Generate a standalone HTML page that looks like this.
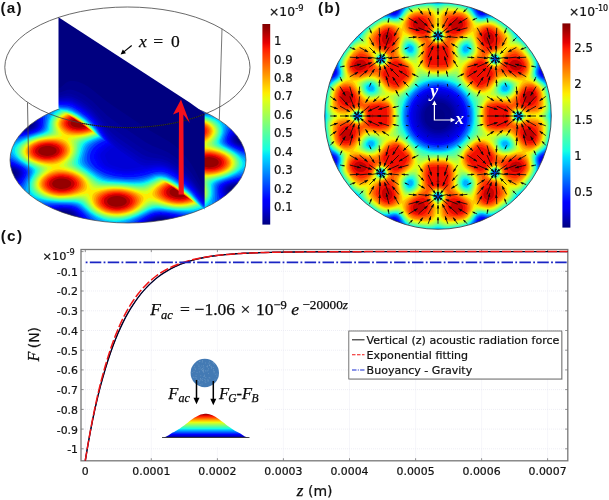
<!DOCTYPE html>
<html lang="en"><head><meta charset="utf-8"><title>Acoustic radiation force figure</title><style>html,body{margin:0;padding:0;background:#fff;overflow:hidden}
svg{display:block}
.tk{font-family:"DejaVu Sans","Liberation Sans",sans-serif;fill:#111;stroke:#111;stroke-width:0.22px}
.mi{font-family:"Liberation Serif","DejaVu Serif",serif;font-style:italic}
.mr{font-family:"Liberation Serif","DejaVu Serif",serif}
.bk{fill:#0a0a0a;stroke:#0a0a0a;stroke-width:0.25px}
.pl{font-family:"Liberation Sans","DejaVu Sans",sans-serif;font-weight:bold;font-size:15.3px;letter-spacing:1.3px;fill:#111}
</style></head><body>
<svg width="609" height="500" viewBox="0 0 609 500">
<defs><filter id="bl" x="-5%" y="-5%" width="110%" height="110%"><feGaussianBlur stdDeviation="0.7"/></filter><clipPath id="cb"><circle cx="438" cy="116" r="113.3"/></clipPath><clipPath id="ca"><ellipse cx="128" cy="160" rx="118" ry="63"/></clipPath><clipPath id="cp"><path d="M58.5 17.2L190 102.8L204.6 113.2L204.6 209.6L58.5 108.2z"/></clipPath><linearGradient id="ga" x1="0" y1="0" x2="0" y2="1"><stop offset="0.000" stop-color="#800000"/><stop offset="0.031" stop-color="#9f0000"/><stop offset="0.062" stop-color="#c40000"/><stop offset="0.094" stop-color="#e80000"/><stop offset="0.125" stop-color="#ff1e00"/><stop offset="0.156" stop-color="#ff3b00"/><stop offset="0.188" stop-color="#ff5900"/><stop offset="0.219" stop-color="#ff7700"/><stop offset="0.250" stop-color="#ff9400"/><stop offset="0.281" stop-color="#ffb200"/><stop offset="0.312" stop-color="#ffd000"/><stop offset="0.344" stop-color="#feed00"/><stop offset="0.375" stop-color="#e4ff13"/><stop offset="0.406" stop-color="#caff2c"/><stop offset="0.438" stop-color="#b1ff46"/><stop offset="0.469" stop-color="#97ff60"/><stop offset="0.500" stop-color="#7dff7a"/><stop offset="0.531" stop-color="#63ff94"/><stop offset="0.562" stop-color="#49ffad"/><stop offset="0.594" stop-color="#30ffc7"/><stop offset="0.625" stop-color="#16ffe1"/><stop offset="0.656" stop-color="#00e0fb"/><stop offset="0.688" stop-color="#00c0ff"/><stop offset="0.719" stop-color="#00a0ff"/><stop offset="0.750" stop-color="#0080ff"/><stop offset="0.781" stop-color="#0060ff"/><stop offset="0.812" stop-color="#0040ff"/><stop offset="0.844" stop-color="#0020ff"/><stop offset="0.875" stop-color="#0000ff"/><stop offset="0.906" stop-color="#0000ed"/><stop offset="0.938" stop-color="#0000c8"/><stop offset="0.969" stop-color="#0000a4"/><stop offset="1.000" stop-color="#000080"/></linearGradient><linearGradient id="gb" x1="0" y1="0" x2="0" y2="1"><stop offset="0.000" stop-color="#800000"/><stop offset="0.031" stop-color="#9f0000"/><stop offset="0.062" stop-color="#c40000"/><stop offset="0.094" stop-color="#e80000"/><stop offset="0.125" stop-color="#ff1e00"/><stop offset="0.156" stop-color="#ff3b00"/><stop offset="0.188" stop-color="#ff5900"/><stop offset="0.219" stop-color="#ff7700"/><stop offset="0.250" stop-color="#ff9400"/><stop offset="0.281" stop-color="#ffb200"/><stop offset="0.312" stop-color="#ffd000"/><stop offset="0.344" stop-color="#feed00"/><stop offset="0.375" stop-color="#e4ff13"/><stop offset="0.406" stop-color="#caff2c"/><stop offset="0.438" stop-color="#b1ff46"/><stop offset="0.469" stop-color="#97ff60"/><stop offset="0.500" stop-color="#7dff7a"/><stop offset="0.531" stop-color="#63ff94"/><stop offset="0.562" stop-color="#49ffad"/><stop offset="0.594" stop-color="#30ffc7"/><stop offset="0.625" stop-color="#16ffe1"/><stop offset="0.656" stop-color="#00e0fb"/><stop offset="0.688" stop-color="#00c0ff"/><stop offset="0.719" stop-color="#00a0ff"/><stop offset="0.750" stop-color="#0080ff"/><stop offset="0.781" stop-color="#0060ff"/><stop offset="0.812" stop-color="#0040ff"/><stop offset="0.844" stop-color="#0020ff"/><stop offset="0.875" stop-color="#0000ff"/><stop offset="0.906" stop-color="#0000ed"/><stop offset="0.938" stop-color="#0000c8"/><stop offset="0.969" stop-color="#0000a4"/><stop offset="1.000" stop-color="#000080"/></linearGradient><linearGradient id="gm" gradientUnits="userSpaceOnUse" x1="0" y1="413.5" x2="0" y2="437.5"><stop offset="0.000" stop-color="#800000"/><stop offset="0.062" stop-color="#c40000"/><stop offset="0.125" stop-color="#ff1e00"/><stop offset="0.188" stop-color="#ff5900"/><stop offset="0.250" stop-color="#ff9400"/><stop offset="0.312" stop-color="#ffd000"/><stop offset="0.375" stop-color="#e4ff13"/><stop offset="0.438" stop-color="#b1ff46"/><stop offset="0.500" stop-color="#7dff7a"/><stop offset="0.562" stop-color="#49ffad"/><stop offset="0.625" stop-color="#16ffe1"/><stop offset="0.688" stop-color="#00c0ff"/><stop offset="0.750" stop-color="#0080ff"/><stop offset="0.812" stop-color="#0040ff"/><stop offset="0.875" stop-color="#0000ff"/><stop offset="0.938" stop-color="#0000c8"/><stop offset="1.000" stop-color="#000080"/></linearGradient></defs>
<rect width="609" height="500" fill="#fff"/>
<g clip-path="url(#cb)"><g filter="url(#bl)"><rect x="322.7" y="0.7" width="230.6" height="230.6" fill="#000084"/>
<path fill="#00008d" d="M322.7 0.7l231 0 0 231-231 0zM435.7 109.4l-2.3 1.3-1.7 2.3-0.7 2.7 0.5 3 1.3 2 1.2 1 1.7 0.9 3 0.4 2-0.5 2-1.3 1.8-2.5 0.5-2-0.4-3-0.9-1.7-1-1.2-2-1.3-2-0.5z"/>
<path fill="#00009b" d="M322.7 0.7l231 0 0 231-231 0zM433.7 102.7l-3.9 2-1.1 1-1.9 2-1.1 1.9-0.3 1.1-0.7 1-0.3 4 0.3 4.3 1 2.7 2.5 3 2.4 2 1.9 1 3 1 5.2 0 1-0.5 2-0.5 1-0.7 1-0.3 4-4 0.3-1 0.7-1 0.5-2 0.5-1 0-5.2-1-3-1-1.9-2-2.4-3-2.5-2.7-1-2.3-0.3z"/>
<path fill="#0000a4" d="M322.7 0.7l231 0 0 231-231 0zM435.7 100.5l-3 0.8-2.9 1.4-2.6 2-1.8 2-1.7 3-1 3-0.3 3 0.2 3 0.9 3 1.2 2.5 1.9 2.5 2.3 2 2.8 1.6 3 1 3 0.3 3-0.2 3-0.9 3-1.5 2-1.6 2-2.3 1.4-2.4 1.1-3 0.4-3-0.1-3-0.8-3-1-2.2-2-2.8-2.1-2-2.9-1.8-3-1.1-3-0.4z"/>
<path fill="#0000b2" d="M322.7 0.7l231 0 0 231-231 0zM432.7 99.6l-3 1.3-3 2.1-2.5 2.7-1.8 3-1.1 3-0.5 3 0.2 4 0.7 3 1.4 3 2.2 3 2.4 2.1 3 1.8 3 1.1 3 0.5 4-0.2 3-0.7 3-1.4 3-2.2 2-2.2 1.7-2.8 1.2-3 0.6-3-0.1-4-0.7-3-1.3-3-2.1-3-2.3-2.2-3-1.9-3-1.2-3-0.6-4 0.1z"/>
<path fill="#0000bf" d="M322.7 0.7l231 0 0 231-231 0zM433.7 97.6l-4 1.4-3 1.9-3 2.8-2 2.8-1.5 3.2-0.9 4-0.1 4 0.5 3 1.6 4 1.9 3 2.5 2.6 3 2.1 3 1.4 4 0.9 4 0.1 3-0.5 4-1.5 3-2 2.3-2.1 2.2-3 1.4-3 1.1-4 0.1-4-0.4-3-1.4-4-1.9-3-2.4-2.7-3-2.2-3-1.4-4-1.1-4-0.1z"/>
<path fill="#0000c8" d="M322.7 0.7l231 0 0 231-231 0zM435.7 95.6l-4 0.9-4 1.8-3.3 2.4-2.7 2.9-2 3.1-1.5 4-0.7 4 0.2 4 0.9 4 1.9 4 2.3 3 2.9 2.7 3 1.9 4 1.5 4 0.7 4-0.2 4-0.9 3.6-1.7 3.4-2.5 2.4-2.5 2-3 1.6-4 0.7-4 0-4-0.9-4-1.8-4-2.1-3-2.9-2.8-3-2-4-1.6-4-0.7z"/>
<path fill="#0000d6" d="M322.7 0.7l231 0 0 231-231 0zM432.7 94.5l-4 1.4-4 2.4-3 2.7-2.7 3.7-1.9 4-1 4-0.2 5 0.7 4 1.5 4 2.5 4 2.9 3 3.2 2.3 4 1.9 4 1 5 0.2 4-0.7 4-1.5 3.6-2.2 3.2-3 2.3-3 1.9-4 1.1-4 0.3-5-0.6-4-1.4-4-2.4-4-2.7-3-3.3-2.5-4-1.9-4-1.1-5-0.3z"/>
<path fill="#0000df" d="M322.7 0.7l231 0 0 231-231 0zM332.7 71.3l-0.7 0.4-0.3 1 1 1 0.9-1 0.2-1zM394.7 9.7l-1 0.3-0.4 0.7 0.2 1 1.2-0.1 1-0.9zM433.7 92.6l-5 1.5-4 2.2-4 3.4-2.4 3-2.2 4-1.5 5-0.3 5 0.4 4 1.2 4 2 4 3.2 4 3.6 3 4 2.2 5 1.5 5 0.3 4-0.4 4-1.2 4.6-2.4 3.6-3 2.8-3.4 2.4-4.6 1.2-4 0.4-4-0.3-5-1.5-5-2.2-4-3-3.6-3-2.5-4-2.3-5-1.6-4-0.4zM481.7 9.7l-1 0.4-0.3 0.6 1.1 1 0.8 0 0.5-1zM542.7 71.3l-0.3 1.4 0.3 0.6 1 0.2 0.5-0.8-0.2-1zM332.7 158.4l-0.6 0.3-0.4 1 1 1.1 1-0.5 0.1-0.6zM393.7 220.4l-0.4 0.3 0.4 1.3 1 0.2 0.8-0.5-0.2-1-0.6-0.3zM480.7 220.7l-0.2 1 0.2 0.3 1 0.3 0.9-0.6 0.1-1-1-0.4zM542.7 158.7l-0.4 1 0.4 1 1-0.1 0.6-0.9-0.3-1-0.3-0.2z"/>
<path fill="#0000ed" d="M322.7 0.7l231 0 0 231-231 0zM331.7 70.4l-1 1-0.2 1.3 0.4 1 0.8 0.8 1 0.2 1.2-1 0.4-1 0.2-1-0.8-1.4-1-0.2zM393.7 8.6l-1.3 1.1-0.3 1 0.2 1 1.4 0.8 1-0.2 1-0.4 1-1.2-0.2-1-1.2-1zM436.7 90.7l-5 0.7-5 1.9-4 2.5-4 3.7-2.9 4.2-1.8 4-1.2 5-0.1 5 0.8 5 2 5 2.6 4 3.6 3.7 4 2.8 4 1.8 5 1.2 5 0.1 5-0.8 4.6-1.8 4.4-2.8 3.4-3.2 2.9-4 1.8-4 1.3-5 0.2-5-0.7-5-1.9-5-2.5-4-3.5-3.8-4-2.9-4-1.8-5-1.3zM480.7 8.6l-1.2 1.1-0.1 1 0.7 1 1.6 0.7 1 0 1-0.6 0.2-1.1-0.2-0.8-1-1.2-1-0.2zM541.7 70.7l-0.1 2 0.6 1 1.5 1.1 1-0.6 0.8-1.5-0.1-1-0.6-1-1.1-0.5-1 0zM331.7 157.5l-1.1 1.2-0.1 1 0.2 1 1.2 1 1.8 0.1 0.7-1.1 0-1-0.3-1-1.4-1.3zM392.7 219.7l-0.5 1 0 1 0.5 1.1 1 0.6 1 0.1 1.5-0.8 0.6-1-1.1-1.5-1-0.6zM481.7 219.6l-1 0.3-1 0.8-0.4 1 0.5 1 0.9 0.6 1 0.2 1-0.3 0.6-0.5 0.5-1 0.1-1-0.7-1zM543.7 157.3l-1 0.4-0.8 1-0.3 1 0.1 1.5 1 0.7 1-0.1 1-0.5 0.5-0.6 0.3-1-0.2-1-0.6-0.9z"/>
<path fill="#0000f6" d="M322.7 0.7l231 0 0 231-231 0zM331.7 69.5l-1.6 1.2-0.5 1 0 1 0.3 1 0.8 1 1 0.6 1-0.1 1-0.6 1-1.3 0.3-1.6-0.2-1-0.1-0.4-1-0.8zM393.7 7.6l-1 0.5-1 1.1-0.4 1.5 0.2 1 0.8 1 2.4 0.2 1-0.4 0.9-0.8 0.6-1 0.1-1-0.6-1-1-0.8zM432.7 89.6l-4 1.1-5.8 3-3.5 3-3.7 4.2-3 5.8-0.4 2-0.6 1.5-0.4 5.5 0.4 6 2 6 0.8 1 0.2 0.8 3 4.2 3 3 4.7 3 4.4 2 4.5 1 7.5 0 4.2-1 2.7-1 3.7-2 3.8-3 3.5-3.9 2-3 2-4.8 1-4.3 0-7.4-1-4.6-3-6.1-2-2.9-4.3-4-4.7-3-5.9-2-6.1-0.4zM481.7 7.6l-1 0.1-1.4 1-0.6 1 0 1 1 1.3 1 0.7 1 0.3 2.1-0.3 0.7-1 0-2-0.8-1.3-1-0.7zM541.7 69.7l-0.7 2 0.5 2 0.9 1 1.3 0.7 1-0.3 1-0.9 0.7-1.5-0.1-1-0.4-1-1.1-1-1.1-0.3zM331.7 156.7l-1.4 1-0.6 1 0 2 0.7 1 1.3 0.8 2 0 1-0.8 0.3-2-0.3-1-0.7-1-1.3-1zM391.7 219.7l-0.3 2 0.3 1.1 1 1.1 1 0.4 1 0.1 1.5-0.7 0.9-1 0.3-1-0.7-1.3-1-0.9-2-0.5zM480.7 219.3l-1.6 1.4-0.5 1 0.1 0.6 1 1.4 1 0.5 2 0 1-0.6 0.6-0.9 0.4-1-0.4-2-1.6-0.6zM543.7 156.6l-1.7 1.1-0.7 1-0.3 1 0.3 2 0.4 0.6 1 0.3 2-0.3 0.9-0.6 0.6-1 0.2-1-0.7-2-1-0.8z"/>
<path fill="#0000ff" d="M322.7 0.7l231 0 0 231-231 0zM332.7 68.7l-1 0.1-1.8 0.9-0.7 1-0.3 1 0 1 0.8 1.9 2 1.4 1-0.2 1.6-1.1 0.7-1 0.4-1-0.1-2-0.6-1.4zM392.7 7.2l-1 0.7-0.9 1.8 0 2 0.5 1 2.4 0.7 2-0.4 1-0.7 1.1-1.6 0.2-1-0.3-0.7-1-1.2-1-0.6-2-0.3zM435.7 88.7l-5 0.9-5.4 2.1-4.6 3-4 4-3 4.6-2 4.9-1 5.5 0 4.9 1 5.2 1 2.8 1.5 3.1 3.5 4.7 3.5 3.3 4.9 3 5.6 2 5 0.6 5-0.1 5-1.2 5-2.2 4.3-3.1 3.8-4 3-5 1.9-5.4 0.6-5.6-0.2-5-1.3-5-2.1-4.5-3-4.2-4-3.8-4-2.5-5-2-5.1-1zM479.7 7.5l-1 0.9-0.7 1.3 0.7 1.8 1 1.2 2 0.7 2-0.2 1.1-0.5 0.4-1 0-2-0.3-1-0.9-1-1.3-0.7-1-0.2zM543.7 68.7l-2 0.3-1 1.7-0.1 1 0.1 1.3 1 1.7 2 1.2 1-0.1 1.5-1.1 0.6-1 0.3-2-0.3-1-0.7-1-1.4-0.8zM330.7 156.5l-1.2 1.2-0.5 1 0 2 0.4 1 1 1 1.3 0.5 2 0 1-0.4 0.5-1.1 0.2-2-0.7-1.9-2-1.5-1-0.3zM392.7 218.7l-1.7 1-0.3 1 0.2 2 0.8 1.4 1 0.7 1 0.3 2-0.3 1-0.6 1-1.2 0.2-1.3-0.2-0.5-1-1.5-1-0.7-1-0.4zM481.7 218.6l-1 0.2-1 0.6-1 1.1-0.6 1.2 0.1 1 0.6 1 1.2 1 1.7 0.5 2-0.6 1-1 0.6-1.9 0-1-0.6-1.3-1-0.6zM542.7 156.6l-1.3 1.1-0.6 1-0.2 1 0.2 2 0.9 1.3 2 0.3 1-0.2 1-0.5 1-1.1 0.5-1.8-0.2-1-1.3-1.9-1-0.6-1-0.1z"/>
<path fill="#000cff" d="M322.7 0.7l231 0 0 231-231 0zM330.7 68.4l-1 0.6-1 1.1-0.5 1.6 0 1 0.5 1.5 1 1.3 2 1.1 1.9-0.9 1.2-1 1-2-0.1-2-1-2.1-2-0.5zM392.7 6.4l-1 0.6-1.3 1.7-0.3 2 0.5 2 2.1 1 2 0.1 1-0.3 1.1-0.8 0.9-1.1 0.9-1.9-0.4-1-0.7-1-1.8-1.2-2-0.3zM432.7 88.7l-5 1.4-5 2.6-4 3.2-4 4.8-2.6 5-1.4 5-0.6 5 0.6 5.8 1.6 5.2 2.7 5 3.3 4 4.4 3.6 5 2.6 5 1.4 6 0.5 5-0.5 5-1.6 5-2.7 4-3.3 3.3-4 2.7-5 1.6-5 0.5-5-0.5-6-1.4-5-2.6-5-3.6-4.4-4-3.3-5-2.7-5-1.6-5-0.5zM480.7 6.3l-2 1.2-1 1.5-0.2 0.7 0.9 2 0.8 1 1.5 0.9 2 0.2 2-0.6 0.7-0.5 0.5-2-0.2-1.6-0.7-1.4-1.3-1.1-1-0.4zM541.7 68.4l-1 1-0.4 1.3-0.1 2 0.3 1 0.7 1 1.2 1 1.3 0.7 1 0 1.3-0.7 1.5-2 0.3-2-0.2-1-0.6-1-1.3-1.1-2-0.5zM331.7 155.5l-2 1-1 1.2-0.4 1-0.1 2 0.4 1 0.8 1 1.3 0.9 1 0.3 2-0.1 1-0.4 0.9-1.7 0.2-2-0.2-1-1.4-2zM391.7 218.6l-1.3 1.1-0.3 2 0.5 2 0.8 1 1.3 0.9 1 0.2 2-0.3 1-0.5 1-1 0.7-1.3 0-1-1.2-2-1.2-1-1.3-0.5zM480.7 218.4l-2 1.4-1.1 1.9 0 1 1.1 1.8 1 0.7 1 0.5 2 0.1 2-1.1 0.7-1 0.5-2-0.2-1.6-1.1-1.4-1.9-0.5zM543.7 155.6l-1.9 1.1-0.9 1-0.7 2 0.6 3 0.9 0.9 1 0.3 2-0.1 1-0.4 1-0.7 1.1-2-0.1-2-1-1.7-1.7-1.3z"/>
<path fill="#0038ff" d="M322.7 0.7l231 0 0 231-231 0zM329.7 66.4l-2 1.1-1.1 1.2-0.8 2-0.1 2 0.7 2 1.6 2 2.7 1.5 1-0.1 3-1.7 1.6-1.7 0.7-2-0.1-2-0.9-3-0.3-0.6-0.7-0.4-2.3-0.7zM393.7 3.7l-2 0.4-2.2 1.6-1.1 2-0.4 3 0.5 2 0.6 1 2.6 1 3 0.3 2-0.7 1.7-1.6 1.3-2.2 0.5-1.8-1-2-1.5-1.6-2-1.2zM434.7 86.6l-6 1.3-5 2.2-5 3.5-3.9 4.1-3.2 5-2 5-1.1 6 0.2 6 1.4 6 2.2 5 3.4 4.7 4 3.8 5 3.2 5 2 6 1.1 6-0.2 6-1.4 4.9-2.2 4.3-3 4-4 3.3-5 2.1-5 1.1-6 0-6-1.3-6-2.2-5-3.2-4.6-4-4-5-3.3-5-2.1-6-1.1zM481.7 3.7l-2 0.5-2 1.4-1 1.2-0.9 1.9 0.1 1 0.8 1.6 1.8 2.4 2.2 1.2 2 0.1 2-0.4 2.3-0.9 0.8-2 0.2-2-0.8-3-1.5-1.8-2-1zM541.7 66.4l-1 0.4-1.1 1.9-0.7 3 0.3 2 1.3 2 1.2 1 3 1.5 1-0.1 2.3-1.4 1.6-2 0.7-2-0.4-3-1.3-2-1.9-1.2-3-0.5zM329.7 154.2l-2.1 1.5-1.4 2-0.5 2 0.2 2 0.3 1 1.5 1.8 2 1.1 3 0.4 2-0.5 1.2-0.8 1-3 0.1-2-0.5-2-1.6-2-1.6-1-1.6-0.8-1-0.1zM390.7 217.6l-1.9 1.1-0.7 2 0.1 3 0.8 2 1.7 1.7 2 0.8 3-0.2 2-1.1 1.9-2.2 0.6-2-1.5-3.1-1-1.1-2-1.3-2-0.3zM479.7 217.4l-2 1.7-1.5 2.6-0.4 1 0.6 2 1.3 1.7 2 1.4 1 0.4 2 0.1 2-0.5 2-1.7 1.1-2.4 0.1-3-0.7-2-1.5-1-2-0.6-2-0.1zM542.7 154.7l-2.6 2-1 2-0.1 2 0.7 2.9 1 1.6 1 0.4 2 0.4 3-0.5 1.4-0.8 1.7-2 0.5-2-0.1-2-0.4-1-1.4-2-2.7-1.8-1-0.1z"/>
<path fill="#0060ff" d="M322.7 0.7l231 0 0 231-231 0zM328.7 64.4l-2.5 1.3-2 2-0.8 2-0.1 2 0.7 3 1.1 2 2.6 2.1 3 1 4-2.2 2.2-1.9 1-2 0-3-1.2-4.4-1-1.2-2-0.8-2-0.3-2 0.1zM356.7 114.7l-0.7 1 0.2 1 0.5 0.5 1 0.3 1-0.6 0.3-1.2-0.3-0.6-1-0.6zM380.7 57.6l-1 0.9 0 1.2 1 0.8 1-0.1 0.7-0.7 0.1-1-0.8-1zM391.7 1.4l-2 0.8-1 0.9-1.9 2.6-0.9 3 0.4 3 0.8 2 1.2 1 4.4 1.2 3 0 2-1 1.9-2.2 2.2-4-0.2-1-1.5-3-2-2-3.4-1.3zM430.7 85.6l-6 2.1-5 2.9-4.6 4.1-3.8 5-2.8 6-1.5 6-0.2 6 0.9 6 2.2 6 3 5 3.8 4.2 5 3.8 6 2.8 6 1.5 6 0.2 6-0.9 6-2.2 5-3 4.7-4.4 3.3-4.4 2.7-5.6 1.5-6 0.4-6-0.9-6-2.1-6-2.9-5-3.7-4.2-5-4-6-2.9-6-1.5-6-0.4zM436.7 34.7l-0.2 1 0.6 1 0.6 0.3 1.2-0.3 0.6-1-0.3-1-0.5-0.5-1-0.2zM480.7 1.6l-3 1.2-1.8 1.9-1.2 2-0.5 2 1.6 3 1.9 2.6 2 1.4 3 0.3 5-1.3 1.2-1 1-3 0.1-3-0.8-2-1.5-2.2-2-1.6-2-0.6zM494.7 57.6l-1.2 1.1 0 1 1.2 0.9 1-0.3 0.6-0.6 0.1-1-0.7-1zM517.7 114.7l-0.7 1 0.2 1 0.5 0.5 1 0.3 1-0.6 0.3-1.2-0.3-0.5-1-0.7zM541.7 64.5l-2.1 1.2-1.5 5 0 3 1 2 2.3 2 3.3 1.8 1 0.3 1-0.3 3-1.7 1.8-2.1 0.8-2 0.4-2-0.4-3-1.6-2.2-3-2-3-0.5zM329.7 152.4l-2.8 1.3-2.1 2-1.2 3-0.3 3 0.6 2 0.6 1 2.2 1.9 3 1.4 3-0.1 3-1 1-1.2 1.2-4 0-3-0.7-2-2-2-4.5-2.5zM380.7 171.5l-1 0.9 0 1.3 1 0.7 1-0.1 0.6-0.6 0.3-1-0.9-1.2zM390.7 216.5l-3.2 1.2-1 2-0.5 2 0 2 1 3 1.7 2.2 1 0.8 2 0.9 3 0 3-1.1 2.1-1.8 1.7-3 0.3-1-1.3-3-1.8-2.6-2-1.6-3-0.5zM436.7 195.7l-0.2 1 0.7 1 0.5 0.3 1.2-0.3 0.6-1-0.3-1-0.5-0.5-1-0.2zM479.7 216.3l-2 1.4-2 2.7-1.5 3.3 0.5 1.6 2 3 2 1.4 2 0.7 2 0.3 3-0.6 1-0.6 1.6-1.8 1.5-3 0.2-3-0.9-3-0.6-1-3.8-1.3-3-0.4zM494.7 171.4l-1 0.7-0.3 0.6 0.2 1 1.1 0.7 1-0.2 0.5-0.5 0.2-1-0.7-1.1zM544.7 152.5l-3 1.6-2 1.6-1.4 2-0.3 3 0.6 3 1.1 2.8 3 1.3 3 0.2 3-1 2-1.5 1.4-1.8 0.6-3-0.5-3-1-2-0.9-1-3-2-1.6-0.5z"/>
<path fill="#0088ff" d="M322.7 0.7l63.9 0-1.6 3-1.4 4-0.1 2 1 3 1.2 2 1 0.6 6 1.5 2 0.1 2-0.4 2.5-1.8 1.5-2.1 2.7-4.9-0.7-2.7-1-2.1-0.9-1.2-1.4-1 77.2 0-1.4 1-0.8 1-1 2-0.8 3 2.2 4 2 3 1.9 1.5 1 0.4 2 0.3 3-0.4 5-1.4 0.6-0.4 1.2-2 1-3-0.1-2-1.4-4-1.6-3 64.3 0 0 64.2-3-1.7-4-1.5-2-0.2-3 0.8-2 1.1-1 1.1-1.3 5.2-0.3 3 0.4 2 1.3 2 2.6 2 4.3 2.6 2-0.2 3.4-1.4 1.3-1 1.3-2 0 78.6-1-1.6-2-1.6-3-1.2-2-0.2-4.9 3-2.1 1.7-1.3 2.3-0.3 2 0.2 2 1.4 6 1 0.9 2 1 3 0.9 2-0.2 4-1.5 3-1.7 0 64.6-64.6 0 1.7-3 1.5-4 0.2-2-0.9-3-1-2-0.9-1-6-1.4-2-0.2-2 0.3-2.3 1.3-1.7 2.1-3 4.9 0.2 2 1.2 3 1.6 2 1.6 1-78.6 0 2-1.3 1-1.3 1.4-3.4 0.2-2-2.6-4.3-2-2.6-2-1.3-2-0.4-3 0.3-5.2 1.3-1.1 1-1.1 2-0.8 3 0.2 2 1.5 4 1.7 3-64.2 0 0-64.3 3 1.6 4 1.4 2 0.1 3-1 2-1.2 0.4-0.6 1.4-5 0.4-3-0.3-2-0.4-1-1.5-1.9-3-2-4-2.2-3 0.8-2 1-1 0.8-1 1.4 0-77.2 1 1.4 1.2 0.9 2.1 1 2.7 0.7 4.9-2.7 2.1-1.5 1.8-2.5 0.4-2-0.1-2-1.5-6-0.6-1-2-1.2-3-1-2 0.1-4 1.4-3 1.6zM356.7 114.1l-1 0.8-0.3 0.8 0.1 1 1.2 1.2 1 0.2 1-0.3 0.8-1.1 0.1-1-0.4-1-1.5-0.8zM379.7 57.4l-0.7 1.3 0.1 1 0.6 1 1 0.5 1-0.1 0.8-0.4 0.6-1 0.1-1-0.5-1-1-0.6-1-0.1zM431.7 83.6l-4 1.1-2.7 1-5.3 2.9-5 4.1-4.1 5-2.9 5.3-2 6.3-0.6 6.4 0.6 7 2 6.3 3 5.5 3.5 4.2 4.5 4 5 3 5.2 2 5.8 1.1 4 0.1 4-0.3 4-0.8 3-1 4.5-2.1 4.5-3 5-5 2.1-3 1.7-3 2.2-5.6 1.1-5.4-0.1-8-1.1-5-1-3-1.9-4-2-3-2-2.5-2.5-2.5-3.5-2.9-5.7-3.1-6.3-2-6-0.6zM437.7 33.4l-1 0.4-0.6 0.9-0.2 1 0.8 1.5 1 0.4 1-0.1 1.1-0.8 0.3-1-0.2-1-0.8-1zM493.7 57.4l-0.9 1.3 0.1 1 0.6 1 1.2 0.5 1.5-0.5 0.7-1 0.1-1-0.4-1-0.9-0.6-1-0.1zM517.7 114.1l-1 0.8-0.3 0.8 0.1 1 1.2 1.3 1 0.1 1-0.3 0.8-1.1 0.1-1-0.5-1-1.4-0.8zM379.7 171.3l-0.7 1.4 0.1 1 0.6 0.9 1 0.4 1-0.1 1-0.7 0.5-1.5-0.5-1.2-1-0.6-1-0.1zM437.7 194.4l-1 0.4-0.6 0.9-0.2 1 0.8 1.4 1 0.5 1-0.1 1-0.7 0.4-1.1-0.4-1.4-1-0.8zM493.7 171.2l-0.9 1.5 0.2 1 0.7 1 1 0.3 1.4-0.3 0.8-1 0.1-1-0.3-1-1-0.7-1-0.2z"/>
<path fill="#00b0ff" d="M330.3 0.7l51.3 0-1.6 7-0.1 3 0.6 1 3.4 4 8.8 1.9 2 0.1 2-0.4 2.6-1.6 1.4-1.7 3-4.7 1.4-1.6 0.3-1-0.6-6 30.7 0 1.2 1.5 1 0.5 1-0.1 1.7-1.9 30.8 0-0.5 6 0.2 1 1.7 2 2.5 4 1.6 2 2 1.4 3 0.6 10-1.8 1.4-1.2 2.4-3 0.7-1 0-2-1.8-8 51.4 0-26.1 26.1-0.6 0.9-1.5 6 0 1 0.8 1 1.3 0.7 3-0.5 4.1-1.2 26.9-26.9 0 51.9-7-1.7-3-0.2-1 0.3-4 3.4-0.7 1.2-1.6 8-0.1 2 0.3 2 0.5 1 1.6 2 6 4 2 1.7 6-0.5 1-0.4 0 30.8-1.9 1.4-0.2 1 0.1 1.4 2 1.6 0 30.8-1-0.4-6-0.4-8.4 6-1.4 2-0.6 3 1.7 10 4.7 4.2 1 0.3 3-0.2 7-1.7 0 51.8-27-26.9-7-1.6-1 0.1-1 1-0.1 1 1.6 7 26.9 27-51.8 0 1.7-7 0.2-3-0.3-1-4.2-4.7-10-1.7-3 0.6-2 1.4-6 8.4 0.4 6 0.4 1-30.8 0-1.6-2-1.4-0.1-1 0.2-1.4 1.9-30.8 0 0.4-1 0.5-6-1.7-2-4-6-2-1.6-1-0.5-2-0.3-2 0.1-8 1.6-1.2 0.7-3.4 4-0.3 1 0.2 3 1.7 7-51.9 0 26.9-26.9 1.2-4.1 0.5-3-0.7-1.3-1-0.8-1 0-6 1.5-0.9 0.6-26.1 26.1 0-51.4 8 1.8 2 0 1-0.7 3-2.4 1.2-1.4 1.8-10-0.6-3-1.4-2-2-1.6-4-2.5-2-1.7-1-0.2-6 0.5 0-30.8 1.9-1.7 0.1-1-0.5-1-1.5-1.2 0-30.7 6 0.6 1-0.3 1.6-1.4 4.7-3 1.7-1.4 1.6-2.6 0.4-2-0.1-2-1.9-8.8-4-3.4-1-0.6-3 0.1-7 1.6 0-51.3 26.5 26.4 4.5 1.3 3 0.4 1-0.6 0.7-1.1-0.4-3-1.3-4.5zM380.7 56.5l-1 0.3-0.9 0.9-0.3 1 0 1 1.2 1.6 1 0.4 1 0 1.5-1 0.5-1 0-1-1-1.7-1-0.5zM430.7 82.5l-6 1.9-6 3.3-3 2.4-2.7 2.6-4 5-3 6-1.7 6-0.5 7 0.3 4 0.5 3 2 6 3.4 6 4.7 5.3 5 4 6 3 6 1.7 7 0.5 4-0.3 3-0.5 6-2 6-3.4 5-4.4 4-4.9 3.1-6 1.8-6 0.4-3 0.2-4-0.2-4-0.5-3-1.9-6-3.3-6-4.6-5.3-5-4.1-6-3.1-6-1.8-3-0.4-4-0.2-4 0.2zM436.7 33.2l-1.2 1.5-0.1 1 0.2 1 0.9 1 1.2 0.4 1.7-0.4 0.9-1 0.3-1-0.1-1-0.6-1-1.2-0.7-1-0.1zM494.7 56.5l-1 0.3-1 0.9-0.4 1 0.1 1 0.4 1 0.9 0.7 1 0.3 1-0.1 1-0.6 0.8-1.3 0-1-0.8-1.6-1-0.5zM517.7 113.5l-1.5 1.2-0.3 1 0.1 1 0.7 1.2 1 0.6 1 0.1 1-0.3 0.8-0.6 0.5-1 0.1-1-0.3-1-1-1-1.1-0.3zM356.7 113.5l-1.5 1.2-0.3 1 0.1 1 0.5 1 1.2 0.8 1 0.1 1-0.3 0.8-0.6 0.5-1 0.1-1-0.3-1-1.1-1.1-1-0.2zM379.7 170.7l-0.9 1-0.3 1 0.1 1 0.5 1 1.6 0.8 1 0 1-0.5 0.9-1.3 0.1-1-0.3-1-0.7-0.9-1-0.4-1-0.1zM436.7 194.2l-1.2 1.5-0.1 1 0.3 1 1 1.1 1 0.3 1.7-0.4 0.9-1 0.3-1-0.1-1-0.6-1-1.2-0.7-1-0.1zM493.7 170.6l-1.1 1.1-0.3 1 0.4 1.6 1 0.9 1 0.3 1-0.1 1-0.5 0.7-1.2 0.1-1-0.3-1-0.5-0.7-1-0.6-1-0.1z"/>
<path fill="#00dcfe" d="M412.2 1.7l3.2-1 14.7 0 2 2 5.6 1 2-0.1 4.2-0.9 2-2 14.7 0 3.1 1 2 1.2 1 1.2 1.3 2.6 0.7 0.3 2.9 2.7 4.1 6 1 1 2 1.2 2 0.5 2 0 6-1.2 2-0.2 4 0.3 2-0.7 2-0.1 2 0.5 3 1.6 5.4 4.1 3.6 3.5 1.2 2.5 0.1 3 3.5 5 4.2 3.1 4 0.4 2 1 3 3 4.3 5.5 1.8 3 0.7 3-0.2 2-0.7 2 0.3 5-1.3 7 0.1 2 0.6 2 1.4 2 1 1 5.9 4 3.1 3.5 3 1.8 1.8 2.7 0.9 3 0.3 1.8 0 11.9-0.8 1.3-1.2 1.1-1 3-0.4 2.9 0.4 3.5 1 3 2 2.4 0 11.8-0.4 2.3-1 3-1.2 2-1.2 1-2.2 1.1-3.6 3.9-5.4 3.7-1.4 1.3-1.2 2-0.5 2 0 2 1.3 7-0.3 4 0.8 3 0.1 2-0.5 2-1.6 3-4.6 6-3.1 3.1-2 1-3 0.2-1 0.4-3 1.9-1.6 1.4-2.7 4-0.4 1-0.2 3-1 2-3.1 3.1-6 4.6-3 1.6-2 0.5-2-0.1-3-0.8-4 0.3-7-1.3-2 0-2 0.5-2 1.2-1.3 1.4-3.7 5.4-3.9 3.6-1.1 2.2-1 1.2-2 1.2-3 1-2.3 0.4-11.8 0-2.4-2-3-1-3.5-0.4-2.9 0.4-3 1-1.1 1.2-1.3 0.8-11.9 0-1.8-0.3-3-0.9-2.7-1.8-1.8-3-3.5-3.1-4-5.9-1-1-2-1.4-2-0.6-2-0.1-7 1.3-5-0.3-2 0.7-2 0.2-3-0.7-3-1.8-5.5-4.3-3-3-1-2-0.4-4-3.1-4.2-5-3.5-3-0.1-2.5-1.2-3.5-3.6-4.1-5.4-1.6-3-0.5-2 0.1-2 0.7-2-0.3-4 0.2-2 1.2-6 0-2-0.5-2-1.2-2-1-1-6-4.1-2.7-2.9-0.3-0.7-2.6-1.3-1.2-1-1.2-2-1-3 0-14.8 2-2 0.9-4.2 0.1-2-1-5.6-2-2 0-14.7 0.8-2.7 1.2-2.1 1-1 3-1.6 0.8-1.3 2.2-2.3 6-4.1 2-2.6 0.6-2 0.1-2-1.3-7-0.1-2 0.4-3-0.7-2-0.2-2 0.7-3 1.5-2.6 5-6.4 3-2.8 2-0.8 3-0.2 2.2-1.2 2.8-2.2 2-2.6 1.2-2.2 0.2-3 0.8-2 2.8-3 6-4.7 3-1.8 3-0.7 2 0.2 2 0.7 3-0.4 2 0.1 7 1.3 2-0.1 2-0.6 1.6-1 1.4-1.5 4-5.8 2-1.9 1.3-0.8 1.7-3.1 1-1zM436.7 32.7l-1 0.8-0.6 1.2 0.1 2 0.6 1 0.9 0.6 1 0.3 1-0.1 1-0.4 1-1.1 0.4-1.3-0.1-1-0.5-1-1.3-1-1.5-0.3zM465.7 45.6l-1.8 1.1-0.8 2 0.1 1 0.5 1.2 1 0.8 1 0.1 1-0.3 1-0.7 1-2.1-0.1-1-0.9-1.6-1-0.5zM493.7 56.3l-1.5 1.4-0.3 2 0.4 1 1 1 1.4 0.5 1-0.1 1-0.5 1-1.3 0.3-1.6-0.3-1-0.8-1-1.2-0.6zM504.7 85.4l-1 0.5-0.9 0.8-0.5 1-0.1 1 0.3 1 1.2 1 2 0.2 2-1.2 0.8-2-0.3-1-1.1-1-1.4-0.4zM516.7 113.5l-1 1.2-0.3 1 0.1 1 0.4 1 0.8 0.8 1 0.5 1 0.1 1.2-0.4 1.2-1 0.4-1 0.1-1-0.3-1-0.6-0.8-1-0.7-2-0.2zM355.7 113.5l-1 1.2-0.3 1 0.1 1 0.4 1 0.8 0.8 1 0.5 1 0.1 1.3-0.4 1.1-1 0.4-1 0.1-1-0.3-1-0.6-0.9-1-0.6-2-0.1zM369.7 85.4l-1 0.4-1 0.9-0.2 1 0.2 1 0.6 1 1.4 1 2 0.1 1-0.4 0.8-0.7 0.3-1-0.1-1-0.5-1-1.5-1.1zM379.7 56.3l-1 0.8-0.7 1.6 0.5 2 1 1 1.2 0.4 2-0.4 1-1 0.4-1-0.3-2-0.8-1-1.3-0.6zM409.7 45.5l-1 0.2-0.9 1-0.5 2 0.4 1.3 1 1.2 1 0.5 1 0.1 1-0.3 0.7-0.8 0.5-2-0.2-1-1-1.4-1-0.6zM435.7 80.7l-4 0.4-3 0.6-4 1.4-3 1.3-3 1.8-3 2.3-5.2 5.2-3.8 5.5-2.7 6.5-1.2 6 0 8 0.5 4 0.8 3 1.6 4 1.5 3 3.6 5 5.9 5.7 3 2 3 1.7 6 2.2 6 1 7-0.1 3.8-0.5 3.2-0.8 4-1.6 3-1.5 5-3.6 5.3-5.5 3.7-5.7 2.5-6.3 1-6 0-8-0.5-3.2-1-3.7-2.7-6.1-3.5-5-5.8-5.7-5-3.4-6-2.5-6-1.3zM493.7 170.1l-1 0.6-0.6 1-0.2 2 0.5 1 1.3 1 1 0.3 1.5-0.3 1.3-1 0.4-1-0.2-2-1-1.3-1-0.5zM503.7 141.4l-1 0.7-0.5 1.6 0.3 1 0.7 1 1.5 0.9 1 0.1 2-0.8 0.7-1.2 0-1-0.7-1.3-1-0.9-1-0.3zM369.7 141.3l-1.7 1.4-0.4 1 0.1 1.4 1 1.1 1 0.4 2-0.2 1.1-0.7 0.7-1 0.3-1-0.1-1-0.8-1-1.2-0.5zM379.7 170.2l-1.4 1.5-0.2 2 0.4 1 1.2 1 1 0.3 2-0.5 0.9-0.8 0.5-1 0.1-1-0.5-1.4-1-1-1-0.4zM409.7 180.3l-1 0.5-0.8 0.9-0.6 2 0.2 1 0.6 1 0.6 0.5 1 0.3 2-0.8 1-1.5 0.2-1.5-0.2-1-1-1.2-1-0.3zM436.7 193.7l-1.2 1-0.5 1 0.2 2 0.7 1 0.8 0.6 1 0.3 1-0.1 1-0.4 1-1.2 0.4-1.2-0.1-1-0.5-1-1.2-1-1.6-0.3zM464.7 180.3l-1.3 1.4-0.2 2 0.3 1 0.9 1 1.3 0.7 1 0 1-0.5 0.8-1.2 0.1-2-0.5-1-1-1-1.4-0.5z"/>
<path fill="#19ffde" d="M425.5 3.7l2.2-0.3 3 0.1 7 1.2 7-1.1 3-0.2 8 0.7 6 1.1 4 1.3 3.7 2.2 2.3 2.4 2.3 3.6 1.7 2 3 2 2 0.4 2 0 7-1.3 4 0.5 3 1.1 2 1.1 7 4.8 6 5.3 5 6.7 5 3.5 3.1 2.9 4.2 5 4.2 6 2.3 5 0.6 3-0.1 3-1.1 6 0.1 2 0.5 2 2.2 3 5.7 4 2.7 3 2.2 5 1 4 0.9 6 0.3 8-1.2 7 1.1 7 0.1 3-0.4 6-0.8 6-1.1 4-1.2 3-1.3 2.2-2.8 2.8-5.2 3.6-1.2 1.4-1.2 2-0.4 2 0 2 1.2 6-0.2 4-1.8 5-3.9 6-3.1 4-3.7 4-6.7 5-3.5 5-1.8 2-3.7 3.4-7 5.2-5 2.7-4 1.1-3 0-6-1.2-2 0-2 0.4-3 2-5 6.8-3 2.4-4 1.7-4 1.1-6 0.8-8 0.4-8-1.2-6 1.1-3 0.1-6-0.3-7-1.1-4-1.1-3-1.3-2-1.3-2-2-4-5.7-3-2.2-2-0.5-2-0.1-6 1.1-4 0-2-0.5-3-1.2-5-3-4-3.1-5-4.4-1.9-2.1-3.5-5-5.6-4-2.1-2-4.3-5-4.2-6-1.7-3-1.1-3-0.4-2 0-3 1.2-6 0-2-0.4-2-2-3-2-1.7-4-2.6-2.6-2.7-1.6-3-1.3-4-1.1-6-0.7-9 1.3-9-1.1-6-0.2-4 0.8-8 0.9-5 1.2-4 2.3-4 2.1-2.1 5.6-3.9 2.2-3 0.5-2 0.1-2-1.2-7 0.3-4 2-5 4-6 4.1-5 2.4-2.5 7-5.3 3.6-5.2 3.4-3.4 5-4.1 6-4 4-1.7 3-0.6 3 0.1 6 1.1 2-0.1 2-0.5 3-2.2 5-6.8 3-2.2 2-1 4-1.2 5-0.9zM433.7 79.6l-4 0.6-3 0.8-3 1-4 2.1-3 2-3 2.6-3.9 4-2.4 3-1.9 3-1.5 3-1.8 6-0.7 6 0 5 0.4 4 0.6 3 1.3 4 1.4 3 1.8 3 4.1 5 3.6 3.5 3 2.4 3 1.9 3 1.5 6 1.8 6 0.7 5 0 4-0.4 4-0.9 3-1 6-3.2 3-2.2 4-3.9 4.3-5.2 3.2-6 1.7-6 0.6-6-0.3-8-0.9-4-0.9-3-3.1-6-4-5-3.6-3.6-3-2.4-3-2-3-1.5-5-1.7-6-0.9zM436.7 32.2l-1.7 1.5-0.4 1 0.1 2 1 1.4 1 0.7 2 0.2 1-0.4 1-0.9 0.6-1 0.1-2-0.4-1-0.9-1-1.4-0.7zM464.7 44.4l-1.7 1.3-0.7 1-0.6 1.9 0 1.1 0.7 2 0.8 1 1.5 0.7 1 0 2-0.7 1.1-1 1.1-2 0.1-2-0.7-2-1.6-1.5-1-0.2zM494.7 55.6l-1 0.2-1.3 0.9-0.7 1-0.3 1 0.3 1.7 0.9 1.3 1.1 0.7 1 0.2 1-0.1 1.5-0.8 0.8-1 0.4-2-0.9-2-1.7-1zM503.7 84.3l-1.9 1.4-0.7 1-0.4 1 0 2 0.5 1 1.5 1.2 2 0.4 2-0.3 1.9-1.3 0.8-1 0.4-1 0.1-2-0.4-1-1.8-1.3-2-0.4zM517.7 112.6l-1 0.4-1 0.9-0.7 1.8 0.1 1 0.6 1.4 1 0.9 1 0.4 2-0.1 1-0.6 0.9-1 0.4-1-0.2-2-0.7-1-1.4-1zM356.7 112.6l-1 0.4-1 0.9-0.7 1.8 0 1 0.7 1.4 1 0.9 1 0.4 2-0.1 1-0.6 0.9-1 0.4-1-0.2-2-0.7-1-1.4-1zM367.7 84.6l-1.2 1.1-0.4 1-0.1 1 0.6 2 1.1 1.3 2 1.1 2 0.2 1.9-0.6 1.2-1 0.5-1 0-2-0.6-1.3-1-1.2-1-0.7-2-0.5-2 0.2zM380.7 55.6l-1 0.3-1.2 0.8-0.6 1-0.3 2 1.2 2 0.9 0.6 2 0.2 1-0.3 1-0.8 0.8-1.7 0.1-1-1-2-0.9-0.7zM407.7 44.5l-1.1 1.2-0.6 2 0.1 2 0.6 1.3 1 1.2 2 1.1 2 0 1-0.5 1-1.2 0.6-1.9-0.2-2-0.4-1-1-1.3-2-1.2-2-0.1zM409.7 178.7l-1.9 1-0.9 1-0.6 1-0.3 2 0.4 2 0.5 1 1.2 1 1.6 0.3 1.3-0.3 1.7-1.1 1.3-1.9 0.3-2-0.4-2-1.2-1.5-1-0.5zM436.7 193.2l-1 0.7-0.7 0.8-0.4 1 0.1 2 0.6 1 1.3 1 1.1 0.3 1 0 1-0.4 1-0.9 0.6-1 0.1-2-0.7-1.4-1-0.9-1-0.3zM464.7 178.6l-1 0.4-1 0.8-0.5 0.9-0.5 2 0.3 2 1.4 2 1.3 0.9 2 0.4 1-0.2 1-0.7 1-1.5 0.3-1.9-0.3-1.9-1-1.6-1-0.9-1.5-0.6zM493.7 169.6l-1.5 1.1-0.6 1-0.1 2 0.4 1 0.8 0.9 1 0.6 2 0.1 1-0.3 1-0.9 0.6-1.4-0.1-2-0.6-1-0.9-0.8-1-0.4zM504.7 139.7l-2 0.5-0.9 0.5-0.8 1-0.4 1 0.2 2 1.4 2 1.5 1 2 0.3 2-0.3 1.4-1 0.7-1 0.2-1-0.4-2-0.9-1.3-1-0.9-2-0.8zM370.7 139.7l-2 0.6-1 0.7-1 1.2-0.6 1.5 0.1 2 0.5 0.8 1.7 1.2 1.3 0.3 2-0.1 2-1.1 1-1.1 0.7-2-0.4-2-0.8-1-1.5-0.8zM379.7 169.7l-1 0.7-0.9 1.3-0.1 2 0.4 1 0.6 0.8 1 0.6 2 0.2 1-0.3 1-0.8 0.8-1.5-0.1-2-0.7-1.1-1-0.8-1-0.3z"/>
<path fill="#39ffbe" d="M423.4 4.7l7.3-0.3 7 1.3 7-1.3 3-0.1 7 0.6 7 1.3 4 1.2 3 1.7 2.6 2.6 3.4 4.9 3 2.4 1 0.4 3 0.4 7-1.2 4 0.3 2 0.6 3 1.4 5.7 3.8 7.3 6.1 1.7 1.9 3.3 5 1.1 1 4.6 3 2.3 2.1 4.2 4.9 4.3 6 2.1 4 1.1 4-0.1 3-1 6 0 2 0.4 2 0.5 1 1.6 2 1.9 1.6 4 2.7 2.5 2.7 1.1 2 1.1 3 1.4 7 0.7 6 0.2 4-0.4 3-0.9 4-0.1 2 1.1 5 0.3 4-0.5 6-1.2 7-1.4 5-1.7 3-2.2 2.3-5.3 3.7-2.5 3-0.5 2-0.1 2 1 7-0.2 4-1.5 4-3.8 6-4.1 5.3-3 3.2-7 5.1-3 4.6-2.5 2.8-5.5 4.6-6 4.2-4 2-3 0.8-3 0-7-1-2 0.1-2 0.5-3 2.5-4 5.6-3 2.6-2 1-3 1-7 1.3-9 0.8-3-0.3-4-0.9-2-0.2-6 1.2-3 0.2-7-0.6-7-1.2-4.1-1.2-3.5-2-2.1-2-3.5-5-1.8-1.8-2-1.2-2-0.4-2 0-7 1.1-3-0.2-4-1.4-6-3.7-5.7-4.4-3.2-3-5.1-7-5-3.3-2-1.8-5-5.8-4-5.7-2.2-4.4-0.8-3-0.1-3 1.1-6-0.3-4-1-2-1.7-1.9-5.7-4.1-2.6-3-1-2-1-3-1.3-7-0.8-9 0.3-3 0.9-4 0.2-2-1.2-6-0.2-3 0.6-7 1.2-7 1.6-5 1.9-3 2.1-2 5-3.5 1.4-1.5 1.2-2 0.4-4-1-6 0.1-4 0.5-2 1.4-3 4-6.1 3.9-4.9 2.8-3 6.9-5 3.3-5 2.1-2.3 6-5 6-4.2 4-1.9 3-0.7 3 0.1 6 1 4-0.4 3-2.1 4.8-6.5 3.2-2.5 3-1.3 3-0.8zM431.7 78.6l-4 0.6-3 0.8-3 1.3-3 1.8-4 3.2-5.5 5.4-2.7 3-2.1 3-2.4 5-1.3 6.1-0.2 10.9 0.8 7 0.8 3 1.4 3 3.4 5 7.8 8 3 2.5 3 2 5 2.1 6 1.1 10 0.1 7-0.8 5-1.7 3-1.7 3-2.2 8.6-8.4 2.3-3 1.9-3 2-5 0.9-6 0.1-10-0.8-6.4-0.7-2.6-1.3-3-3.2-5-7.8-8.1-3-2.5-3-2.1-4-1.9-6-1.3-5-0.4zM437.7 31.6l-1 0.2-1.4 0.9-0.7 1-0.5 2 0.6 1.9 1 1.1 1 0.5 2 0.2 1.5-0.7 1-1 0.5-1 0.1-2-1.1-2-1-0.7zM463.7 43.7l-1.2 1-1.4 2-0.5 2 0.1 2 0.8 2 1.2 1.3 1 0.6 2 0.1 2.5-1 2-2 0.8-2-0.1-3-0.8-2-1.4-1.5-2-0.5zM493.7 55.4l-1 0.5-1 1-0.7 1.8 0.1 1 0.6 1.6 1 1 1 0.5 2 0.1 2-1.1 0.7-1.1 0.4-1-0.2-2-0.9-1.4-1-0.7-1-0.3zM502.7 83.6l-1.5 1.1-1.4 2-0.6 2 0.4 2 1.1 1.4 2 1 3 0.3 2-0.7 1.4-1 1.5-2 0.6-2-0.2-2-1.3-1.5-2-1-3-0.2zM516.7 112.5l-1 0.8-0.9 1.4-0.2 2 0.4 1 0.7 1 1 0.8 1 0.3 2-0.1 1.6-1 0.7-1 0.4-2-0.2-1-0.6-1-1.9-1.4-2-0.1zM355.7 112.6l-1.3 1.1-0.6 1-0.2 1 0.4 2 0.7 1 2 1.1 2-0.1 1-0.5 1-1 0.7-1.5-0.2-2-0.5-1-1-0.9-1-0.5-2-0.1zM367.7 83.4l-2 1.3-0.7 1-0.2 1 0 1 0.6 2 1.3 1.9 2 1.3 2 0.5 3-0.4 2-1.3 0.7-1 0.4-2-0.6-2-1.4-2-1.3-1-1.8-0.7-2-0.1zM379.7 55.4l-1 0.5-1.3 1.8-0.1 2 0.3 1 1.1 1.5 1 0.5 2 0.3 1-0.3 1.3-1 0.7-1 0.3-1-0.3-2-0.5-1-1.5-1.1-1-0.3zM406.7 43.7l-1.3 2-0.5 2 0.1 2 0.7 1.8 1 1.3 2 1.4 2 0.6 2-0.4 1.8-1.7 0.8-2 0.1-2-0.7-2.4-2-2.3-2-1-2-0.2-1 0.2zM409.7 177.4l-2 0.9-1 0.9-1.1 1.5-0.6 2-0.1 2 0.8 2.3 1.5 1.7 1.5 0.5 2-0.2 2.4-1.3 1.6-2 0.7-2-0.3-3-1.4-2.4-1-0.7-1-0.3zM437.7 192.6l-1 0.2-1.4 0.9-0.8 1-0.4 2 0.6 1.8 1 1.1 1 0.6 2 0.2 1.5-0.7 1-1 0.5-1 0.1-2-1.1-2-1-0.7zM463.7 177.4l-1.8 1.3-1 2-0.4 2 0.4 2 1 2 1.8 1.6 2 0.8 2 0.1 1-0.4 1-0.9 1-1.8 0.4-2.4-0.3-2-1.1-2.1-2-1.6-2-0.7zM492.7 169.7l-1 1-0.7 2 0.1 1 0.6 1.4 1 1 2 0.7 2-0.4 1-0.7 0.7-1 0.4-2-0.2-1-0.9-1.5-1-0.8-1-0.3-2 0.1zM503.7 138.6l-2.7 1.1-1.3 1.4-0.5 1.6 0.1 1 0.7 2 1.6 2 2.1 1.1 3 0.3 2-0.7 2-1.6 0.5-1.1-0.1-2-0.4-1.2-1.2-1.8-1.8-1.4-2-0.7zM370.7 138.6l-2 0.5-2 1.4-1.5 2.2-0.5 2 0.5 2 0.9 1 1.6 0.9 2 0.5 2.9-0.4 1.7-1 1.7-2 0.7-2-0.1-2-0.6-1-1-1-2.3-1zM379.7 169.3l-1 0.5-1.3 1.9-0.1 2 0.3 1 0.7 1 1.4 0.9 2 0.2 1-0.4 1.1-0.7 0.8-1 0.3-1-0.1-2-1.1-1.7-1-0.6-2-0.4z"/>
<path fill="#5aff9d" d="M421.5 5.7l8.2-0.6 3 0.4 5 1.3 2-0.3 5-1.2 3-0.2 7 0.6 7 1.2 4 1.4 3 1.7 1.7 1.7 4.3 5.8 3 2.5 3 0.4 3-0.2 6-0.9 2 0.1 2 0.5 3 1.3 5 3.2 5.6 4.3 3.2 3 1.6 2 3.1 5 5.5 3.5 2.8 2.5 4.2 5 3.6 5 2.2 4 1.1 4 0.1 2-1.1 7 0.2 4 0.4 1 1.7 2 2.8 2.4 4 2.8 1.6 1.8 2 4 1.6 7 0.8 6 0.2 5-0.4 3-1.3 5 0.3 2 1.1 4 0.3 4-0.6 7-1 6-1.6 5-1.7 3-1.3 1.4-6.2 4.6-2.5 3-0.4 2 0 2 1.1 7.8-0.1 2.2-1.3 4-3 5-3.7 5-3.9 4.4-2 1.7-4.8 2.9-1.1 1-3 5-2.1 2.4-5 4.3-5 3.6-4 2.3-4 1.3-2.2 0.1-7.8-1.1-2 0-2 0.4-3 2.5-4.6 6.2-2.4 2-4 1.8-6 1.3-6 0.8-5 0.3-3-0.3-4-1.1-2-0.3-6 1.5-3 0.2-6-0.5-7-1-5-1.5-3-1.6-1.8-1.6-4.2-5.7-3-2.8-1-0.4-2-0.2-4 0.2-5 0.9-3-0.2-4-1.5-5-3.1-5-3.8-3.8-3.4-1.7-2-3.5-5.5-5-3.1-3-2.6-4.1-4.8-3.9-5.4-2.4-4.6-0.9-3-0.1-2 0.9-6 0.2-3-0.4-3-2.5-3-5.8-4.3-2.4-2.7-1.8-4-1.3-6-0.8-6-0.3-5 0.3-3 1.1-4 0.3-2-1.5-6-0.2-3 0.5-6 1-7 1.5-5 1.6-3 2-2.1 5.4-3.9 2.7-3 0.5-2 0.1-2-1.1-8 0.2-3 1.5-4 3.1-5 3.8-5 3.8-4.2 2-1.6 5.1-3.2 3.1-5 2.6-3 6-5 5.2-3.6 4-2 3-0.7 2-0.1 8 1.1 3-0.2 1.1-0.5 1.9-1.6 2.1-2.4 2.9-4.1 3-2.5 2-1 3-1zM426.7 77.7l-4 0.7-2 1.1-2 1.6-12.9 12.6-3.6 4-1.3 2-1 3-0.4 7 0 15 0.7 6 1.6 3 5.3 6 10.6 10.3 3 2.5 2 1.1 4 0.7 8 0.3 12-0.1 4-0.3 2.3-0.5 2.7-1.5 6-5.4 10-10.1 2.5-3 1.2-2 0.9-4 0.3-8-0.2-13-0.3-4-0.5-2-1.8-3-4.6-5-10.5-10.4-3-2.5-2-1.2-3-0.8-6-0.3zM436.7 31.4l-1.9 1.3-0.7 1-0.3 1 0.1 2 0.8 1.6 1 0.9 2 0.6 2-0.3 1.2-0.8 1.2-2 0.1-2-0.3-1-1.2-1.5-1-0.7-2-0.4zM466.7 41.6l-2 0.5-2.6 1.6-1.6 2-0.8 2 0 3 0.5 2 1.5 2.2 1 0.7 1 0.3 2 0 3-1.3 2-1.9 1.2-3 0-3-1.2-3-2-1.9zM492.7 55.4l-1 0.9-0.9 1.4-0.2 1 0.3 2 0.8 1.3 2 1.2 2 0.1 1-0.3 1-0.7 1.2-1.6 0.3-2-0.6-2-0.9-1-2-0.8-2 0.1zM502.7 82.5l-2 1.3-1.6 1.9-1.1 3 0.2 2 1.4 2 2.1 1.2 3 0.5 3-0.6 2-1.3 1.5-1.8 1.1-3 0-2-0.5-1-0.9-1-2.2-1.2-3-0.6zM516.7 112.1l-1 0.6-1.3 2-0.2 1 0.3 2 1.2 1.6 1 0.6 2 0.4 2-0.6 1.1-1 1-2 0.1-1-0.8-2-0.9-1-1.5-0.8-2-0.1zM355.7 112.1l-1 0.7-1.3 1.9-0.3 1 0.4 2 1.2 1.5 2 1 2-0.1 1-0.4 1.2-1 0.9-2-0.1-1.6-0.5-1.4-0.9-1-1.6-0.8-2-0.1zM367.7 82.3l-2.6 1.4-0.9 1-0.5 1 0.2 3 1.6 3 2.2 1.8 3 0.9 3-0.3 2.7-1.4 1-1 0.6-2-0.6-3-1.2-2-1.5-1.4-2-1-2-0.4zM378.7 55.4l-1.3 1.3-0.6 2 0.3 2 0.6 1 1.1 1 1.9 0.7 2-0.3 1-0.6 1-1.1 0.7-1.7-0.2-2-0.5-1-1-1-2-0.8-2 0.1zM408.7 41.6l-2 0.6-1 0.9-1 1.6-0.8 3 0.4 3 1.4 2.5 2 1.7 3 1.1 2-0.1 1.8-1.2 1.3-2 0.6-3-0.2-2-0.7-2-1.8-2.2-2-1.2zM408.7 176.6l-2 1.2-1.6 1.9-0.9 2-0.3 2 0.6 3 1.1 2 1.1 1.1 2 0.6 3-0.7 2.8-2 1.3-2 0.6-3-0.2-2-0.5-1.5-1-1.6-1-1-2-0.6zM436.7 192.4l-2 1.3-0.6 1-0.3 1 0.1 2 0.8 1.5 1 0.9 2 0.8 1-0.1 2-1 1-1.1 0.4-1 0.1-2-0.9-2-1.3-1-1.3-0.5zM462.7 176.4l-1 0.7-1 1.3-0.9 2.3-0.2 3 0.6 2 1.3 2 2.2 1.7 3 1 2-0.2 1.7-1.5 1.3-2.5 0.4-2.5-0.6-3-1.8-2.5-2-1.4-3-0.8zM494.7 168.6l-2 0.6-1 0.8-0.9 1.7-0.1 2 1 2 1 0.9 1 0.4 2 0.1 1.3-0.4 1.3-1 0.6-1 0.3-2-0.5-1.7-1-1.3-1-0.7zM503.7 137.6l-3.3 1.1-1.3 1-0.7 1-0.4 2 0.8 3 1.9 2.5 1 0.7 2 0.9 3 0.2 3-0.9 1.8-1.4 0.7-1 0.2-2-1-3-1.5-2-1.3-1-1.9-0.9zM370.7 137.6l-2 0.5-2.6 1.6-1.5 2-1 3 0.2 2 0.9 1.2 2 1.4 3 0.8 3-0.4 2-1 1-0.9 1.5-2.1 0.8-3-0.4-2-1.9-1.9-2-0.9zM380.7 168.6l-2 0.7-1 1-0.7 1.4-0.1 2 0.8 2 1 0.9 1 0.4 2 0.1 1.3-0.4 1.3-1 0.7-1 0.4-2-0.6-2-0.8-1-1.3-0.8z"/>
<path fill="#7dff7a" d="M419.6 6.7l6.1-0.7 4-0.1 3 0.5 5 1.7 2-0.3 4-1.5 4-0.4 7 0.6 6 1 4.2 1.2 3.5 2 6.4 8 1.9 1.7 1 0.5 3 0.3 9-1.1 2 0.1 4 1.3 5 3.1 6 4.6 3.6 3.5 1.4 2 1.8 4 0.8 1 1.4 1 4 1.8 3 2.5 4 4.7 3.7 5 2.3 4 1.2 4 0 2-1.1 9 0.5 3 1.5 2 7.6 6 1.3 1.4 1.8 3.6 1.5 6 0.9 7 0.2 5-0.5 3-1.7 5 0.3 2 1.5 4 0.4 4-0.5 6-0.9 6-1.3 5-1.7 3.2-1.8 1.8-6.5 5-1.7 1.9-0.6 1.1-0.3 3 1 8 0 3-1.3 4-2.4 4-3.4 4.6-4 4.7-3 2.5-5 2.4-1 1.1-1.7 3.7-2.1 3-4.3 4-5.9 4.4-4 2.4-4 1.3-3 0-8-1-3 0.3-1.1 0.6-1.9 1.7-5 6.5-2 1.9-4 1.9-5 1.2-7 1-5 0.2-3-0.4-4-1.5-2-0.3-5.4 1.8-3.6 0.4-7-0.5-6-1-4-1.1-3.6-1.8-1.4-1.3-6-7.6-2-1.5-3-0.5-9 1.1-2 0-4-1.2-5-3-5.3-4-4.3-4-1.6-2-1.8-4-1-1.4-1-0.8-4-1.8-3-2.3-4-4.6-4-5.3-2.2-3.8-1.3-4-0.1-2 1.1-9-0.3-3-0.5-1-1.7-1.9-6.6-5.1-1.9-2-1.9-4-1.2-5-1-7-0.2-5 0.4-3 1.5-4 0.3-2-1.7-5-0.5-4 0.4-6 1.1-7 1.5-5 1.7-3 8.1-6.5 2.1-2.5 0.4-3-1.1-9 0-2 1.2-4 3-5 4.6-6 3.8-4 2-1.4 3.6-1.6 1.5-1 0.9-1.4 1.6-3.6 2.4-3.1 5-4.3 6-4.3 4-2.1 3-0.8 2 0 9 1.1 3-0.4 2-1.6 5.9-7.5 2.1-1.8 4-1.8zM421.7 76.3l-2.2 1.4-8.8 9.6-11.2 10.4-1.2 2-0.5 3 0.6 8 0 8-0.6 11 0.6 3 1.5 2 6.8 6 5 5 8 8.8 2 1.3 3 0.3 9-0.5 7 0 11 0.5 3-0.5 2-1.5 5.7-6.4 5.3-5.4 8.4-7.6 1.5-2 0.5-3-0.5-11 0-7 0.5-9-0.3-3-1.3-2-8.8-8-5-5-6-6.8-2-1.5-3-0.6-11 0.6-8 0-8-0.6zM437.7 30.7l-2 0.7-1 0.8-1 1.5-0.4 2 0.5 2 0.9 1.2 2 1.1 2 0.2 2-0.8 1-1 0.9-1.7 0-2-0.9-2-1-1-1-0.6zM466.7 40.6l-3 0.9-2 1.4-2 2.4-0.9 2.4-0.1 3 0.8 3 1.3 2 1.9 1.4 3 0 3-1.3 2.3-2.1 1.6-3 0.4-2-0.2-2-1.1-3.3-2-2.4-1-0.4zM493.7 54.6l-2 1.1-0.8 1-0.5 1-0.2 2 0.8 2 0.9 1 1.8 0.9 2 0.1 2-0.8 1.1-1.2 0.7-2-0.1-2-0.7-1.6-1-0.9-2-0.8zM502.7 81.6l-3 1.9-1.7 2.2-1.2 3 0 2 0.3 1 1.8 2 2.8 1.3 3 0.4 3-0.6 3-2 1.5-2.1 1.2-3 0.1-2-0.3-1-1.9-2-2.6-1.2-3-0.5zM516.7 111.6l-1.6 1.1-0.7 1-0.6 2 0.3 2 1.5 2 1.1 0.7 2 0.3 2-0.6 1-0.7 1.2-1.7 0.4-2-0.2-1-1.3-2-1.1-0.8-2-0.6zM356.7 111.4l-2 0.9-1.3 1.4-0.7 2 0 1 1 2 1 1 2 0.9 2 0 1.7-0.9 1-1 0.8-2-0.2-2-1.1-2-1.2-0.9-1-0.4zM366.7 81.7l-2 1-1.2 1-0.7 1-0.3 1 0.1 2 0.7 2 1.1 2 1.3 1.4 3 1.8 3 0.5 3.4-0.7 2-1 1.1-1 0.7-1 0.3-1 0-2-1.2-3-1.5-2-1.8-1.5-3-1.1-2 0zM379.7 54.6l-2 1-0.8 1.1-0.5 2 0.3 2 1 1.6 1 0.8 2 0.7 2-0.3 1.4-0.8 1.4-2 0.3-2-0.2-1-0.9-1.6-1-0.9-2-0.7zM407.7 40.5l-1 0.3-1 0.7-1 1.2-1 2-0.5 2-0.2 2 0.7 2.9 1.3 2.1 2.7 2.3 3 1.2 2 0 1-0.3 2-1.8 1.1-2.4 0.6-3-0.5-3-1.2-2.3-2-2-3-1.5zM408.7 175.5l-2.1 1.2-1.9 1.9-1.1 2.1-0.5 2 0.1 3 1.2 3 1.6 2 0.7 0.5 1 0.3 2-0.1 2-0.7 3-2 1-1.1 1.1-1.9 0.6-3-0.2-2-0.6-2-0.9-1.8-1-1.1-1-0.7-2-0.4zM435.7 192.4l-1 0.7-1.1 1.6-0.3 2 0.6 2 0.8 1.1 2 1.3 1 0.2 2-0.4 1.7-1.2 0.7-1 0.6-2-0.3-2-0.7-1.1-2-1.5-2-0.3zM461.7 175.4l-1.9 2.3-1 3-0.1 3 1 3 2 2.4 3 1.8 3 0.6 2-0.5 1.9-2.3 1.2-3 0.1-3-0.9-3-2.3-2.7-3-1.8-3-0.5zM493.7 168.4l-2 1.1-0.9 1.2-0.6 2 0.3 2 0.6 1 1.6 1.3 2 0.6 2-0.3 1.2-0.6 0.9-1 0.7-2-0.1-2-1.1-2-1.3-1-1.3-0.4zM503.7 136.7l-3.7 1-1.6 1-1 1-0.5 1-0.1 2 0.9 3 2.2 3 2.8 1.7 2 0.5 2 0 2-0.4 1.9-0.8 2.1-1.7 0.7-1.3 0-2-0.9-3-1.8-2.4-2-1.6-2-0.8zM370.7 136.7l-3 0.8-2 1.4-2.2 2.8-0.9 3 0 2 0.4 1 1 1 2.7 1.6 3 0.6 3-0.3 3-1.6 1.3-1.3 1.3-2 0.9-3-0.1-2-1.5-2-2.9-1.5-2-0.5zM379.7 168.4l-2 1.3-0.7 1-0.6 2 0.3 2 1 1.7 1 0.7 2 0.5 2-0.3 2-1.4 0.7-1.2 0.3-1-0.1-2-0.9-1.8-1-0.9-2-0.8z"/>
<path fill="#9dff5a" d="M427.9 6.7l3.8 0.4 4 1.8 2 0.6 2-0.4 5-2.1 2-0.3 8 0.5 7 1.2 3.7 1.3 2.3 1.5 2 2.1 5 6.4 2 1.7 1 0.4 2 0.2 8-1 4-0.1 2 0.5 2.8 1.3 5.9 4 4.8 4 2.8 3 1.1 2 1.5 4 0.8 1 1.3 0.9 5 2 2 1.6 5 5.6 4 5.7 2 4.2 0.4 2 0 3-1.1 8 0.3 3 1.4 2 7.5 6 2.5 2.8 1.7 4.2 1.3 7 0.5 6-0.1 4-2.6 7 0.4 2 1.8 4.1 0.5 2.9-0.2 6-1.2 8-1.1 3.7-1 2.1-0.9 1.2-2.1 2-6.4 5-1.7 2-0.4 1-0.2 2 1.1 9-0.1 3-1.3 4-3 4.8-4.9 6.2-3.1 3-2 1.2-5 2.1-1.3 1.7-2 5-1.5 2-5.7 5-5.5 3.9-4 2-3 0.5-11-1.1-2 0.2-1 0.4-2 1.7-6 7.6-2.2 1.8-4.8 1.9-7 1.2-5 0.4-4-0.1-2-0.4-4-1.8-2-0.4-6 2.4-3 0.4-7-0.5-6.9-1.1-3.2-1-2.1-1-1.3-1-2.5-2.7-4-5.3-2-1.9-1-0.5-3-0.3-8 1.1-4-0.2-4-1.5-5-3.3-5.5-4.4-2.9-3-1.2-2-1.5-4-0.9-1.3-1-0.8-5-2-2-1.4-5-5.5-4.3-6-1.7-3.3-0.8-2.7 0.1-4 0.9-7-0.2-3.3-0.3-0.7-1.7-2-6.4-5-2.6-2.6-1-1.7-1-2.7-1.5-8-0.5-6 0.1-3 0.5-2 1.8-4 0.4-2-0.6-2-1.8-4-0.4-2.9 0.5-7.1 1.1-7 1.4-4 1.1-2 3.2-3 5.7-4.4 2-2.6 0.3-3-1.1-8 0.2-4 0.6-2 1.5-3 4.2-6 4.3-5 2-1.7 2-1.1 3.4-1.2 1.6-1 1-1.6 1.7-4.4 1.4-2 5.9-5.3 6.8-4.7 2.2-1 3-0.8 3 0 8 1.1 3-0.3 1-0.5 2-1.9 6-7.6 2.9-2 3.1-1.1 4.2-0.9zM436.7 30.4l-2 1.2-0.9 1.1-0.8 2 0 2 1 2 1.7 1.4 2 0.5 2-0.3 2-1.2 0.9-1.4 0.5-2-0.4-2-1-1.7-2-1.4-2-0.5zM466.7 39.5l-3 1.1-3 2-1.7 2.1-1.1 3-0.1 3 1 4 1.9 2.9 1 0.7 1 0.3 3-0.4 2-0.8 2-1.2 2.5-2.5 1.3-3 0.3-2-0.3-3-0.6-2-1.1-2-2.1-2.1zM492.7 54.5l-1.6 1.2-0.7 1-0.6 2 0.2 2 1.3 2 1.4 1 2 0.5 2-0.3 1.8-1.2 1.2-2 0.3-2-0.4-2-0.9-1.4-2-1.1-2-0.2zM502.7 80.6l-3 1.7-2.2 2.4-1.1 2-0.7 2-0.2 3 0.4 1 1 1 1.5 1 2.3 1 4 0.6 3-0.6 3-1.8 2-2.3 1-1.9 0.7-2 0.1-3-0.5-1-1-1-3.3-1.8-4-0.7zM515.7 111.7l-1.1 1-1.1 2-0.1 2 0.7 2 1.6 1.6 2 0.8 2-0.2 2-1 1.2-1.2 0.9-2 0-1-0.7-2-1.4-1.6-2-1-2-0.2zM355.7 111.3l-2.1 1.4-1.2 2-0.3 1 0.5 2 1.4 2 1.7 1 2 0.4 2-0.5 1.4-0.9 1.2-2 0.3-2-0.5-2-1.4-1.7-1-0.6-2-0.5zM367.7 80.5l-2 0.6-2 1.1-1.7 1.5-0.5 1-0.1 2 0.5 2 0.9 2 1.3 2 2.6 2.3 2 0.8 2 0.4 2 0 2.5-0.5 2.4-1 1.5-1 1-1 0.4-1 0-2-0.9-3-1.9-3-2-1.9-2.2-1.1-2.8-0.5zM378.7 54.4l-1.7 1.3-0.9 2-0.1 2 0.7 2 1 1.2 2 1.1 2 0.2 2-0.7 1-0.8 1.3-2 0.2-2-0.6-2-0.9-1.2-2-1.2-2-0.3zM406.7 39.5l-1 0.5-1 1-1 1.5-0.9 2.2-0.6 4 0.6 3 1.8 3 2.4 2 3.7 1.6 3 0.2 1-0.4 1-1 1.8-3.4 0.8-4-0.6-3.4-1.4-2.6-2.6-2.3-2-1.1-2-0.7zM420.7 74.1l-1 0.7-1 1.2-5.9 7.7-4.8 5-4.3 3.8-5.7 4.2-1.2 1-0.7 1-0.1 2 1.2 8 0.3 5-0.2 8-1.4 10 0.4 2 0.9 1 6.5 4.8 3.7 3.2 5.8 6 6.1 8 1.4 1.2 2 0.1 8-1.2 5-0.3 8 0.2 10 1.4 2-0.4 1-0.9 4.5-6.1 3.5-4.1 6-5.8 8.1-6.1 0.9-1 0.4-2-1.4-10-0.2-8 0.3-5 1.2-8-0.1-2-1.2-1.4-8-6.1-6-5.8-3.2-3.7-4.8-6.5-1-0.9-2-0.4-10 1.4-8 0.2-5-0.3-8-1.2zM492.7 168.3l-1.8 1.4-1 2-0.1 2 0.8 2 1.1 1.1 2 1 2 0.2 2-0.6 1-0.7 1.1-2 0.2-2-0.5-2-0.8-1.2-2-1.4-2-0.3zM499.7 136.7l-2 1-1.3 1-0.7 1-0.3 2 0.4 2 0.8 2 1.2 2 1.9 2 3 1.7 2 0.4 2 0 4-1.1 3-2 0.7-1 0.2-1-0.4-3-1.3-3-2.2-2.6-2-1.4-3-0.9-3 0.1zM367.7 136.5l-3 2.1-2 2.9-1.2 3.2 0.1 3 2.1 2.1 2 1.1 2 0.6 2 0.3 2-0.1 3-0.9 2.7-2.1 2-3 1.1-3 0.1-2-0.3-1-2-2-3.6-1.5-4-0.4zM410.7 173.7l-3 1.2-2.5 1.8-1.6 2-1.2 3-0.2 3 0.7 3 1.8 3.3 1 1 1 0.5 3-0.1 2-0.7 2-1.1 2-1.7 1-1.2 1.3-3 0.3-2-0.4-3-0.6-2-1-2-1.6-1.8-1-0.4zM436.7 191.5l-2 1.1-1 1.1-0.8 2 0.2 2 1 2 1.6 1.4 2 0.7 1 0 2-0.9 1.2-1.2 1-2 0.2-2-0.8-2-1.6-1.6-2-0.7zM461.7 173.7l-2 2-1.4 3-0.6 4 0.6 3 1.8 3 2.6 2.2 2 1 2 0.6 3-0.1 2-1.9 1.7-3.8 0.4-2 0-2-0.8-3-2.2-3-3.1-2.1-3-1.1-2-0.1zM378.7 168.4l-1.5 1.3-1 2-0.2 2 0.7 2.2 1 1.1 2 0.9 2 0.1 2-0.7 1-0.8 1.2-1.8 0.3-2-0.5-2-1-1.4-2-1.3-2-0.2z"/>
<path fill="#beff39" d="M425.3 7.7l5.4 0.3 7 2.8 2-0.4 5-2.3 2-0.3 6 0 7 0.9 4 1.1 2 1 2 1.5 3 3.2 3.8 5.2 2.2 1.9 3 0.2 7-1 5 0 3.1 0.9 5 3 6.1 5 2.8 3 1.2 2 1.4 4 1.2 2 1.8 1 4.4 1.6 2 1.3 4 4.1 4 5 2.8 5 0.8 3-0.1 5-1 7 0.1 2 0.4 1 1.8 2 6.6 5 2.7 3 1.9 4 1 5 0.6 7-0.1 4-0.8 3-2.3 5 0.5 2 1.9 4 0.7 3 0 5-0.6 6-0.6 3-1.3 4.1-2 2.9-4 3.6-4 2.8-2.2 2.6-0.3 3 1 6 0.1 5-1 4-2.6 4.5-4 5.1-4 4.1-2 1.3-6 2.4-1 1.3-1.6 4.3-1.7 3-4.1 4-6.5 5-4.1 2-3 0.6-5-0.1-6-1-3 0.3-2 1.6-5 6.6-3 2.8-4 2-5 1.1-7 0.7-4-0.1-3-0.7-4-1.9-2-0.5-5 2.3-3 0.8-5 0.1-7-0.8-5-1.2-2-0.9-2-1.3-4-4.3-3-4.3-2-1.8-1-0.4-2-0.1-7 1-5 0.1-3-0.8-5-2.8-5-4-4.1-4-1.3-2-1.6-4.4-1-1.8-1.1-0.8-5.3-2-2.6-1.8-4-4.3-4-5.3-2-3.6-1-4 0.2-5 0.9-6-0.2-3-1.9-2.2-5.2-3.8-3.2-3-1.5-2-1-2-1.1-4-0.9-7 0-6 0.3-2 2.3-5 0.4-2-2.5-6-0.6-3 0.2-6 0.8-6.3 1.4-4.7 1.8-3 3.1-3 5.5-4 1.8-2 0.4-1 0.1-2-1.1-8 0.2-5 1-3 3.8-5.9 4-4.7 3-2.8 2-1.2 4-1.4 1.8-1 1.2-2 1.4-4 2-3 6.6-5.9 4.6-3.1 3.4-1.5 3-0.5 4 0.1 6 1 3-0.1 1-0.4 1-0.8 6-7.6 2-2 1.8-1.2 2.1-1 3.8-1zM437.7 29.5l-2 0.8-1.6 1.4-1.3 2-0.3 2 0.4 2 1.4 2 2.4 1.2 2 0.1 2-0.6 1.9-1.7 0.8-2 0-2-0.7-2-1-1.3-2-1.4zM466.7 38.5l-3 1.1-3.2 2.1-1.8 2-1.5 3-0.3 4 0.9 4 1.9 4 1 1 1 0.5 2-0.2 2-0.6 4-2.1 3-2.8 1.1-1.8 0.6-2 0.3-2-0.3-3-0.7-2.3-1.3-2.7-1.7-2.1-1-0.4zM494.7 53.6l-2 0.5-2.2 1.6-1 2-0.1 2 0.6 2 1.7 1.9 2 0.9 2 0.1 2-0.7 1-0.8 1-1.4 0.7-2-0.1-2-0.6-2-1-1.2-2-0.8zM503.7 79.5l-3.3 1.2-1.7 1.3-1.6 1.7-2.3 4-0.7 2-0.3 2 0.1 1 0.7 1 3.2 2 3.9 1.2 4 0.2 2-0.4 2-1 3-2.7 1.5-2.3 0.9-2 0.5-2 0.2-2-0.1-1-0.9-1-3.2-2-3.9-1.2zM517.7 110.5l-2 0.7-1.7 1.5-0.9 2-0.1 2 0.6 2 1.1 1.4 2 1.2 2 0.2 2-0.5 1.9-1.3 1.4-2 0.5-2-0.8-2-2-2.1-2-0.9zM356.7 110.6l-2 0.7-1.6 1.4-1.3 2-0.3 1 0.1 1 1 2 2.1 2 2 0.7 2 0 2-0.8 1.7-1.9 0.6-2-0.1-2-0.9-2-1.3-1.3-2-0.8zM367.7 79.6l-4 1.5-2.5 1.6-0.9 1-0.1 2 0.7 3 1.5 3 1.5 2 1.8 1.6 2 1.1 2 0.6 2 0.1 2-0.1 3-0.8 3-1.3 1.7-1.2 0.7-1 0.1-1-0.6-3-1.4-3-2.5-3.3-2-1.6-2-1-3-0.5zM379.7 53.7l-2 0.6-0.7 0.4-0.7 1-0.7 3 0.3 2 1 2 1.8 1.4 2 0.5 2-0.2 2-1.1 1.3-1.6 0.6-2-0.1-2-1-2-1.8-1.4-2-0.7zM405.7 38.3l-1 0.9-1.6 2.5-1.5 4-0.2 4 0.8 3 2.2 3 3.3 2.5 4 1.7 3 0.2 1-0.7 1-1.3 1.8-4.4 0.6-4-0.1-2-0.6-2-1.9-3-2.8-2.3-4-1.8-2-0.4zM419.7 71.3l-1.5 1.4-2.2 5-2.7 4-6.6 7-3 2.6-3 2.1-5.1 2.3-1.6 1-0.7 1 0.2 2 2.2 6.2 0.9 6.8-0.3 10-0.8 4-2.1 6 0 2 1.3 1.1 5 2.2 2 1.3 5 4 4.4 4.4 2.5 3 2 3 2.3 5 0.8 1.3 1 0.7 2-0.2 6-2.2 7-0.9 7 0.1 4 0.3 3.9 0.9 5.1 1.9 2 0 1-1.1 3.3-6.8 2.2-3 2.5-2.8 4.2-4.2 2.8-2.3 3-2.1 5.8-2.6 1.1-1 0-2-1.9-5.1-0.9-3.9-0.3-4-0.1-7 0.9-7 2.2-6 0.2-2-0.7-1-1.3-0.8-5-2.3-3-2-3-2.5-4.4-4.4-4-5-1.3-2-2.2-5-1.1-1.3-2 0-6 2.1-4 0.8-10 0.3-6.8-0.9-6.2-2.2zM493.7 167.5l-2.4 1.2-1.5 2-0.5 2 0.3 2 1.3 2 1.8 1.2 2 0.5 3-0.4 1-0.5 0.8-0.8 0.5-1 0.4-3-0.5-2-1.2-1.8-1-0.8-2-0.7zM499.7 135.6l-2.7 1.1-1.7 1-1 1-0.5 1 0 1 0.8 3 1.4 3 1.7 2.3 1.8 1.7 3.2 1.6 2 0.3 2 0 3-0.6 2-0.8 2.6-1.5 1.1-1 0.4-1 0-1-1-4-1.6-3-2.5-2.7-2-1.3-3-0.8-3 0.1zM367.7 135.6l-3 1.9-2.6 3.2-1.6 4-0.3 3 0.4 1 2.1 1.7 4 1.7 4 0.6 2-0.3 2-0.6 3-2.2 1.6-1.9 1.2-2 1.5-4 0.2-2-0.5-1-1-1-1.7-1-4.3-1.5-4-0.3zM410.7 172.4l-3 1.4-3 2.2-2 2.4-1 2.3-0.4 3 0.7 4 1.7 3.7 2 2.3 2 0.1 2-0.4 3-1.2 2-1.3 1.4-1.2 1.6-1.9 1.2-3.1 0.2-2-0.2-3-0.9-3-1.3-2.8-1-1.3-1-0.7-2 0zM435.7 191.4l-1.8 1.3-0.7 1-0.7 2 0.2 2 0.9 2 1.1 1.2 2 1.3 2 0.2 2-1 2-2.1 0.8-2.6-0.2-2-1.2-2-2.4-1.5-2-0.3zM460.7 172.3l-1 1-1 1.7-1.6 4.7-0.2 4 0.8 3 2 2.8 3 2.4 4 1.6 2 0.3 1.3-0.1 0.7-0.3 1.4-1.7 1.9-4 0.7-4-0.2-2-0.6-2-1.1-2-1.1-1.3-2-1.7-2-1.2-4-1.5-2-0.2zM379.7 167.5l-2 1-1.6 2.2-0.5 2 0.4 3 0.7 1.3 2 1.1 2 0.3 2-0.2 2-1.1 1.2-1.4 0.7-2-0.1-2-0.9-2-1.9-1.7-2-0.6z"/>
<path fill="#deff19" d="M425.7 8.7l3 0.1 3 0.6 2.8 1.3 2.2 2 1 0.6 1-0.2 2.8-2.4 1.2-0.6 2-0.9 2-0.4 7 0.1 7 1 4 1.4 3 2 2.3 2.4 4.2 6 1.5 1.5 1 0.4 4-0.1 6-1.1 4 0.1 4 1.2 4 2.3 5.7 4.7 3.7 4 1.1 2 0.7 2 0.2 3 0.6 1.7 1 0.4 4 0.4 2 0.8 2 1.2 4.6 4.5 4.4 5.7 2 3.8 0.9 3.5 0 4-1.3 7 0.1 3 1.8 2 5.5 3.8 3.3 3.2 1.4 2 0.9 2 1.3 5 0.7 7-0.2 5-0.5 2-0.9 2.1-3 3.9 0.2 1 1.8 2 1.2 2 0.9 2 0.4 2 0 6-0.9 7-1.1 4-1 2-1.5 2-3 2.8-4.8 3.2-2 2-0.6 1 0.2 4 1 5 0.1 4-0.8 4-2.2 4-4.7 6-4.2 4.1-2 1.2-2 0.8-1 0.2-3 0.2-1 0.4-0.5 1.1-0.2 3-0.2 1-0.8 2-1.2 2-4.1 4.2-6 4.7-4 2.2-4 0.8-4-0.1-5-1-4-0.2-2 1.5-2 2.5-2.2 3.4-3.8 3.8-4 2.1-5 1.1-7 0.6-5-0.3-3.5-1.3-1.5-1-2-1.8-1-0.2-3.9 3-2.1 0.9-2 0.5-6 0.1-8-1-4-1.3-3-1.9-3.2-3.3-3.8-5.5-2-1.8-3-0.1-7 1.3-4 0-4-1.1-4-2.3-5.6-4.5-3.9-4-1.2-2-0.8-2-0.4-4-0.4-1-1.7-0.6-3-0.2-2-0.7-2-1.1-4-3.7-5.3-6.7-2.2-4-0.8-4 0.1-4 1.2-6-0.1-3-0.4-1-1-1-2.5-2-4-2.7-3.2-3.3-2.1-4-1.1-5-0.6-7 0.3-5 1.1-3 0.6-1.2 2.4-2.8 0.2-1-3-4-0.9-2-0.5-2-0.1-6 1-8 1.3-4 1.9-3 2.7-2.7 6.1-4.3 1.8-2 0.1-3-1.3-7 0-4 1.1-4 3-5 5-6 3.2-2.8 2-1.1 2-0.7 4.1-0.4 0.9-1 0.2-3 0.9-3 1.9-3 5.2-5 5.4-4 3.4-1.6 4-0.7 3 0 7 1.3 3-0.1 2.9-2.9 4.1-5.8 2-1.9 2-1.4 3-1.3 3-0.7zM437.7 28.6l-2 1-2.2 2.1-1.1 2-0.4 2 0.4 2 1.3 2 2 1.3 3 0.5 2-0.6 1.6-1.2 1.3-2 0.4-2-0.4-2-1.1-2-2.8-2.5zM466.7 37.4l-4 1.8-3 2.1-2.1 2.4-1.3 3-0.3 3 0.3 3 0.7 3 2.7 8.1 8-4.2 3-1.9 3-3 1.4-3 0.4-3-0.3-3-0.8-3-1.7-3.6-2-2.3-2 0.1zM492.7 53.6l-2 1.3-1.3 1.8-0.5 2 0.2 2 1.1 2 1.5 1.4 3 1 2-0.2 2-1.2 1-1.1 0.9-1.9 0.2-3-0.6-3-1.2-1-2.3-0.5-2-0.1zM503.7 78.6l-2 0.5-2 1-3 2.7-2.6 3.9-3.6 7 0.5 1 9.7 2.9 5 0.4 2-0.4 2-0.8 2-1.5 1.5-1.6 2-3 1.2-3 0.8-3 0.1-1-0.5-1-3-2-3.1-1.3-4-0.9zM355.7 110.4l-2 1.1-1.3 1.2-1.4 2-0.4 1 0.1 1 1.2 2 2.8 2.5 3 0.8 2-0.4 2-1.3 1.2-1.6 0.6-2-0.5-3-1.3-2-2-1.3-2-0.4zM368.7 78.6l-3 0.7-3.5 1.4-3 2-0.5 1 0.5 3 1.2 3 1.6 3 1.7 2.1 2 1.6 2 1 2 0.5 2 0.1 5-0.7 8.3-2.6 0.5-1-4.2-8-3-4-2.6-2-2-0.8-2-0.4zM377.7 53.5l-1 0.3-0.9 0.9-0.3 1-0.4 3 0.7 3 1.9 2.3 2 1 2 0.1 2-0.6 2-1.6 1.2-2.2 0.2-2-0.5-2-1.5-2-2.4-1.3-2-0.3zM404.7 37.2l-2.2 3.5-1.7 5-0.3 4 0.7 3 2 3 2.5 2.3 3 1.9 7 3.6 1-0.5 2.8-9.3 0.5-4-0.1-2-0.5-2-1.7-3-2-1.9-2-1.4-3-1.5-3-0.9-2-0.3zM457.7 67.6l-9.9 5.1-3.1 0.7-3 0.3-8 0-4-0.6-3-1-8-4.2-1 0-0.4 1.8-3.1 9-1.2 2-2.3 2.8-6 5.9-3 2.2-3 1.4-8.8 2.7 0 1 4.2 8 1 3 0.6 4 0 8-0.3 3-0.7 3.1-5.1 9.9 1.1 0.6 8 2.7 3 1.3 3.1 2.4 5.9 5.8 2.6 3.2 1.1 2 3.1 9 0.2 1.4 1 0 8-4.2 3-1 4-0.6 8 0 3 0.3 3 0.7 9.1 4.4 0.9 0.7 0.6-0.7 2.9-9 0.9-2 2.6-3.5 5.4-5.5 2.6-2.2 3-1.9 10-3.3 0.7-0.6-0.7-0.9-4.4-9.1-0.7-3-0.3-3 0-8 0.6-4 1-3 4.2-8 0-1-1.4-0.2-9-3.1-2-1.1-3.2-2.6-5.8-5.9-2.4-3.1-1.3-3-2.7-8zM499.7 134.6l-9.4 3.1 4.6 9 1.8 2.5 2 2 2 1.3 2 0.7 4 0.3 5-1.3 3.2-1.5 1.8-1.4 0.5-0.6 0-1-1-4-2-4-2.5-3-2-1.5-3-1-3-0.2zM515.7 110.6l-1.4 1.1-1.3 2-0.5 2 0.6 3 1.6 2 2 1 2 0.3 3-1 2.4-2.3 1.3-2 0.1-1-0.4-1-2.4-2.9-2-1.3-3-0.4zM367.7 134.6l-3 1.7-2.9 3.4-2.4 5-0.5 2-0.1 2 2.3 2 2.6 1.3 3 1 4 0.5 2-0.1 2-0.6 3-2 2-2.1 1.9-3 4.2-8-8.1-2.7-3-0.7-4-0.3zM415.7 168.5l-7 3.6-3 1.9-2.9 2.7-1.7 3-0.5 2-0.1 2 0.6 4 1.1 3 1.5 2.8 1 1.3 1 0.5 4-0.9 4-1.8 3.6-2.9 2-3 0.5-2 0.2-2-0.4-4-2.9-9.7zM436.7 190.7l-2 0.8-1.4 1.2-1.1 2-0.2 2 0.5 2 1.2 1.9 2 1.8 2 1.1 1-0.1 2-1.3 2-2 1.1-2.4 0.1-2-0.5-2-1.8-2-1.9-0.9-2-0.3zM459.7 168.3l-2.5 7.4-1 4-0.2 4 0.7 3 2 3 3 2.5 5 2.4 2 0.5 2 0.1 1-0.9 1-1.4 2.2-5.2 0.6-4-0.1-2-0.5-2-1.7-3-2.5-2.4-3-1.9zM492.7 167.3l-2 1.4-1.4 2-0.4 3 0.7 2 1.8 2 2.3 1 3 0.1 3-0.8 0.7-1.3 0.5-3-0.2-2-0.8-2-1.2-1.4-2-1.2-2-0.2zM378.7 167.4l-2 1.5-1.4 2.8-0.1 3 0.5 2.3 1 1.2 2 0.5 3 0.1 2-0.6 2-1.5 1.2-2 0.2-2-0.5-2-1.3-2-1.6-1.2-1-0.4-2-0.2z"/>
<path fill="#feed00" d="M425.1 9.7l4.6 0.2 2.6 0.8 1.4 1 2 2.6 2 1.7 1-0.3 1-0.8 3-3.5 1-0.7 2-0.7 3-0.3 4 0.1 8 1 4 1.4 3.5 2.5 0.9 1 5.6 8.5 1 1.1 11-2.2 2 0 3 0.4 2 0.7 4.4 2.5 5.9 5 2 2 1.7 2.3 1 2.7-0.4 4 0.4 2.5 2 0.5 5-0.3 2 0.7 2 1.4 2.3 2.2 5.8 7 2.2 4 0.6 2 0.4 3-0.2 2-2 10 0.2 1 8.7 5.7 2.4 2.3 1.4 2 0.9 2 1.3 5 0.6 8-0.4 5-1.2 2.6-3 2.4-1.7 2 0.2 1 0.9 1 3.6 3 1.3 3 0.3 3 0 3-0.9 8-1.2 4-1 2-1.5 2-2 1.9-7.9 5.1-1.1 1 2.2 11 0 2-0.7 4-0.8 2-1.7 2.8-5.1 6.2-2.9 2.8-1.7 1.2-2.3 1-5-0.4-1.9 0.4-0.5 2 0.4 5-1 2.3-1.2 1.7-2.8 2.9-6.2 5.1-2.8 1.7-2 0.8-4 0.7-2 0-11-2.2-1 1.1-5.1 7.9-1.9 2-2 1.5-2 1-5 1.4-8 0.7-5-0.3-3-1.3-3-3.6-1-0.9-1-0.2-2 1.7-2.4 3-2.6 1.2-3 0.4-3 0-8-0.8-5-1.5-2-1.2-2-1.6-1.3-1.5-5.7-8.7-1-0.2-10 2-2 0.2-3-0.4-2-0.6-4-2.2-7-5.8-2.2-2.3-1.4-2-0.7-2 0.3-5-0.5-2-2.5-0.4-4 0.4-3-1.2-4-3.5-5.3-6.3-1.7-2.9-0.9-2.1-0.7-4 0-2 2.2-11-1.1-1-8.5-5.6-1.4-1.4-1.5-2-1-2-1.4-5-0.7-8 0.3-5 0.7-2 0.7-1 3.5-3 0.8-1 0.3-1-1.7-2-2.6-2-1-1.4-0.6-1.6-0.4-3 0-3 0.8-8 1.5-5 1.2-2 1.5-1.9 1-1 9.3-6.1 0.2-1-2-10-0.1-3 0.9-4 1-2 1.9-3 4.8-5.7 4-3.5 2-1 1-0.2 4 0.4 2-0.2 0.8-0.8 0.2-0.9-0.4-5.1 0.2-1 1-2 1.5-2 3-3 3.6-3 3.1-2.2 4-1.8 4-0.7 2 0.2 10 2 1-0.2 6.1-9.3 1.9-1.8 2-1.4 3-1.3 3-0.7zM437.7 25.6l-1.3 2.1-3.7 4.3-0.8 1.7-0.4 2 0.3 2 1.2 2 1.7 1.4 3 0.9 3-0.6 2-1.3 1.5-2.4 0.3-2-0.4-2-1-2-2.7-3-1.7-2.8zM494.7 52.7l-2 0.4-2.5 1.6-1.4 2-0.3 1-0.1 2 0.6 2 1.7 2.3 2 1.2 3 0.4 2-0.6 1-0.6 1-1 1-1.7 0.6-2 0.2-4 0.7-3-0.5-0.8-1 0-2 0.6zM356.7 109.6l-2 0.7-1 0.6-4 3.5-2.1 1.3 0.3 1 2.8 1.7 3 2.7 2 1 3 0.3 2-0.7 1-0.7 1.1-1.3 1.1-3-0.1-2-0.7-2-1.7-2-1.7-0.9zM374.7 51.8l-0.9 0.9 0.7 3 0.2 4 0.6 2 1.3 2 2.1 1.5 2 0.4 3-0.6 1.9-1.3 1.4-2 0.6-3-0.4-2-1.4-2-1.3-1-1.8-0.8-5-0.4zM404.7 34.8l-1 0.9-1 1.9-2 5.1-1 4 0 4 0.9 3 1.3 2 2.8 2.6 6.5 4.4 1.1 1 1.5 2 0.9 2 0.5 3-1 5-1.6 4-2.3 3-6.1 6-2.5 1.9-4 1.6-5 1-3-0.5-3-1.5-2-2-2.9-4.5-2.3-3-2.8-2.5-2-1-4-0.6-4 0.5-7.1 2.6-1.9 1-0.9 1 1.7 5 2.5 5 2.7 3.3 3 2.1 3 0.8 3 0 8-1.6 3-0.1 3 0.8 3 1.8 3.2 4.9 1.6 4 0.3 3 0 8-0.4 4-1.2 3-3.5 5.5-2 1.4-2 0.8-3 0.4-2-0.2-7-1.4-4-0.1-3 0.8-2 1.2-2.6 2.6-1.9 3-2.7 6-0.6 3 3.6 2 5.2 1.9 4 0.8 3-0.1 3-0.9 2-1.3 3.1-3.4 3.9-5.9 2-2 3-1.6 3-0.4 5 1 4 1.6 3 2.3 5.9 6 1.6 2 1.8 4 1.3 6-0.7 3-1.8 3-2.1 2-4 2.5-3.2 2.5-1.9 2-1.6 3-0.4 4 0.6 4 2.5 6.7 1 1.9 1 0.9 5-1.7 5-2.5 2.9-2.3 2.3-3 0.9-3 0.1-3-0.4-3-1.2-6-0.1-2 0.6-3 1.7-3 3.2-2.4 4-2.1 3-0.9 3-0.1 8 0 3 0.4 4.6 2.1 4.2 3 1.7 3 0.6 3-0.1 2-1.2 6-0.4 3 0.1 3 0.9 3 2.3 3 3.3 2.6 6 2.8 3 1 1 0 2-3.6 1.8-4.8 0.8-4 0.1-3-0.8-3-1.9-2.8-3-2.7-6.6-4.5-1.7-2-1-2-0.7-3 1-5 1.5-4 2.5-3.4 5.6-5.6 2.4-2 4-1.7 6-1.3 3 0.7 3 1.8 2 2.1 2.8 4.4 2.4 3 2.2 2 2.6 1.3 4 0.4 4-0.6 5.8-2.1 3.6-2 0-1-1-3-2.8-6-2.6-3.3-3-2.3-3-0.9-3-0.1-3 0.4-6 1.2-2 0.1-3-0.6-3-1.7-3-4.2-2.1-4.6-0.4-3 0-8 0.1-3 0.9-3 2.1-4 2.4-3.2 3-1.7 3-0.6 2 0.1 6 1.2 3 0.4 3-0.1 3-0.9 3-2.3 2.3-2.9 2.5-5 1.7-5-0.9-1-1.9-1-6.7-2.5-4-0.6-4 0.4-3 1.6-2 1.9-2.5 3.2-2.5 4-2 2.1-3 1.8-3 0.7-6-1.3-4-1.8-2-1.6-6-5.9-2.3-3-1.6-4-1-5 0.4-3 1.6-3 2-2 5.9-3.9 3.4-3.1 1.3-2 0.9-3 0.1-3-0.8-4-1.9-5.2-2-3.6-3 0.6-6 2.7-3 1.9-2.6 2.6-1.2 2-0.8 3 0.1 4 1.4 7 0.2 2-0.4 3-0.8 2-1.4 2-5.5 3.5-3 1.2-4 0.4-8 0-3-0.3-4-1.6-4.9-3.2-1.8-3-0.8-3 0.1-3 1.6-8 0-3-0.8-3-2.1-3-3.3-2.7-5-2.5zM379.7 166.5l-2 0.8-1 0.9-1.6 2.5-0.4 2-0.2 4-0.6 2 0 1 0.8 0.5 3-0.7 4-0.2 2-0.6 1.7-1 1-1 1-2 0.1-3-0.8-2-1-1.3-1-0.8-2-1zM435.7 190.4l-2 1.2-1.1 1.1-0.9 2-0.1 2 0.9 3 3.5 4 1.7 2.7 1-0.4 1.3-2.3 3.5-4 0.8-2 0.1-2-0.5-2-0.5-1-1.7-1.6-3-1zM493.7 166.5l-2.6 1.2-1.8 2-0.9 3 0 1 0.6 2 1.6 2 2.1 1.2 2 0.4 4 0.2 3 0.6 0.4-0.4 0-1-0.6-2-0.3-5-0.8-2-1.6-2-1.1-0.7-2-0.6zM517.7 109.6l-2 0.5-2.1 1.6-1.2 2-0.3 3 1 3 1.6 1.7 2 0.9 2 0.1 2-0.4 2-1.2 3-2.8 2.3-1.3 0.4-1-2.7-1.7-4-3.5-2-0.8z"/>
<path fill="#ffc400" d="M423.3 10.7l5.4 0.1 2.9 0.9 2.1 2.3 1.7 2.7 0.9 4-0.1 3-1.2 4-2.7 4-1 2-0.3 3 0.6 2 1.1 1.6 2 1.4 2 0.7 3-0.1 2-0.8 2.1-1.8 1-2 0.2-2-0.4-2-0.9-2-2.7-4-1.2-4-0.1-2 0.4-3 0.9-3 3.5-4 2.2-0.8 5-0.2 6 0.4 5 1.2 3 1.4 2.4 2 3.9 6 1.2 3 0.7 3 0.8 0.9 2.7-1.9 2-1 8.3-1.9 2 0.1 3 0.8 2.2 1 2.8 1.8 5 4.2 3.7 4 0.8 2-0.4 5-0.3 1-1.9 3-1.6 2-1.3 0.9-4 2-4 0.7-2 0.7-2.3 1.7-1.2 2-0.4 2 0.3 2 0.9 2 1.7 1.9 2 1.1 3 0.5 2-0.6 2-1.4 1.1-1.5 0.8-2 1-5 2.1-3.9 1-1.1 2-1.6 3-1.8 5-0.5 2 0.5 4 3.4 4.3 5 2.6 4 1.4 4 0.2 3-1.6 7-1.9 3.9-1.7 2.1 6.7 2 7 4.5 1.8 2.5 1 2 1.3 5 0.6 8-0.2 3-0.4 2-1.6 2-3.5 2.6-4 0.9-3 0.1-5-1.6-5-3.2-3-0.5-2 0.4-2 1.3-1.4 2-0.6 2-0.1 2 0.9 3 1.2 1.6 1 0.8 2 0.8 2 0.1 2-0.5 1.6-0.8 3.4-2.4 4-1.4 2-0.2 3 0.3 3 0.7 3.9 3 1.1 1.2 0.3 0.8 0.4 5-0.5 7-0.8 4-1.8 4-1.6 2.1-6 4-3 1.3-4 1.1-0.3 0.5 1.3 1.6 2 4.2 1.5 7.2-0.1 2-0.4 2-1 2.4-1.5 2.6-5.5 6.6-4 3.4-2 0.5-5-0.5-4-2.5-2-1.9-2.3-4.6-0.7-4-0.7-2-1.3-1.9-1-0.9-2-0.9-2-0.2-2 0.5-2 1.1-2 2.3-0.7 2-0.2 2 0.5 2 1.5 2 1.9 1.3 2 0.7 4 0.7 4 2 1.7 1.3 3.3 5 0.5 5-0.5 2-3 3.6-5 4.4-4 2.7-4 1.5-3 0.3-7.2-1.5-4.2-2-1.6-1.3-0.5 0.3-0.4 1-1.5 5-4.5 7-2.1 1.6-2 1-5 1.4-8 0.7-5-0.4-0.8-0.3-1.2-1.1-2.4-2.9-0.6-1-0.7-3-0.3-4 1.6-5 2.4-3.4 0.8-1.6 0.5-3-0.4-2-1.3-2-1.6-1.2-2-0.8-2-0.2-3 0.8-2 1.4-0.8 1-0.8 2-0.1 2 0.5 2 3.2 5 1.4 4 0.3 2-0.2 2-0.9 4-2.6 3.5-2 1.6-4 0.6-7-0.4-5-0.8-4-1.7-2.5-1.8-4-6-1.3-3-0.8-4-0.4-0.7-2.1 1.7-3.9 1.9-7 1.6-2 0-2.3-0.5-2.5-1-2.2-1.3-5.9-4.7-4.1-4.3-0.9-1.7 0.3-5 0.6-1.7 1.4-2.3 2.7-3 3.9-2.1 6-1.3 2-1.2 1.4-1.4 0.9-2 0.2-2-0.5-2-1-1.9-2-1.8-2-0.9-3-0.2-2 0.8-1.3 1-1.4 2-0.7 2-0.7 4-2 4-1.7 2-3.2 2.2-2 0.9-5 0.4-2-0.8-4-3.7-4-4.8-2.6-4.2-1-3-0.3-3 1.5-7 1.4-3.3 1.9-2.7-0.9-0.8-3-0.7-3-1.2-6-3.9-1.3-1.4-1.3-2-1.2-3-0.6-3-0.6-7 0.2-5 0.8-2.2 4-3.5 4-1.1 4-0.1 5 1.7 4 2.8 2 0.6 2 0.1 2-0.6 1.1-0.7 1.7-2 0.8-2 0.1-3-0.7-2-1-1.5-1-1-2-1-2-0.2-2 0.3-2 1-4 2.7-4 1.2-2 0.2-3-0.5-3-0.9-3.9-3.3-0.8-2-0.4-5 0.6-7 0.9-4 2-4 1.6-1.8 6-3.9 3-1.2 4.3-1.1-1.3-1.4-2-3.7-2-8.9 1-4.4 2.5-4.6 4.5-5.4 4-3.7 2-0.8 5 0.4 1 0.3 3 1.9 2.6 2.3 2.4 4.8 1 5.2 1 1.8 1 1.1 2 1.2 2 0.4 2-0.3 2-0.9 2-1.8 1.2-2.5 0.2-3-0.8-2-0.7-1-1.9-1.5-2-0.8-5-1-4-2.1-1.6-1.6-2.4-3.7-0.5-1.3-0.4-5 0.8-2 3.7-4 4.8-4 3.6-2.3 4-1.4 3-0.2 7 1.6 4.6 2.3 1.4 1.3 1.1-4.3 1.2-3 3.7-5.7 1.2-1.3 2.8-1.8 3-1.1 4-0.7zM402.7 30.4l-0.5 4.3-3.2 11-0.3 5 0.7 3 1.2 2 3.1 3 6.6 5 1.6 2 1.5 3 0.5 3-1 5-1.4 3-2.5 3-5.3 5.3-2.3 1.7-3.7 1.5-5 0.7-3-0.9-3-1.8-2-2-3.2-4.5-2.8-3.2-2-1.6-2-0.9-3-0.4-3 0.2-3 0.6-9 2.8-4.3 0.5 2.3 2.4 6 10.8 2 2.5 2 1.8 2 1.1 3 0.5 4-0.1 7-1.1 3 0.2 3 0.9 2 1.2 0.9 0.8 2.1 2.9 1.8 4.1 0.4 3 0 9-0.2 2-1.6 4-2.9 4-2.5 1.6-4 1-2 0.1-6-1-4-0.3-3 0.3-2 0.8-2.1 1.5-2.6 3-5.3 9.6-2.5 3.4 0.5 0.6 4 0.8 10 2.9 4 0.4 3-0.4 2-0.9 2-1.6 2.5-2.8 3.5-4.9 2-2 3-1.8 3-0.9 2 0.1 3 0.6 4 1.7 2 1.5 6 6 2 2.7 1.6 4 0.6 4-0.6 3-1.7 3-1.7 2-5.4 4-3.4 3-1.4 2-1 3-0.1 3 0.4 3 3 10 0.7 4.7 0.4-0.7 3-2 9.6-5.3 2.3-1.7 1.9-2 1.2-2 0.7-3-0.1-4-1.1-8 0.3-3 1.1-3 1.3-2 3.4-2.5 4-1.7 3-0.5 9 0.1 2 0.2 4 1.6 4 2.8 1.7 3 0.8 3 0.2 3-1 6-0.3 4 0.4 3 0.9 2 1.6 2 2.7 2.3 10.2 5.7 2.8 2.1 0.7-1.1 0.9-4 2.6-9 0.5-4-0.3-3-1.4-3-1.8-2-7.2-5.5-1.6-1.5-1.9-3-0.8-2-0.3-2 0.6-4 1.6-4 1.4-2.1 5-5 3-2.7 3-1.6 4-1 3-0.1 3 1 3 1.9 1.5 1.6 5.5 7.2 2 1.8 3 1.4 3 0.3 4-0.5 9-2.6 4-0.9 1.1-0.7-2.1-2.8-5.7-10.2-2.3-2.7-2-1.6-2-0.9-3-0.4-4 0.3-6 1-3-0.2-3-0.8-3-1.7-3-4.4-1.1-2.6-0.4-2-0.1-11 1.1-4 1.5-2.8 2-2.6 2-1.3 2-0.8 3-0.6 2 0 6 1 4 0.3 3-0.4 2-0.9 2-1.6 2-2.3 1.9-3 4.1-7.6 2-3 0.7-0.4-4.7-0.7-10-3-3-0.4-3 0.1-3 1-2 1.4-3 3.4-4 5.4-2 1.7-3 1.7-3 0.6-4-0.6-4-1.6-2.7-2-6-6-1.5-2-1.7-4-0.6-3-0.1-2 0.9-3 1.8-3 2-2 4.9-3.5 2.8-2.5 1.6-2 0.9-2 0.4-3-0.4-4-2.9-10-0.8-4-0.6-0.5-3.4 2.5-9.6 5.3-3 2.6-1.5 2.1-0.8 2-0.3 3 0.3 4 1 6-0.1 2-1 4-1.2 2-0.9 1-4.5 2.9-4 1.2-11 0.1-4-1.1-2.1-1.1-2.8-2-1.6-2-0.9-2-0.5-2-0.2-3 1.1-7 0.1-4-0.5-3-1.1-2-1.8-2-2.5-2-10.8-6z"/>
<path fill="#ff9f00" d="M421.2 11.7l4.5-0.2 3 0.5 2 1.1 2.6 2.6 1.1 4 0.2 4-1.2 5-1.8 3-0.9 2-0.3 3 0.4 2 1.4 2 2.5 1.7 2 0.5 2 0.1 3-0.8 2.1-1.5 1.4-2 0.4-2-0.3-3-3.1-6-0.9-5 0.9-6 1.5-2.2 2-1.7 2.8-1.1 3.2-0.1 6 0.4 5 1.1 3 1.5 1.1 1.1 4.1 6 0.8 3 0 2-0.4 2-1.1 2-3.5 3-9 5.5-2.6 2.5-1.3 2-0.7 3 0.2 4 0.9 8-0.6 4-0.8 2-1.1 2-2.4 2-2.6 1.4-2 0.6-2 0.2-11-0.1-4-1.5-3-2.2-1.5-2.4-1-3-0.3-2-0.1-2 1.1-10-0.1-2-0.6-2-1.3-2-3.2-2.9-9.8-6.1-2.1-2-1.1-2-0.5-3 0.9-4 4.1-6 1.5-1.3 3-1.4 3-0.8zM386.2 24.7l3.5 0.3 5 1.1 2.6 1.6 2 2 0.9 2 0.3 3-0.4 3-2.4 10-0.2 3 0.5 3 2 3 9.5 8 2.5 4 0.8 3-0.3 3-0.6 2-0.9 2-1.3 1.8-8 7.9-3 1.5-3 0.8-2 0.1-2-0.4-4-2.1-2-1.7-7-8.6-3-2-3-0.5-3 0.2-10 2.4-3 0.4-2-0.1-2-0.6-2-1.4-2.1-2.7-0.9-2.3-0.9-4.7-0.1-2.5 0.7-2.5 1.3-2.6 1.6-2.4 3.4-4.1 3-2.9 2-1 2-0.4 3 0.1 1 0.3 3 2 2 1.7 3 4.3 1.4 5 0.6 1.3 1.2 1.7 1.8 1.5 2 0.6 3-0.2 2-0.9 2-1.6 1.5-2.4 0.6-2 0-2-0.6-2-1.5-1.8-1.7-1.2-1.3-0.6-5-1.4-4-2.7-2-2.3-2-3-0.4-3 0.2-2 0.7-2 1.4-2 2-2 6.1-4.8 3-1.5zM488.3 24.7l1.6 0 3.8 1.3 3 1.8 3 2.4 3.6 3.5 1.5 2 0.7 2 0.2 2-0.4 3-2 3-1.7 2-4.3 3-4.6 1.3-2 0.9-2 1.6-0.8 1.2-0.7 2 0 2 1.1 3 1.4 1.8 2 1.4 3 0.9 2-0.1 2-0.8 1.4-1.2 1.4-2 1.8-6 2.7-4 2.3-2 3.1-2 1.3-0.4 2 0 2 0.3 2 0.8 3 2.6 3.2 3.7 2.2 3 1.6 3.2 0.6 2.8-0.1 2-0.7 4-0.8 2.4-2 2.9-2 1.6-2 0.7-3 0.2-12-2.8-3-0.2-3 0.4-2 1-2 1.8-6 7.4-2 1.9-4 2.2-2 0.6-2-0.1-3-0.6-3-1.4-8.2-8-1.5-2-0.9-2-0.6-2-0.3-3 0.8-3 2.5-4 9.5-8 2-3 0.5-3-0.1-3-2.5-10-0.4-3 0.1-2 0.6-2 1.4-2 3.1-2.3 3-1zM345 82.7l2.7-0.5 2 0.2 2 0.8 1 0.6 3 3.5 3.7 6.4 2.1 3 2.2 2.2 2 1.3 2 0.6 2 0.1 10-1.1 2 0.1 3 0.5 3 1.3 2 1.7 1.6 2.3 1.2 3 0.4 2 0 10-0.2 2-1.6 4-2.4 3-3 1.5-4 0.9-2 0.1-10-1.1-2 0.1-2 0.6-2 1.3-2.5 2.6-5.5 9-2 2.6-2 1.5-3 0.9-2 0-3-0.8-4.9-3.2-2.2-2-1.5-3-1.1-5-0.5-7 0.2-2.2 0.6-1.8 1.2-2 2.2-2 2-0.7 4-0.7 2 0 4 0.9 5 2.7 2 0.6 2 0.1 2-0.4 2-1.4 1-1.3 0.9-1.8 0.4-3-0.6-3-1.2-2-1.5-1.4-2-0.8-2-0.1-2 0.3-6 3.1-5 0.9-3-0.3-3-0.6-1.8-1.1-1.8-2-1.4-3-0.1-3 0.5-7 1.3-5 1.3-2.5 1.5-1.5 4.5-3.1zM525.3 82.7l2.4-0.5 4 0.7 3.3 1.8 3.7 2.8 1.5 2.2 1.1 3 1 7 0.1 4-0.5 3-1.8 3-2.4 2-5 0.9-3 0-4-1-5-2.7-3-0.6-2 0.4-2 1.1-1.5 1.9-0.9 2-0.3 3 0.8 3 1.9 2.5 2 1.1 2 0.3 2-0.2 2-0.7 4-2.3 4-1 2-0.1 6 1 2.8 2.4 1.2 2 0.6 3-0.1 6-0.7 5-1.5 4-1.5 2-4.8 3.4-2 1-3 0.6-3-0.3-2-0.9-1-0.8-2-2.4-6-9.7-2-2.2-2-1.4-2-0.7-2-0.2-12 1.1-4-0.8-3-1.4-2-2.2-1.3-2.1-1.1-3-0.2-2 0.1-11 1.5-4 2.2-3 2.8-1.7 4-1.1 2-0.1 11 1.1 2-0.2 2-0.7 2-1.4 2.5-2.9 4.5-7.5 2-2.8 2-1.9zM391.5 141.7l2.2-0.5 3 0.3 3.5 1.2 2.5 1.8 7 7 1 1.3 1.7 3.9 0.4 4-1 3-2.1 3.4-1.6 1.6-7.4 6-1.8 2-1 2-0.4 3 0.2 3 2.8 12-0.2 3-0.7 2-1.6 2-2.9 2-3.5 1-4.9 0.6-2-0.3-3-1.3-3-2-3-2.4-2.7-2.6-1.6-2-0.8-2-0.3-2 0-2 0.4-1.3 2-3.1 2-2.3 4-2.7 6-1.8 2-1.4 1.2-1.4 0.8-2 0.1-2-0.9-3-1.4-2-1.8-1.4-3-1.1-2 0-2 0.7-1.2 0.8-1.6 2-0.9 2-1.3 4.6-3 4.3-2 1.7-3 2-3 0.4-2-0.2-2-0.7-2-1.5-3-3-2.9-3.6-1.8-3-1.1-3-0.2-2 0.7-5 1-3 2.3-3.1 2-1.4 2-0.6 2-0.1 3 0.4 10 2.5 3 0.1 3-0.5 3-2 7.7-9.3 2.3-1.7zM478.5 141.7l4.2-0.5 2 0.6 3 1.5 2.9 2.4 3.8 5 3.3 3.6 1 0.8 2 1 2 0.4 3-0.1 3-0.5 9-2.2 3-0.2 2 0.4 2 1.1 2 2.2 1.3 2.5 0.8 3 0.5 4-0.2 2-0.6 2-1.7 3-2.2 3-3.9 4.3-2 1.6-3 1.1-4-0.2-3-1.9-2.3-1.9-0.9-1-2.5-4-1-4-0.9-2-2.4-2.6-2-0.9-2-0.1-3 1-2.2 1.6-1.4 2-1 3 0.1 2 0.9 2 2.6 2.4 2 0.9 4 1 4.3 2.7 1.9 2 2 3 0.6 1 0.2 2 0 2-0.6 2-2.1 3-3.3 3.1-3.8 2.9-2.2 1.3-3 1.1-3 0.1-6-1.2-2.5-1.3-1.2-1-1.6-2-0.7-2-0.2-3 2.8-12 0.2-3-0.4-3-1-2-1.8-2-8.6-7.1-2.5-3.9-1-3 0.1-2 0.6-3 1.8-3.5 8.5-8.5 1.6-1zM429.9 161.7l3.8-0.6 9 0 2 0.2 4 1.6 2.4 1.8 0.9 1 1.4 3 0.8 4-1.1 12 0.2 2 0.7 2 1.4 2 2.3 2.1 10.9 6.9 1.9 2 0.9 2 0.3 3-1 4-3 4.6-1.2 1.4-1.3 1-2.5 1.2-3 0.8-4 0.5-4 0.2-3-0.2-2-0.5-3-2.2-1.4-1.8-0.8-4-0.2-3 1.1-5 2.8-5 0.4-2 0-2-0.7-2-1.8-2-2.4-1.3-2-0.4-3 0.3-2 0.9-1.9 1.5-1.1 2-0.4 2 0.3 2 0.7 2 2.3 4 1 4 0.1 2-1 6-1 1.4-2 1.8-2 1-3 0.5-6-0.2-5-0.9-3-1.1-2.2-1.5-3.6-5-1-2-0.6-3 0-2 0.6-2 1.4-2 2.4-2 9.7-6 2.2-2 1.4-2 0.7-2 0.2-2-1.1-11 0.5-4 1.1-3 1.5-2 2.8-2z"/>
<path fill="#ff7a00" d="M414.2 13.7l5.5-1 5 0.3 4 0.9 2 1.1 1 1 0.5 0.7 0.8 3 0.3 4-0.9 5-2.4 5-0.4 2 0 2 0.6 2 1.5 1.7 3 1.7 2 0.5 3-0.1 3-1 2.4-1.8 1.1-2 0.3-2-0.2-2-0.7-2-2-4-0.9-5 0.2-3 0.9-4 0.7-1 1.2-1 3-1.3 5-0.6 3-0.1 5 0.9 2.2 1.1 1.8 1.4 2 2.2 1.6 2.4 0.7 2 0.2 3-0.7 3-1.3 2-3.5 2.9-8.3 5.1-2.3 2-1.6 2-0.4 1-0.3 2 1.2 12-0.2 3-0.9 3-0.9 2-1.3 1.5-2 1.4-2 0.9-2 0.3-12 0-2-0.6-2-1-2-1.5-0.7-1-1.3-3-0.7-4 1.2-13-0.3-2-0.4-1-1.6-2-2.3-2-8.2-5-2.6-2-1.7-2-1.2-3-0.1-3 0.9-3 2-2.9 2-2.1 1.4-1zM382.7 26.7l2-0.7 2-0.2 3 0.1 3 0.6 3 1.7 2.2 2.5 1 3 0.1 3-2.7 12-0.2 3 0.3 2 0.9 2 0.9 1 9.7 8 2.2 3 1.6 4 0 2-0.4 2-1.6 3.3-8.7 8.7-2.3 1.3-2 0.6-2 0.2-2-0.3-3-1.4-2-1.3-2-1.9-7-8.7-2-1.5-2-0.5-3 0-4 0.7-8 2-4 0-2-0.5-2-1.2-2-2.1-1.2-2.4-0.6-3-0.1-3 0.2-2 0.7-2 2-3.2 3-3.2 4-3.1 3-1.3 2-0.2 1 0.2 3 1.8 2.4 2 3 4 2.2 6 1.4 1.9 2 1.6 2 0.6 3-0.5 3-1.5 2.1-2.1 1.2-2 0.7-3-0.1-2-1-2-2.9-2.4-6-2.2-3.4-2.4-2.6-3-1.8-3-0.2-1 0.5-3 1-2 1.4-2 3.8-4zM482.5 26.7l4.2-0.8 3-0.1 2 0.4 3 1.3 3 2.2 3.7 4 2 3 0.9 3 0 1-0.8 2-1.9 3-1.9 2-4 2.6-4 1.3-2 1.1-1.3 1-1.6 2-0.6 2 0.2 2 0.6 2 1.7 2.7 2 1.7 3 1.4 3 0.2 2-0.7 2-1.8 1-1.5 2-5.5 3-4.3 3-2.5 3-1.7 3 0.3 3 1.4 4 3.3 2 2 2 2.9 1 2.1 0.5 4-0.5 4.3-1 2.5-2 2.4-3 1.7-3 0.4-3-0.2-11-2.6-3-0.1-2 0.5-1 0.5-2 1.8-6 7.5-2 2.1-3.5 2.2-3.5 1.1-4-0.7-2.7-1.4-8.3-8.3-1.7-2.7-0.7-3 0-2 1.1-3 2.7-4 9.6-8 1.6-2 0.3-1 0.3-2-0.2-3-2.6-11 0-4 0.5-2 1.2-2 1.9-1.8zM342.7 84.7l2-0.7 3-0.2 3 0.7 1.8 1.2 2.7 3 5.5 8.9 2 2.3 2 1.6 1 0.4 2 0.3 12-1.2 2 0.1 3 0.6 2 0.8 2 1.2 2.1 3 1 3-0.1 13-1.1 3-1.9 2.6-3 1.6-5 1.1-13-1.2-2 0.3-1 0.4-2 1.6-2 2.3-5 8.2-2 2.6-3 2.3-3 0.7-3-0.2-2-0.7-3.6-2.6-2.4-2.8-1.1-2.2-0.9-5 0.4-6 1-4 1.4-2 1.2-0.9 3-0.8 3-0.3 2 0.1 4 0.8 4 2 2 0.7 2 0.2 2-0.3 2-1.1 1.8-2.4 0.8-2 0.4-3-0.6-3-1-2-1.4-1.8-2-1.1-2-0.2-3 0.4-5 2.4-5 0.9-3-0.2-3-0.6-1.7-0.8-1-1-1.4-3-0.7-4-0.2-4 0.9-5 1.1-2.6 1-1.4 2.1-2zM525 84.7l1.7-0.7 2-0.3 4 0.7 3.5 2.3 2.8 3 0.7 1 1 3 0.5 5-0.2 4-0.9 4-1.1 2-1.3 1.3-3 0.9-3 0.4-2 0-4-0.7-4-2.1-2-0.7-3-0.2-2 0.4-2 1.5-1.4 2.2-0.9 3-0.1 2 0.8 3 1 2 1.6 1.7 2 0.9 2 0.1 2-0.2 2-0.7 4-2.1 5-0.7 3 0.2 4 1.1 1.6 1.7 1.3 3 0.7 6-0.5 5-1.1 3.5-1.8 2.5-3.2 2.7-2 1.2-3 0.6-2 0-2-0.6-3-2-2-2.4-5.2-8.5-1.8-2.2-2-1.7-1-0.6-2-0.4-13 1.2-5-0.9-2-0.9-2-1.6-1.8-2.9-0.7-3 0-12 1-3 1.3-2 1.2-1.3 3-1.5 4-0.9 2 0 11 1.2 2-0.1 2-0.8 2-1.8 2-2.5 6-9.5 2-2zM392.2 142.7l2.5-0.5 2 0.2 3 1.1 1.7 1.2 8.3 8.3 1.4 2.7 0.7 4-1.1 3.5-2.2 3.5-2.1 2-7.5 6-1.8 2-0.5 1-0.5 2 0.3 4 2.1 9 0.5 3-0.1 3-1.2 2.9-1.8 2.1-3.2 1.8-4 0.7-3-0.1-2-0.4-2-1-3-2-2-2-3.9-5-0.8-2-0.3-2 0-1 1.1-2 3.1-4 4.3-3 5.5-2 1.5-1 1.8-2 0.7-2 0-2-0.6-2-1.7-3-2.7-2.2-3-1.1-2-0.2-2 0.6-2 1.6-1 1.3-1.1 2-1.3 4-2.6 4-2 1.9-3 1.9-2 0.8-1 0-2-0.5-2.2-1.1-2.8-2.1-3-2.9-2.2-3-1.3-3-0.4-2 0.1-3 0.7-4 1.1-1.8 2-2.1 3-1.5 2-0.3 3 0.1 8 2 4 0.7 3 0 2-0.5 2-1.6 8-9.6 3-2.2zM478.3 142.7l2.4-0.5 2 0.2 2 0.7 3 1.7 2.2 1.9 7.8 9.5 2 1.2 2 0.5 3-0.2 3-0.4 8-2 3-0.3 2 0.1 3 1.2 1.6 1.4 1.5 2 1 3 0.4 3-0.1 3-0.6 2-1.7 3-2.1 2.7-4 3.5-3 1.8-2 0.5-2 0-1-0.4-3-1.9-2-1.8-3-4.2-1.3-4.2-1.1-2-2.6-2.7-2-0.8-3 0.4-3 1.3-2 1.8-1.4 2-1 3-0.1 2 0.8 2 2.7 2.6 2 1.1 4.2 1.3 4.2 3 3.1 4 1 2 0.1 1-0.3 2-0.8 2-3.9 5-3.6 3.1-3 1.7-2 0.6-4 0-4-0.8-2.6-1.6-1.8-2-1.2-3-0.1-3 0.5-3 2.1-9 0.3-3-0.5-3-1.2-2-1.1-1-7.5-6-1.9-1.8-2.1-3.2-1.2-3-0.2-2 0.4-2 0.7-2 1.3-2 8-8 1.3-1zM429.9 162.7l2.8-0.5 12 0.1 2 0.6 2 1.1 1.9 1.7 0.6 1 1.2 3 0.6 4-1.2 12 0.4 3 1.3 2 2.2 2 11 7.2 2 2.1 1.3 2.7 0.2 3-0.6 3-2.9 4.2-3 2.6-4 1.3-5 0.5-2-0.1-5-0.9-2-1-1.7-1.6-1.1-4-0.2-4 0.7-4 2.1-4 0.7-2 0.2-2-0.1-2-0.9-2-1.7-1.6-2-1-3-0.8-2 0.1-3 0.9-2.2 1.4-1.5 2-0.4 2 0.2 3 0.7 2 2.1 4 0.7 5-0.2 3-0.8 3-0.3 1-1.3 1.3-2 1.1-4 0.9-3 0.3-6-0.6-3-1-2-1.4-2-2.1-1.8-2.5-0.8-2-0.4-3 0.7-3 1.1-2 3.3-3 9.5-6 2.2-2 1.3-2 0.4-3-1.2-11 0.4-4 0.9-3 1.1-2 2.3-1.9z"/>
<path fill="#ff5500" d="M415.7 14.7l4-0.5 5 0.4 4 1.1 1.4 1 1.5 4 0.3 4-0.6 4-2.5 6-0.6 3 0 2 0.4 1 2.1 1.6 3 1.3 3 0.8 3-0.1 2-0.5 4.7-2.1 1-1 0.4-2-0.3-3-1-3-1.8-4-0.7-5 0.7-4.3 1.1-2.7 0.9-0.7 2-0.8 4-0.8 4-0.2 3 0.4 3 0.9 2 1.3 2 1.9 1.4 2 0.7 3 0 2-1.1 3-1.4 2-3.6 2.8-10.5 6.2-2.2 2-0.2 2 1.2 6 0.7 6 0.1 3-0.6 3-1 3-1.5 2-1 0.8-2 0.9-1.7 0.3-12.3 0-3-1-2.3-2-1.6-4-0.6-4 0.8-8 1.2-6-0.2-2-0.8-1-2.9-2-8.7-5-2.8-2-2.1-2.3-1.3-2.7-0.2-3 0.6-3 1.9-2.4 2-1.8 2-1.1zM383.9 27.7l3.8-0.8 4 0.4 2.5 1.4 1.9 2 1.3 3 0.2 4-3.2 13-0.5 4 0.4 1 1.1 1 4.7 3 6.6 5.5 2.5 3.5 1.5 3.8 0 1.2-0.4 2-1.6 2.7-8.3 8.3-1.7 1.2-2 0.7-2 0.1-2-0.5-2.9-1.5-2.1-1.5-5.5-6.5-3.5-5.3-1-1.1-1-0.4-4 0.5-12 3-4 0.2-3-0.9-2-1.4-2-2.6-0.6-2-0.2-3 0.3-2 1.1-3 1.3-2 2.1-2.3 3-2.5 3-1.9 2-0.7 2 0.5 2 1.1 3 2.3 2.6 3.5 2 5 1.4 2.4 2 2.5 1 0.7 2 0.1 4-1.5 2-1.1 2.3-2.1 1.4-2 1.7-4 0.4-2-0.2-1-0.7-1-2.5-2-2.4-1.4-5-2-3.5-2.6-2.3-3-1.1-2-0.5-2 1.2-3 3-4 3.2-3.1zM483.3 27.7l2.4-0.7 3-0.1 3 0.7 2 0.9 2.9 2.2 2.8 3 2.1 3 1.3 3-0.7 2-1 2-2.4 3.1-4 2.9-4 1.4-2 1.1-3.3 2.5-0.7 1-0.2 1 0.8 3 1.3 3 1.4 2 1.7 1.7 3 1.7 4 1.3 1 0.1 1-0.4 1-0.9 2-2.7 1.4-2.8 1.5-4 2.3-3 1.8-1.7 2-1.4 3-1.3 1 0 3 1.5 4 3 2.7 2.9 1.8 3 0.7 2 0.2 2-0.3 4-1.1 2-1.9 2-3.1 1.6-2 0.4-2-0.1-3-0.5-11-2.9-3-0.4-1 0.2-1 0.9-3.9 5.8-5 6-3.1 2.3-4 1.7-2-0.1-3-1-9.1-8.9-1.5-2-0.8-3 0.4-2.7 1.7-3.3 2.3-3 6-4.8 4.9-3.2 1.1-1 0.5-1-0.8-5-2.7-10-0.4-4 0.4-2.4 1-2.3 1-1.3zM343.1 85.7l2.6-0.5 3 0.2 2 0.9 2 1.4 3 3.9 6 10.2 1 1.4 1 0.8 2 0.2 6-1.2 8-0.8 5 0.9 2 0.7 1.4 0.9 0.9 1 1.2 2 0.5 3-0.1 12-0.6 2-1.3 2-1.1 1-2.2 1-2.7 0.8-3 0.3-8-0.8-6-1.2-2 0.2-2 2.2-7 11.7-3 3.2-3 1.5-3 0.2-3-0.7-2-1.4-1.9-2-1.3-2-0.7-2-0.5-3 0-4 0.6-4 0.8-2.5 1-1.4 4-1.4 4-0.3 4 0.6 6 2.5 3 0.5 2 0 1-0.3 1.4-1.7 1.7-4 0.6-3-0.2-3-1.5-4.1-1-1.9-1-1.1-1-0.4-2 0-3 0.6-6 2.5-4 0.6-2 0-3-0.5-2-0.7-1.4-1-1-2-0.8-4-0.3-4 0.5-4 1.2-3 1.4-2 2.2-2zM526.5 85.7l3.2-0.5 3 0.4 1 0.5 2 1.6 2.4 3 0.9 2 0.5 2 0.2 4-0.5 5-0.5 2-0.9 2-1.6 1-2.5 0.8-4 0.5-4-0.6-5-2.2-3-0.8-2-0.2-2 0.2-1.4 1.3-1.9 4-0.6 2-0.2 3 0.6 3 1.5 3.6 1 1.6 1 0.7 2 0.2 3-0.4 3-1 4-1.8 4-0.6 4 0.5 4 1.6 1.1 2.6 0.9 5 0 4-0.8 4-1.7 3-2.5 2.5-2 1.1-3 0.5-2-0.2-2-0.7-3-2.2-2-2.7-6-10.2-2-2.6-1-0.4-1-0.1-6 1.3-8 0.8-4-0.5-3-0.9-2-1.2-1.7-2.5-0.7-3 0-12 0.5-2 1.9-2.9 1.9-1.1 2.1-0.8 5-0.7 7 0.7 6 1.2 2 0.1 1-0.5 2-2.5 7-11.7 2-2.1zM393 143.7l1.7-0.4 2 0.1 2 0.7 2 1.5 8.9 9.1 1 3 0.1 2-1.7 4-2.3 3.1-6 5-5.8 3.9-0.9 1-0.2 1 0.4 3 3.3 13 0.2 3-0.4 2-1.5 3-1.1 1.2-2 1.4-2 0.6-4 0.1-2-0.4-2-0.9-3.9-3-4.1-5.1-1-1.9-0.4-2 1.9-4 2.7-3 2.8-2.1 4-1.5 2.8-1.4 2.7-2 0.9-1 0.4-1-0.3-2-1.6-4-1.9-2.8-2-1.7-2-1.1-4-1.4-1-0.2-1 0.2-1 0.7-2.5 3.3-1.1 2-1.4 4-2.9 4-3.1 2.4-2 1-2 0.7-2-0.8-3-1.9-3-2.5-2.5-2.9-1.2-2-0.8-2-0.3-2 0.1-3 0.7-2.4 2-2.6 2-1.4 3-0.9 4 0.2 11 2.8 5 0.8 1-0.5 1-1.1 3.2-4.9 4.8-6 3-2.3zM478.3 143.7l2.4-0.4 2 0.3 3 1.4 2.4 1.7 1.6 1.5 4 4.9 4 6 1 0.9 1 0.2 2-0.2 13-3.3 4-0.3 3 0.6 2 1.2 2 2.1 1.2 2.4 0.2 3-0.1 2-1 3-1.1 2-2.2 2.5-3 2.6-3 2-2 0.9-1 0-3-1.3-3.5-2.7-2.5-3.3-1.8-4.7-1.2-2.2-1-1.5-2-2.1-1-0.4-1 0.1-2 0.5-4 1.8-2.2 1.8-2.1 3-1.3 3-0.5 2-0.1 1 0.4 1 2.1 2 1.5 1 2.2 1.2 4.7 1.8 2.7 2 2.7 3 1.9 4-0.4 2-1 2-4.1 5-3.5 2.8-2 0.9-2 0.6-3 0.1-3-0.6-2.6-1.8-1.6-2-1-3-0.1-3 0.5-3 3.1-12 0.2-2-0.2-1-0.9-1-5.4-3.6-6.5-5.4-2.5-3.6-1.4-3.4 0.3-3 1.1-2.4 9-9.1zM430 163.7l2.7-0.4 12 0.1 3 1.1 1.5 1.2 0.7 1 1.4 4 0.5 4-0.8 8-1.3 6 0.1 1 0.4 1 4.2 3 10.3 6.2 2.7 2.8 1.2 3 0.2 3-0.9 3-2.2 2.6-2 1.6-2 1-2 0.5-4 0.4-6-0.7-2-0.6-1.6-0.8-1.6-4-0.5-4 0.6-4 1.8-4 1-3 0.4-3-0.2-2-0.7-1-1.6-1-3.6-1.5-3-0.6-3 0.2-2 0.6-4 1.9-1.3 1.4-0.2 2 0.2 2 0.8 3 2.2 5 0.6 4-0.5 4-0.8 2.5-0.8 1.5-2.2 1-3 0.7-4 0.3-4-0.2-3-0.9-2-1.1-2-1.8-1.6-2-0.7-2-0.2-3 0.9-3 1.3-2 3.6-3 11.6-7 1.1-1 0.5-1-0.1-2-1.2-6-0.7-7 0.1-2 0.6-3 1.2-3 1.6-1.7z"/>
<path fill="#ff2d00" d="M414.1 16.7l2.6-0.7 2-0.3 5 0.3 3.1 0.7 1.9 2 1 2 0.5 2 0.2 2-0.3 3-0.5 2-1.9 4.1-1 1.8-1 1-1 0.2-2-0.3-6.4-2.8-4.5-3-2.1-2.6-0.6-1.4-0.4-2 0.1-2 0.5-2 1.6-2zM449.2 16.7l4.5-0.9 5 0.1 3 0.7 3 1.8 1.4 1.3 0.6 1 0.6 3-0.4 3-1.7 3-1.5 1.5-2.2 1.5-6.8 3.3-3 0.8-1-0.1-1-0.6-1-1.5-2.3-4.9-0.5-2-0.3-3 0.2-2 0.9-2.9 1-1.6zM385.1 28.7l3.6-0.7 2 0.3 0.9 0.4 2.6 2 1.6 3 0.4 2 0 2-0.8 4-2.7 7.1-1 1.6-1 0.7-1 0.1-2-0.4-5-1.9-2-1.2-3.1-3-1.1-2-0.7-2 0-3 2-3 3.8-4zM484.4 28.7l2.3-0.7 2 0.1 2 0.5 2.2 1.1 2.6 2 1.9 2 2.2 3 0.8 2-0.2 2-0.7 2-1.1 2-1.7 1.8-3 2.2-7 2.5-1 0-1-0.5-1.4-2-2.6-6.7-0.9-4.3 0.1-3 0.8-2.3 1.1-1.7zM429 44.7l1.7-0.5 5 1 3 0.2 7-1.2 1 0.3 1 0.7 1 1.5 1 2.7 0.8 7.3-0.1 2-0.7 3.2-1 2.8-1 1.3-1 0.7-2 0.6-11 0.1-3-0.2-1.4-0.5-1.3-1-0.7-1-1-3-0.6-2.5-0.2-2.5 1-8 1.2-2.7zM360.3 53.7l2.4 0.1 2 0.7 2 1.1 2 1.9 1.7 2.2 0.9 2 1.8 5 0 2-0.7 1-1.6 1-5 2-5.1 1.4-4 0-3-1.2-2.3-2.2-1.1-2-0.2-1 0.2-3 1-3 2.2-3 4.2-3.7 2-1.2zM514.1 53.7l1.6 0 1 0.3 4 2.9 3 3.3 1.8 3.5 0.5 3-0.3 2.1-2 3-1.1 0.9-1.9 1-2 0.5-2 0-4-0.7-7.5-2.8-1.6-1-0.7-1-0.1-1 0.5-2 1.4-4.1 1.6-2.9 1.8-2 1.6-1.3 2-1.1zM392.8 59.7l0.9-0.5 1-0.1 3 0.7 2 1.2 3.4 2.7 2.2 2 2.3 3 1.5 3 0.4 2-0.8 2.6-5 5.3-5.4 5.1-2.6 0.8-2-0.4-2-1-4-2.8-5-6-1.2-2.6-0.4-2 0.1-1 0.6-1 5.9-4.3 1.6-1.7 2.4-3.8zM478.7 59.7l3-0.6 1 0.3 1 0.7 2.3 3.6 1.7 2.1 2 1.8 3.4 2.1 1.1 1 0.6 1 0.1 1-0.4 2-0.8 2-5 6.2-3.6 2.8-2.4 1.2-2 0.6-1-0.1-2-0.7-2.3-2-7.7-7.8-1-1.9-0.2-1.3 0.2-1.4 1-2.3 2.9-4.3 6.1-5zM345.4 86.7l2.3 0.1 2 0.7 3 2.3 1.5 1.9 1.7 3 1.9 4 1 3-0.2 2-1 1-6.9 3.2-4 0.5-4-0.7-2-1-1.2-1-0.8-0.9-0.3-1.1-0.6-4-0.1-3 0.5-3 0.7-2 1.1-2 1.7-1.8 1-0.6zM529.2 86.7l2.5 0.2 2 0.6 2 1.9 1.8 3.3 0.5 2 0.3 3-0.6 5.6-1 2.2-1.4 1.2-1.6 0.8-2 0.6-2 0.3-4-0.4-2-0.7-5.3-2.6-1-1-0.2-1 0.3-2 1.2-3 2-4.2 1.8-2.8 1.2-1.3 2-1.6 2-0.8zM376.4 103.7l4.3-0.1 4 0.9 3 1.5 1.2 1.7 0.5 3-0.1 12-0.6 2-1 1.3-1 0.7-3 1.1-3 0.6-5-0.2-4-0.4-2-0.6-2.5-1.5-0.7-1-0.3-2 1-4 0.2-3-0.3-3-0.8-3 0-2 0.6-1 0.8-0.8 2.3-1.2 1.7-0.4zM494.7 103.7l3-0.1 7 0.7 3 1.2 1.4 1.2 0.6 1 0.1 1-1 5-0.2 3 1.2 7-0.3 1-0.7 1-1.5 1-3.6 1.2-8 0.5-3-0.5-3-1.1-1.7-1.1-0.7-1-0.4-1-0.3-2 0.2-13 0.8-2 1.1-1 2.1-1zM345.1 123.7l4.6 0.2 2.7 0.8 4.2 2 1.5 1 0.6 1 0.1 1-0.4 2-1.3 3-3.4 6.3-1.5 1.7-1.5 1.3-2 0.9-2 0.4-2-0.1-2-0.5-2-1.6-1.1-1.4-1-2-0.8-4 0-4 0.9-4.5 1.5-1.5 1.5-1zM527.7 123.7l3.2 0 3.3 1 2.5 1.8 1 2.2 0.6 6-0.3 3-0.6 2-1 2-1.7 2-1 0.8-2 0.6-2 0.2-2-0.3-2-0.8-2-1.5-3-4.3-2.3-4.7-1.1-3 0-2 0.6-1 1.5-1 4.3-2 2-0.7zM394.3 144.7l2.4-0.1 2.2 1.1 9.8 9.9 0.7 2.1 0.1 1-0.6 2-1.2 2.4-2.8 3.6-6.2 5-2 0.8-2 0.4-1-0.1-1-0.6-4-5.6-3-2.6-3.6-2.3-0.7-1-0.3-1 0.2-2 0.8-2 4.6-6 1-1.1 2.5-1.9zM479 144.7l1.7-0.2 1.1 0.2 3.9 2 2 1.4 5.6 6.6 1 2 0.6 2-0.3 2-0.7 1-5.7 4-1.8 2-2.7 4.2-1 0.7-1 0.3-2-0.2-2.3-1-6.3-5-3-4-1.4-2.9-0.2-1.1 0.3-2 0.9-1.6 9-9zM354.4 158.7l3.3-0.9 4 0.3 7.8 2.6 2 1 1.2 1 0.5 1 0 1-2.5 7-2 2.8-2 1.9-2 1.1-2 0.7-2 0.2-1-0.3-4-2.7-3.5-3.7-1.2-2-0.7-2-0.3-2 0.2-2 0.5-1.3 1.2-1.7zM512 158.7l4.7-0.9 2 0 2 0.5 2 1.1 1 0.8 1.2 1.5 1 2 0.1 2-0.3 2-0.7 2-1.2 2-1.7 2-2.4 2.2-3 2.1-1 0.3-2 0-2-0.6-2-1-2-1.8-2.4-3.2-2.5-7 0-1 0.5-1 1.2-1 2-1zM431.1 164.7l13.6 0 2 0.6 1.6 1.4 1.3 3 0.5 2 0.4 3-0.1 2-0.5 5-0.5 2-0.9 2-0.8 1.1-1 0.7-2 0.3-4-1-3-0.2-7 1.2-1-0.1-1-0.6-1-1.1-1-2-0.5-2.3-0.6-6 0.1-3 1-3.9 1-2.1 1-1.1zM386.4 181.7l3.3-0.9 1 0.1 1 0.7 2 3.8 1.8 5.3 0.6 3-0.1 4-1.3 2.9-2.1 2.1-1.8 1-1.1 0.3-4-0.5-3.5-1.8-2.3-2-1.8-2-1.5-2-0.9-2 0-2 0.6-2 1.8-3 3.6-3.1zM484.3 181.7l1.4-0.9 1 0 5.7 1.9 2.1 1 3.4 3 1.3 2 0.8 2 0.3 3-0.3 1-2.1 3-2.2 2.4-1.9 1.6-2.1 1.3-2 0.7-2 0.3-2-0.1-2-1-2.3-2.2-1.4-3-0.2-3 0.7-4 2.2-6.2zM422.1 195.7l1.6-0.5 2 0.2 1 1 2 4 1.3 3.3 0.4 3-0.1 2-0.8 3-0.8 1.6-1.2 1.4-2.2 1-3.6 0.5-3 0.1-3-0.5-2-0.7-2-1.1-2.2-2.3-0.6-2-0.2-2 0.6-3 1.4-2.3 3-2.6 4-2.2zM450 195.7l0.7-0.4 2 0 4 1.5 5.4 2.9 1.6 1.1 1.8 1.9 1.5 3 0.3 3-0.8 3-1.8 1.9-2 1.3-2 0.8-4 0.6-6-0.6-2-0.9-1-1-1-1.6-0.9-2.5-0.2-2 0.2-3 0.9-3.1 2-4.2z"/>
<path fill="#f10800" d="M415.5 17.7l4.2-0.5 3.1 0.5 2.9 1.9 1.6 2.1 1 3-0.4 4-1.2 2.7-1 1.2-1 0.7-1 0.4-2 0-4-1.2-4-2.3-2.2-2.5-1-3 0.3-3 1-2 1.9-1.3zM453.2 17.7l2.5-0.5 2 0 2.8 0.5 2.2 0.9 1.5 1.1 0.5 0.8 0.9 3.2-0.6 3-1.2 2-1.1 1.2-4 2.4-3 1.1-2 0.4-2-0.3-1-0.5-1-1.1-1.3-2.2-0.7-3.3 0.2-2.7 0.8-2.1 2-2.3zM386.4 29.7l2.3-0.2 1 0.2 2 1.1 1 0.9 1 1.5 0.6 1.5 0.3 2-0.2 2-0.7 2.9-2 4.1-2 2.1-2 0.5-3.2-0.6-1.8-1-1.3-1-1-1-1.2-2-0.7-3 0.4-3 0.8-2 3-3 2-1.3zM486.4 29.7l2.3-0.2 2 0.6 2 1.2 1.8 1.4 1.7 2 1.1 3 0.2 2-0.3 2-1.5 2.8-3 2.6-3 1.1-2 0.1-1-0.3-2-1.7-2-3.6-1.1-4-0.1-3 1.1-3 1.9-2zM430.1 46.7l1.6-0.4 6 0.5 7-0.5 1 0.3 1.4 1.1 1 2 0.6 7-1 4.6-1 2.1-1 1.3-4 0.5-8-0.1-3-0.3-1-0.8-1-1.7-0.9-2.6-0.5-3 0.6-7 0.8-1.7zM359.7 56.7l2-0.2 2 0.3 2 0.9 1.3 1 1.7 1.9 1 1.9 0.5 2.2 0 2-1.2 2-3 2-4.3 1.5-2 0.4-2-0.1-2-0.5-2-1.3-1-1.2-1-1.8-0.3-2 1-3 2.2-3 2.1-2zM512.8 56.7l2.9-0.1 3 0.8 2.7 2.3 2.2 3 1 3-0.3 2-1.6 2.6-2 1.5-3 0.8-4-0.5-3-1.1-2.4-1.3-2.1-2-0.4-1-0.1-2 1-3.1 1.4-1.9 1.6-1.6zM393.9 61.7l1.8-0.4 2 0.4 5.1 4 1.8 2 1.2 2 0.9 2 0.4 2-0.2 1-0.6 1-4.6 4.9-4 3.7-1 0.6-1 0.2-2-0.4-2-0.9-3-2-4.4-5.1-0.6-1-0.4-2 0.5-2 4.9-4.3 4-4.7zM478.3 61.7l2.4-0.4 1 0.2 1 0.6 4 4.7 5 4.3 0.5 0.6 0.5 1.5-0.1 1.5-0.9 2-4 4.7-3.2 2.3-2.3 1-1.5 0.3-2-0.4-2-1.6-7.1-7.3-0.7-2 0.8-3 2-3.4 3.8-3.6zM344.1 88.7l1.6-0.3 2 0.2 2.4 1.1 2.6 2.7 1.8 3.3 1.2 4 0 2-1.1 2-2.9 1.9-2 0.6-2 0.1-3-0.5-2-1.1-1-0.9-2-3-0.5-4.1 0.7-4 1.8-2.9zM528.1 88.7l1.6-0.3 2 0.2 2 0.8 1 0.8 1.4 2.5 0.7 4-0.1 3.1-0.9 1.9-1.1 1.6-1.4 1.4-1.6 0.9-3 0.7-3-0.3-3.1-1.3-1.9-2-0.5-2 0.9-4 2-4 2.6-2.8zM372.9 105.7l5.8-0.4 2.6 0.4 3 1 1.7 1 0.7 0.8 0.5 4.2-0.1 9-0.4 2-1.3 1-3.7 1.5-2 0.4-2 0.1-6-0.6-2-1-1-1.2-0.4-1.2 0.5-7-0.5-6 0.1-1 0.6-1 1-1 1.7-0.8zM494.6 105.7l3.1-0.3 6 0.4 2 0.7 1.3 1.2 0.7 2-0.5 6 0.5 7-1 2-1.4 1-1.6 0.5-7 0.5-4-1-2.1-1-1.2-1-0.7-3.3 0-8.7 0.3-2 0.9-2 1.8-1zM347.1 125.7l3.6 0.4 3.2 1.6 1.1 1 0.5 1 0.3 2-0.4 2-1.1 3-2.4 4-1.2 1.1-2 1.2-3 0.6-3.2-0.9-0.8-0.5-1-1.3-1.2-3.2-0.3-4 0.5-2.5 2-3 2-1.6 2-0.7zM527.6 125.7l3.1 0.3 2 0.9 2 1.8 1.4 2 0.6 1.5 0 4.4-0.8 3.1-1.2 2.1-1.2 0.9-1.8 0.6-3 0.1-2-0.6-1.6-1.1-2.4-3-2.1-5-0.3-3 0.8-2 2.6-2 2-0.7zM392.7 147.7l3-0.8 2 0.7 7.3 7.1 1.6 2 0.4 1 0 1-0.5 2-2.2 4-5.5 5-2.1 0.9-2 0-1.6-0.9-4.3-5-4.7-4-0.6-1-0.2-1 0.4-2.4 2-2.8 3-3.3zM478.3 147.7l1.4-0.8 1 0 2.5 0.8 3.5 2 5 5.6 1 2.4-0.2 2-0.6 1-4.7 4-4.5 5.2-2 0.8-1 0-2-0.7-5.1-4.3-2.2-3-0.9-2-0.6-2 0-1 1.3-2zM356.7 159.7l3-0.3 4 1 4 1.9 2 1.9 0.6 1.5 0 1-0.7 3-1.9 2.9-2 1.7-2 0.9-2 0.3-2-0.2-2-0.5-2.8-2.1-2.2-2.9-1.2-3.1 0.2-2.3 0.8-1.7 1.2-1.4 1-0.7zM514.5 159.7l2.2-0.3 2 0.2 2.8 1.1 2 2 1.2 3-0.4 2-0.9 2-2.7 3.4-2 1.5-4 0.9-3-0.5-2-1.1-1-0.9-2-2.7-1-3.6 0.3-2 1.7-2 3.7-2zM433.6 166.7l10.1 0.1 2 0.6 1 1.2 1.3 3.1 0.7 4-0.5 6-0.5 1.6-1 1.4-2 1-7-0.5-6 0.5-2-0.7-1-1-0.7-1.3-0.3-2-0.3-5 0.3-3.1 1-2.9 1-1.8 1-0.6zM387.2 183.7l1.5 0.1 1 0.4 2 2.1 2 4.1 0.9 4.3-0.4 3-1 2-2.3 2-2.2 0.9-1 0-2-0.6-2-1-1.7-1.3-2.6-3-0.8-3 0-2 0.4-2 1.7-2.7 2.9-2.3zM487.9 183.7l1.8 0.1 2 0.6 3 2 2 2.7 0.6 1.6 0.2 2-0.9 4-1.5 2-3.4 2.7-2 0.9-2 0.4-3-1.2-1.9-1.8-1-2-0.4-3 0.5-3 1.8-4.4 2-2.7 1-0.6zM420 198.7l1.7-0.4 2 0 1 0.4 1.3 1 1.3 2 0.7 2 0.3 3-0.3 2-1.6 3-1.7 1.5-2 1.2-1 0.3-2 0.1-4-0.4-3-1.4-1.3-1.3-0.9-3 0.2-2.6 1.2-2.4 1.8-1.9 3-1.9zM451.3 198.7l2.4-0.4 3 0.6 4 1.8 2.6 2 1.5 2 0.8 3-0.6 3-1.2 2-2.1 1.2-2 0.6-5 0.3-2.6-1.1-2.4-1.9-1-1.4-0.7-1.7-0.3-2 0.1-2 0.9-3 1-1.6z"/>
<path fill="#c40000" d="M416.5 19.7l2.2-0.1 2 0.6 2 1.3 1.1 1.2 1 2 0.1 2-0.7 2-1 1-2.5 0.8-2-0.2-3-1.4-2-2-0.8-2.2 0.2-2 1.4-2zM456.8 19.7l2.9 0 1.8 1 1.4 2 0.2 2-0.7 2-1.7 2-3 1.4-3 0.3-1.9-0.7-1-1-0.7-2 0.1-2 0.5-1.2 1.3-1.8 1.7-1.2zM385.1 32.7l1.6-0.6 1-0.1 2 0.5 1.5 1.2 1 2 0.1 2-0.7 3-1.9 2.7-2 1.1-2-0.1-1.5-0.7-1-1-1-2-0.2-2 0.6-3 1.1-1.8zM485.9 32.7l1.8-0.7 2 0.2 2 1.1 1.7 2.4 0.6 3-0.2 2-1.1 2.1-2 1.5-2 0.3-2-0.9-1-1-1.3-2-0.7-2.6 0.1-2.4 0.9-1.9zM435.7 50.7l2-0.3 2.6 0.3-2.6 0.6zM357.5 60.7l2.2-0.7 2 0 2 0.6 1 0.6 1.3 1.5 0.6 2-0.5 2-0.7 1-2.7 1.9-2 0.6-3 0-2-1-1-1.1-0.6-1.4 0-2 0.9-2 0.9-1zM512.1 60.7l1.6-0.6 2-0.1 2 0.4 2.4 1.3 0.9 1 0.9 2 0 2-1.1 2-2.1 1.4-3 0.2-2.1-0.6-1.8-1-1.1-0.9-1.2-2.1 0.1-2 1.1-2zM392.4 68.7l0.3-0.3 0.5 0.3-0.4 1-1 1-1.1 0.5-0.3-0.5zM482.7 68.7l0-0.3 1 0.2 2.1 2.1-0.1 0.5-1.5-0.5zM343.6 91.7l2.1-0.8 2 0.2 2 1.2 1.2 1.4 1.1 2 0.5 3-0.5 2-1.3 1.5-2 0.7-2-0.1-2-1-2-2.1-1-2.5-0.1-2.5 0.9-2zM527.1 91.7l2.6-0.8 2 0.4 1.8 1.4 0.9 2 0 2-1.1 3-1.8 2-1.8 1-1 0.2-2-0.1-1-0.4-1-0.7-1.1-2 0.1-2.9 0.8-2.1 1.2-1.8zM372.7 113.7l0.6 2-0.6 2.6-0.3-2.6zM503.5 113.7l0.2-0.2 0.1 1.2-0.1 3.8-1-1.7-0.1-1.1zM345.5 129.7l2.2-0.6 2 0.2 1 0.5 1 0.9 0.7 2-0.3 3-1.4 3-2 1.7-2 0.7-2-0.2-1.8-1.2-0.8-1-0.5-2 0.1-2 0.8-2 1.2-1.7zM525.5 129.7l2.2-0.7 2 0.3 2 1.2 1.8 2.2 0.9 3-0.1 2-1.2 2-1.3 1-2.1 0.4-2-0.4-1.4-1-1.6-2-1-2.6-0.1-2.4 0.8-2zM390.4 160.7l1.9 1 0.7 1 0.2 1-0.5 0.1-2.1-2.1zM358.4 161.7l2.3 0.1 2 0.6 2 1.3 1 1 0.6 1 0.3 2-0.8 2-1.1 1.1-2 1-3 0.2-3-1.1-2-2-0.7-2.2 0-1 0.7-1.8 1.1-1.2zM483.7 161.7l1-0.7 0.6 0.7-1.6 1.6-0.7-0.6zM515.8 161.7l2.9 0.2 2 1.3 1 1.5 0.3 2-0.2 1-1.1 2-2 1.5-2 0.7-3 0-2-0.8-1.4-1.4-0.6-1-0.3-2 0.9-2 1-1 1.4-1zM437.3 180.7l1.5 0 1.7 1-5 0zM385.3 187.7l2.4-0.2 2 1.1 1.5 2.1 0.9 2 0.2 3-0.6 1.9-1 1.2-2 1.1-2 0-2-0.9-1.3-1.3-1-2-0.4-3 0.4-2 1.3-2zM487.7 187.7l2-0.3 2 0.9 1 0.9 0.9 1.5 0.4 2-0.3 2.7-1.1 2.3-1.9 1.7-2 0.6-2-0.3-1.5-1-0.8-1-0.7-2 0-2 1-3 1-1.4zM418.8 201.7l2.9-0.1 2 1.1 1.1 2 0.1 2-0.2 1-1 1.8-2 1.8-3 1.1-2 0-1.7-0.7-1.3-1.3-0.7-1.7 0-2 0.7-1.6 1.2-1.4 1.8-1.2zM454.1 201.7l2.6-0.1 2 0.6 2 1.1 1.3 1.4 1 2 0 2-0.9 2-1.1 1-2.3 0.7-3-0.4-2.2-1.3-1.7-2-0.7-2 0.1-2 1.1-2z"/>
</g></g>
<circle cx="438" cy="116" r="113.3" fill="none" stroke="#333" stroke-width="0.8"/>
<path d="M330.2 86.6L333.8 90.5M330.2 96.4L336.3 100.8M330.2 106.2L337.6 108.8M330.2 116L336.7 116M330.2 125.8L337.6 123.2M330.2 135.6L336.3 131.2M330.2 145.4L333.8 141.5M340 67L344.6 66.1M340 76.8L342 81.3M340 86.6L345.3 95.4M340 96.4L348.1 105.5M340 106.2L349.9 111.7M340 116L348.8 116M340 125.8L349.9 120.3M340 135.6L348.1 126.5M340 145.4L345.3 136.6M340 155.2L342 150.7M340 165L344.6 165.9M349.8 47.4L355.2 49.4M349.8 57.2L359.4 57.8M349.8 67L360.7 64.2M349.8 76.8L358 72.1M349.8 86.6L352.6 97.3M349.8 96.4L354.5 108.2M349.8 106.2L356.9 115.2M349.8 116L356.5 116M349.8 125.8L356.9 116.8M349.8 135.6L354.5 123.8M349.8 145.4L352.6 134.7M349.8 155.2L358 159.9M349.8 165L360.7 167.8M349.8 174.8L359.4 174.2M349.8 184.6L355.2 182.6M359.6 37.6L363.2 41.2M359.6 47.4L367.8 51.9M359.6 57.2L371.5 58.2M359.6 67L371.6 62.6M359.6 76.8L367.5 70.3M359.6 86.6L359 94.5M359.6 96.4L358.5 106.7M359.6 106.2L357.7 115M359.6 116L358.5 116M359.6 125.8L357.7 117M359.6 135.6L358.5 125.3M359.6 145.4L359 137.5M359.6 155.2L367.5 161.7M359.6 165L371.6 169.4M359.6 174.8L371.5 173.8M359.6 184.6L367.8 180.1M359.6 194.4L363.2 190.8M369.4 27.8L371.4 33.2M369.4 37.6L373.9 45.8M369.4 47.4L375.6 53.6M369.4 57.2L380.1 58.9M369.4 67L379.3 60.3M369.4 76.8L374.4 69.2M369.4 86.6L371 82.9M369.4 96.4L365.6 102.6M369.4 106.2L360.4 113.6M369.4 116L358.5 116M369.4 125.8L360.4 118.4M369.4 135.6L365.6 129.4M369.4 145.4L371 149.1M369.4 155.2L374.4 162.8M369.4 165L379.3 171.7M369.4 174.8L380.1 173.1M369.4 184.6L375.6 178.4M369.4 194.4L373.9 186.2M369.4 204.2L371.4 198.8M379.2 27.8L379.8 37.4M379.2 37.6L380.2 49.5M379.2 47.4L380.9 58.1M379.2 57.2L380.4 58.4M379.2 67L380.8 60.1M379.2 76.8L380.3 66.6M379.2 86.6L379.7 79.8M379.2 96.4L373.2 101.8M379.2 106.2L368.2 111.2M379.2 116L366.9 116M379.2 125.8L368.2 120.8M379.2 135.6L373.2 130.2M379.2 145.4L379.7 152.2M379.2 155.2L380.3 165.4M379.2 165L380.8 171.9M379.2 174.8L380.4 173.6M379.2 184.6L380.9 173.9M379.2 194.4L380.2 182.5M379.2 204.2L379.8 194.6M389 18L388.1 22.6M389 27.8L386.2 38.7M389 37.6L384.6 49.6M389 47.4L382.3 57.3M389 57.2L382.1 58.8M389 67L381.8 59.8M389 76.8L384 65.6M389 86.6L386.1 76.4M389 96.4L382.1 100.7M389 106.2L378.5 109.5M389 116L377.5 116M389 125.8L378.5 122.5M389 135.6L382.1 131.3M389 145.4L386.1 155.6M389 155.2L384 166.4M389 165L381.8 172.2M389 174.8L382.1 173.2M389 184.6L382.3 174.7M389 194.4L384.6 182.4M389 204.2L386.2 193.3M389 214L388.1 209.4M398.8 18L403.3 20M398.8 27.8L394.1 36M398.8 37.6L392.3 45.5M398.8 47.4L391.2 52.4M398.8 57.2L388.6 58.3M398.8 67L387.6 62M398.8 76.8L390.2 68.2M398.8 86.6L392.7 77.1M398.8 96.4L395.8 90.1M398.8 106.2L392.8 107.6M398.8 116L392.5 116M398.8 125.8L392.8 124.4M398.8 135.6L395.8 141.9M398.8 145.4L392.7 154.9M398.8 155.2L390.2 163.8M398.8 165L387.6 170M398.8 174.8L388.6 173.7M398.8 184.6L391.2 179.6M398.8 194.4L392.3 186.5M398.8 204.2L394.1 196M398.8 214L403.3 212M408.6 8.2L412.5 11.8M408.6 18L417.4 23.3M408.6 27.8L419.3 30.6M408.6 37.6L416.5 37M408.6 47.4L404.9 49M408.6 57.2L401.8 57.7M408.6 67L398.4 64.1M408.6 76.8L399.1 70.7M408.6 86.6L403.2 81.2M408.6 96.4L406.1 93M408.6 106.2L406 106.7M408.6 116L406.5 116M408.6 125.8L406 125.3M408.6 135.6L406.1 139M408.6 145.4L403.2 150.8M408.6 155.2L399.1 161.3M408.6 165L398.4 167.9M408.6 174.8L401.8 174.3M408.6 184.6L404.9 183M408.6 194.4L416.5 195M408.6 204.2L419.3 201.4M408.6 214L417.4 208.7M408.6 223.8L412.5 220.2M418.4 8.2L422.8 14.3M418.4 18L427.5 26.1M418.4 27.8L430.2 32.5M418.4 37.6L428.7 36.5M418.4 47.4L424.6 43.6M418.4 57.2L423.8 51.2M418.4 67L422.7 60.1M418.4 76.8L412.1 73.8M418.4 86.6L415 84.1M418.4 96.4L417.3 95.3M418.4 106.2L417.8 105.5M418.4 125.8L417.8 126.5M418.4 135.6L417.3 136.7M418.4 145.4L415 147.9M418.4 155.2L412.1 158.2M418.4 165L422.7 171.9M418.4 174.8L423.8 180.8M418.4 184.6L424.6 188.4M418.4 194.4L428.7 195.5M418.4 204.2L430.2 199.5M418.4 214L427.5 205.9M418.4 223.8L422.8 217.7M428.2 8.2L430.8 15.6M428.2 18L433.7 27.9M428.2 27.8L437.2 34.9M428.2 37.6L437 35.7M428.2 47.4L435.6 38.4M428.2 57.2L433.2 46.2M428.2 67L431.5 56.5M428.2 76.8L429.6 70.8M428.2 86.6L428.7 84M428.2 96.4L427.5 95.8M428.2 135.6L427.5 136.2M428.2 145.4L428.7 148M428.2 155.2L429.6 161.2M428.2 165L431.5 175.5M428.2 174.8L433.2 185.8M428.2 184.6L435.6 193.6M428.2 194.4L437 196.3M428.2 204.2L437.2 197.1M428.2 214L433.7 204.1M428.2 223.8L430.8 216.4M438 8.2L438 14.7M438 18L438 26.8M438 27.8L438 34.5M438 37.6L438 36.5M438 47.4L438 36.5M438 57.2L438 44.9M438 67L438 55.5M438 76.8L438 70.5M438 86.6L438 84.5M438 145.4L438 147.5M438 155.2L438 161.5M438 165L438 176.5M438 174.8L438 187.1M438 184.6L438 195.5M438 194.4L438 195.5M438 204.2L438 197.5M438 214L438 205.2M438 223.8L438 217.3M447.8 8.2L445.2 15.6M447.8 18L442.3 27.9M447.8 27.8L438.8 34.9M447.8 37.6L439 35.7M447.8 47.4L440.4 38.4M447.8 57.2L442.8 46.2M447.8 67L444.5 56.5M447.8 76.8L446.4 70.8M447.8 86.6L447.3 84M447.8 96.4L448.5 95.8M447.8 135.6L448.5 136.2M447.8 145.4L447.3 148M447.8 155.2L446.4 161.2M447.8 165L444.5 175.5M447.8 174.8L442.8 185.8M447.8 184.6L440.4 193.6M447.8 194.4L439 196.3M447.8 204.2L438.8 197.1M447.8 214L442.3 204.1M447.8 223.8L445.2 216.4M457.6 8.2L453.2 14.3M457.6 18L448.5 26.1M457.6 27.8L445.8 32.5M457.6 37.6L447.3 36.5M457.6 47.4L451.4 43.6M457.6 57.2L452.2 51.2M457.6 67L453.3 60.1M457.6 76.8L463.9 73.8M457.6 86.6L461 84.1M457.6 96.4L458.7 95.3M457.6 106.2L458.2 105.5M457.6 125.8L458.2 126.5M457.6 135.6L458.7 136.7M457.6 145.4L461 147.9M457.6 155.2L463.9 158.2M457.6 165L453.3 171.9M457.6 174.8L452.2 180.8M457.6 184.6L451.4 188.4M457.6 194.4L447.3 195.5M457.6 204.2L445.8 199.5M457.6 214L448.5 205.9M457.6 223.8L453.2 217.7M467.4 8.2L463.5 11.8M467.4 18L458.6 23.3M467.4 27.8L456.7 30.6M467.4 37.6L459.5 37M467.4 47.4L471.1 49M467.4 57.2L474.2 57.7M467.4 67L477.6 64.1M467.4 76.8L476.9 70.7M467.4 86.6L472.8 81.2M467.4 96.4L469.9 93M467.4 106.2L470 106.7M467.4 116L469.5 116M467.4 125.8L470 125.3M467.4 135.6L469.9 139M467.4 145.4L472.8 150.8M467.4 155.2L476.9 161.3M467.4 165L477.6 167.9M467.4 174.8L474.2 174.3M467.4 184.6L471.1 183M467.4 194.4L459.5 195M467.4 204.2L456.7 201.4M467.4 214L458.6 208.7M467.4 223.8L463.5 220.2M477.2 18L472.7 20M477.2 27.8L481.9 36M477.2 37.6L483.7 45.5M477.2 47.4L484.8 52.4M477.2 57.2L487.4 58.3M477.2 67L488.4 62M477.2 76.8L485.8 68.2M477.2 86.6L483.3 77.1M477.2 96.4L480.2 90.1M477.2 106.2L483.2 107.6M477.2 116L483.5 116M477.2 125.8L483.2 124.4M477.2 135.6L480.2 141.9M477.2 145.4L483.3 154.9M477.2 155.2L485.8 163.8M477.2 165L488.4 170M477.2 174.8L487.4 173.7M477.2 184.6L484.8 179.6M477.2 194.4L483.7 186.5M477.2 204.2L481.9 196M477.2 214L472.7 212M487 18L487.9 22.6M487 27.8L489.8 38.7M487 37.6L491.4 49.6M487 47.4L493.7 57.3M487 57.2L493.9 58.8M487 67L494.2 59.8M487 76.8L492 65.6M487 86.6L489.9 76.4M487 96.4L493.9 100.7M487 106.2L497.5 109.5M487 116L498.5 116M487 125.8L497.5 122.5M487 135.6L493.9 131.3M487 145.4L489.9 155.6M487 155.2L492 166.4M487 165L494.2 172.2M487 174.8L493.9 173.2M487 184.6L493.7 174.7M487 194.4L491.4 182.4M487 204.2L489.8 193.3M487 214L487.9 209.4M496.8 27.8L496.2 37.4M496.8 37.6L495.8 49.5M496.8 47.4L495.1 58.1M496.8 57.2L495.6 58.4M496.8 67L495.2 60.1M496.8 76.8L495.7 66.6M496.8 86.6L496.3 79.8M496.8 96.4L502.8 101.8M496.8 106.2L507.8 111.2M496.8 116L509.1 116M496.8 125.8L507.8 120.8M496.8 135.6L502.8 130.2M496.8 145.4L496.3 152.2M496.8 155.2L495.7 165.4M496.8 165L495.2 171.9M496.8 174.8L495.6 173.6M496.8 184.6L495.1 173.9M496.8 194.4L495.8 182.5M496.8 204.2L496.2 194.6M506.6 27.8L504.6 33.2M506.6 37.6L502.1 45.8M506.6 47.4L500.4 53.6M506.6 57.2L495.9 58.9M506.6 67L496.7 60.3M506.6 76.8L501.6 69.2M506.6 86.6L505 82.9M506.6 96.4L510.4 102.6M506.6 106.2L515.6 113.6M506.6 116L517.5 116M506.6 125.8L515.6 118.4M506.6 135.6L510.4 129.4M506.6 145.4L505 149.1M506.6 155.2L501.6 162.8M506.6 165L496.7 171.7M506.6 174.8L495.9 173.1M506.6 184.6L500.4 178.4M506.6 194.4L502.1 186.2M506.6 204.2L504.6 198.8M516.4 37.6L512.8 41.2M516.4 47.4L508.2 51.9M516.4 57.2L504.5 58.2M516.4 67L504.4 62.6M516.4 76.8L508.5 70.3M516.4 86.6L517 94.5M516.4 96.4L517.5 106.7M516.4 106.2L518.3 115M516.4 116L517.5 116M516.4 125.8L518.3 117M516.4 135.6L517.5 125.3M516.4 145.4L517 137.5M516.4 155.2L508.5 161.7M516.4 165L504.4 169.4M516.4 174.8L504.5 173.8M516.4 184.6L508.2 180.1M516.4 194.4L512.8 190.8M526.2 47.4L520.8 49.4M526.2 57.2L516.6 57.8M526.2 67L515.3 64.2M526.2 76.8L518 72.1M526.2 86.6L523.4 97.3M526.2 96.4L521.5 108.2M526.2 106.2L519.1 115.2M526.2 116L519.5 116M526.2 125.8L519.1 116.8M526.2 135.6L521.5 123.8M526.2 145.4L523.4 134.7M526.2 155.2L518 159.9M526.2 165L515.3 167.8M526.2 174.8L516.6 174.2M526.2 184.6L520.8 182.6M536 67L531.4 66.1M536 76.8L534 81.3M536 86.6L530.7 95.4M536 96.4L527.9 105.5M536 106.2L526.1 111.7M536 116L527.2 116M536 125.8L526.1 120.3M536 135.6L527.9 126.5M536 145.4L530.7 136.6M536 155.2L534 150.7M536 165L531.4 165.9M545.8 86.6L542.2 90.5M545.8 96.4L539.7 100.8M545.8 106.2L538.4 108.8M545.8 116L539.3 116M545.8 125.8L538.4 123.2M545.8 135.6L539.7 131.2M545.8 145.4L542.2 141.5" stroke="#0a0a0a" stroke-width="0.85" fill="none"/><path d="M334.2 90.9L331.5 89.4L332.9 88.1zM336.7 101L332.8 99.8L334.3 97.8zM338 109L333.9 108.9L334.8 106.5zM337.2 116L333.8 117.1L333.8 114.9zM338 123L334.8 125.5L333.9 123.1zM336.7 131L334.3 134.2L332.8 132.2zM334.2 141.1L332.9 143.9L331.5 142.6zM345.1 66L342.7 67.3L342.4 65.7zM342.2 81.8L340.3 79.6L341.9 78.9zM345.5 95.9L342.4 93.2L344.6 91.8zM348.4 105.8L344.9 103.8L346.8 102.1zM350.3 112L346.3 111.2L347.6 108.9zM349.3 116L345.4 117.3L345.4 114.7zM350.3 120L347.6 123.1L346.3 120.8zM348.4 126.2L346.8 129.9L344.9 128.2zM345.5 136.1L344.6 140.2L342.4 138.8zM342.2 150.2L341.9 153.1L340.3 152.4zM345.1 166L342.4 166.3L342.7 164.7zM355.7 49.6L352.4 49.4L353.1 47.6zM359.9 57.8L356 58.9L356.1 56.3zM361.2 64.1L357.7 66.3L357.1 63.8zM358.4 71.9L355.7 74.9L354.4 72.7zM352.7 97.8L350.5 94.3L353 93.7zM354.6 108.7L352 105.6L354.4 104.6zM357.2 115.6L353.8 113.3L355.8 111.7zM357 116L353.5 117.1L353.5 114.9zM357.2 116.4L355.8 120.3L353.8 118.7zM354.6 123.3L354.4 127.4L352 126.4zM352.7 134.2L353 138.3L350.5 137.7zM358.4 160.1L354.4 159.3L355.7 157.1zM361.2 167.9L357.1 168.2L357.7 165.7zM359.9 174.2L356.1 175.7L356 173.1zM355.7 182.4L353.1 184.4L352.4 182.6zM363.5 41.5L361 40.2L362.2 39zM368.3 52.1L364.2 51.4L365.5 49.1zM372 58.3L368 59.2L368.2 56.7zM372.1 62.4L368.9 65L368 62.5zM367.9 69.9L365.7 73.4L364.1 71.4zM359 95L358 91L360.6 91.2zM358.4 107.2L357.6 103.2L360.1 103.5zM357.6 115.5L357.2 111.4L359.7 112zM357.6 116.5L359.7 120L357.2 120.6zM358.4 124.8L360.1 128.5L357.6 128.8zM359 137L360.6 140.8L358 141zM367.9 162.1L364.1 160.6L365.7 158.6zM372.1 169.6L368 169.5L368.9 167zM372 173.7L368.2 175.3L368 172.8zM368.3 179.9L365.5 182.9L364.2 180.6zM363.5 190.5L362.2 193L361 191.8zM371.6 33.7L369.6 31.1L371.4 30.4zM374.1 46.3L371.1 43.5L373.4 42.2zM376 54L372.3 52.2L374.2 50.3zM380.6 59L376.5 59.7L376.9 57.1zM379.7 60L377.2 63.2L375.8 61.1zM374.7 68.8L373.6 72.7L371.5 71.3zM371.2 82.4L370.9 84.8L369.6 84.3zM365.4 103L366.3 99.2L368.4 100.4zM360 113.9L362.2 110.5L363.8 112.5zM358 116L361.9 114.7L361.9 117.3zM360 118.1L363.8 119.5L362.2 121.5zM365.4 129L368.4 131.6L366.3 132.8zM371.2 149.6L369.6 147.7L370.9 147.2zM374.7 163.2L371.5 160.7L373.6 159.3zM379.7 172L375.8 170.9L377.2 168.8zM380.6 173L376.9 174.9L376.5 172.3zM376 178L374.2 181.7L372.3 179.8zM374.1 185.7L373.4 189.8L371.1 188.5zM371.6 198.3L371.4 201.6L369.6 200.9zM379.8 37.9L378.3 34.1L380.9 34zM380.3 50L378.7 46.2L381.2 46zM381 58.6L379.1 54.9L381.7 54.5zM381 59.6L381.3 63.5L378.9 62.9zM380.3 66.1L381.2 70.1L378.6 69.8zM379.7 79.3L380.6 82.9L378.3 82.8zM372.9 102.1L374.9 98.6L376.6 100.5zM367.8 111.4L370.8 108.6L371.9 110.9zM366.4 116L370.3 114.7L370.3 117.3zM367.8 120.6L371.9 121.1L370.8 123.4zM372.9 129.9L376.6 131.5L374.9 133.4zM379.7 152.7L378.3 149.2L380.6 149.1zM380.3 165.9L378.6 162.2L381.2 161.9zM381 172.4L378.9 169.1L381.3 168.5zM381 173.4L381.7 177.5L379.1 177.1zM380.3 182L381.2 186L378.7 185.8zM379.8 194.1L380.9 198L378.3 197.9zM388 23.1L387.7 20.4L389.3 20.7zM386.1 39.2L385.8 35.1L388.3 35.7zM384.4 50.1L384.5 46L387 46.9zM382 57.7L383.1 53.8L385.2 55.2zM381.6 59L384.9 56.9L385.5 59.3zM381.4 59.4L385.1 61.3L383.3 63.1zM383.8 65.1L386.6 68.2L384.2 69.2zM385.9 75.9L388.2 79.3L385.8 80zM381.7 101L384.3 97.8L385.6 100zM378 109.6L381.4 107.2L382.2 109.7zM377 116L380.9 114.7L380.9 117.3zM378 122.4L382.2 122.3L381.4 124.8zM381.7 131L385.6 132L384.3 134.2zM385.9 156.1L385.8 152L388.2 152.7zM383.8 166.9L384.2 162.8L386.6 163.8zM381.4 172.6L383.3 168.9L385.1 170.7zM381.6 173L385.5 172.7L384.9 175.1zM382 174.3L385.2 176.8L383.1 178.2zM384.4 181.9L387 185.1L384.5 186zM386.1 192.8L388.3 196.3L385.8 196.9zM388 208.9L389.3 211.3L387.7 211.6zM403.8 20.2L400.9 19.9L401.6 18.3zM393.9 36.4L394.7 32.4L396.9 33.7zM391.9 45.9L393.4 42.1L395.4 43.7zM390.8 52.7L393.3 49.5L394.7 51.6zM388.1 58.3L391.8 56.6L392.1 59.2zM387.1 61.8L391.2 62.2L390.2 64.6zM389.9 67.9L393.5 69.7L391.7 71.5zM392.4 76.7L395.6 79.3L393.4 80.7zM395.6 89.7L398.2 92.4L396.1 93.5zM392.3 107.7L395.2 106L395.7 108zM392 116L395.3 114.9L395.3 117.1zM392.3 124.3L395.7 124L395.2 126zM395.6 142.3L396.1 138.5L398.2 139.6zM392.4 155.3L393.4 151.3L395.6 152.7zM389.9 164.1L391.7 160.5L393.5 162.3zM387.1 170.2L390.2 167.4L391.2 169.8zM388.1 173.7L392.1 172.8L391.8 175.4zM390.8 179.3L394.7 180.4L393.3 182.5zM391.9 186.1L395.4 188.3L393.4 189.9zM393.9 195.6L396.9 198.3L394.7 199.6zM403.8 211.8L401.6 213.7L400.9 212.1zM412.9 12.2L410.1 10.9L411.4 9.5zM417.9 23.5L413.8 22.6L415.2 20.4zM419.8 30.7L415.7 31L416.3 28.5zM417 37L413.2 38.6L413 36zM404.4 49.2L406.3 47.6L406.8 48.9zM401.3 57.7L404.8 56.3L404.9 58.6zM397.9 63.9L402 63.8L401.3 66.2zM398.7 70.4L402.7 71.4L401.3 73.6zM402.9 80.9L406.5 82.7L404.7 84.5zM405.8 92.6L407.8 94.1L406.6 95zM405.5 106.8L407.1 106L407.3 106.9zM405.5 125.2L407.3 125.1L407.1 126zM405.8 139.4L406.6 137L407.8 137.9zM402.9 151.1L404.7 147.5L406.5 149.3zM398.7 161.6L401.3 158.4L402.7 160.6zM397.9 168.1L401.3 165.8L402 168.2zM401.3 174.3L404.9 173.4L404.8 175.7zM404.4 182.8L406.8 183.1L406.3 184.4zM417 195L413 196L413.2 193.4zM419.8 201.3L416.3 203.5L415.7 201zM417.9 208.5L415.2 211.6L413.8 209.4zM412.9 219.8L411.4 222.5L410.1 221.1zM423 14.7L419.8 12.3L421.8 10.8zM427.8 26.4L424.1 24.8L425.8 22.9zM430.7 32.6L426.6 32.4L427.6 30zM429.2 36.4L425.5 38.1L425.2 35.6zM425 43.4L422.4 46.4L421.2 44.3zM424.1 50.9L422.5 54.6L420.6 52.9zM423 59.7L422 63.6L419.8 62.3zM411.7 73.6L415.5 74.1L414.4 76.2zM414.6 83.8L417 84.6L416.1 85.8zM414.6 148.2L416.1 146.2L417 147.4zM411.7 158.4L414.4 155.8L415.5 157.9zM423 172.3L419.8 169.7L422 168.4zM424.1 181.1L420.6 179.1L422.5 177.4zM425 188.6L421.2 187.7L422.4 185.6zM429.2 195.6L425.2 196.4L425.5 193.9zM430.7 199.4L427.6 202L426.6 199.6zM427.8 205.6L425.8 209.1L424.1 207.2zM423 217.3L421.8 221.2L419.8 219.7zM431 16L428.5 12.8L430.9 11.9zM434 28.3L430.9 25.6L433.2 24.3zM437.6 35.2L433.7 33.8L435.3 31.8zM437.5 35.6L434 37.7L433.4 35.2zM435.9 38L434.5 41.8L432.5 40.2zM433.4 45.8L432.9 49.9L430.6 48.8zM431.6 56L431.7 60.2L429.2 59.4zM429.7 70.3L430 73.7L428 73.2zM428.8 83.5L428.9 85.3L428 85.1zM428.8 148.5L428 146.9L428.9 146.7zM429.7 161.7L428 158.8L430 158.3zM431.6 176L429.2 172.6L431.7 171.8zM433.4 186.2L430.6 183.2L432.9 182.1zM435.9 194L432.5 191.8L434.5 190.2zM437.5 196.4L433.4 196.8L434 194.3zM437.6 196.8L435.3 200.2L433.7 198.2zM434 203.7L433.2 207.7L430.9 206.4zM431 216L430.9 220.1L428.5 219.2zM438 15.2L436.9 11.8L439.1 11.8zM438 27.3L436.7 23.4L439.3 23.4zM438 35L436.9 31.5L439.1 31.5zM438 36L439.3 39.9L436.7 39.9zM438 44.4L439.3 48.3L436.7 48.3zM438 55L439.3 58.9L436.7 58.9zM438 70L439.1 73.3L436.9 73.3zM438 162L436.9 158.7L439.1 158.7zM438 177L436.7 173.1L439.3 173.1zM438 187.6L436.7 183.7L439.3 183.7zM438 196L436.7 192.1L439.3 192.1zM438 197L439.1 200.5L436.9 200.5zM438 204.7L439.3 208.6L436.7 208.6zM438 216.8L439.1 220.2L436.9 220.2zM445 16L445.1 11.9L447.5 12.8zM442 28.3L442.8 24.3L445.1 25.6zM438.4 35.2L440.7 31.8L442.3 33.8zM438.5 35.6L442.6 35.2L442 37.7zM440.1 38L443.5 40.2L441.5 41.8zM442.6 45.8L445.4 48.8L443.1 49.9zM444.4 56L446.8 59.4L444.3 60.2zM446.3 70.3L448 73.2L446 73.7zM447.2 83.5L448 85.1L447.1 85.3zM447.2 148.5L447.1 146.7L448 146.9zM446.3 161.7L446 158.3L448 158.8zM444.4 176L444.3 171.8L446.8 172.6zM442.6 186.2L443.1 182.1L445.4 183.2zM440.1 194L441.5 190.2L443.5 191.8zM438.5 196.4L442 194.3L442.6 196.8zM438.4 196.8L442.3 198.2L440.7 200.2zM442 203.7L445.1 206.4L442.8 207.7zM445 216L447.5 219.2L445.1 220.1zM453 14.7L454.2 10.8L456.2 12.3zM448.2 26.4L450.2 22.9L451.9 24.8zM445.3 32.6L448.4 30L449.4 32.4zM446.8 36.4L450.8 35.6L450.5 38.1zM451 43.4L454.8 44.3L453.6 46.4zM451.9 50.9L455.4 52.9L453.5 54.6zM453 59.7L456.2 62.3L454 63.6zM464.3 73.6L461.6 76.2L460.5 74.1zM461.4 83.8L459.9 85.8L459 84.6zM461.4 148.2L459 147.4L459.9 146.2zM464.3 158.4L460.5 157.9L461.6 155.8zM453 172.3L454 168.4L456.2 169.7zM451.9 181.1L453.5 177.4L455.4 179.1zM451 188.6L453.6 185.6L454.8 187.7zM446.8 195.6L450.5 193.9L450.8 196.4zM445.3 199.4L449.4 199.6L448.4 202zM448.2 205.6L451.9 207.2L450.2 209.1zM453 217.3L456.2 219.7L454.2 221.2zM463.1 12.2L464.6 9.5L465.9 10.9zM458.1 23.5L460.8 20.4L462.2 22.6zM456.2 30.7L459.7 28.5L460.3 31zM459 37L463 36L462.8 38.6zM471.6 49.2L469.2 48.9L469.7 47.6zM474.7 57.7L471.1 58.6L471.2 56.3zM478.1 63.9L474.7 66.2L474 63.8zM477.3 70.4L474.7 73.6L473.3 71.4zM473.1 80.9L471.3 84.5L469.5 82.7zM470.2 92.6L469.4 95L468.2 94.1zM470.5 106.8L468.7 106.9L468.9 106zM470.5 125.2L468.9 126L468.7 125.1zM470.2 139.4L468.2 137.9L469.4 137zM473.1 151.1L469.5 149.3L471.3 147.5zM477.3 161.6L473.3 160.6L474.7 158.4zM478.1 168.1L474 168.2L474.7 165.8zM474.7 174.3L471.2 175.7L471.1 173.4zM471.6 182.8L469.7 184.4L469.2 183.1zM459 195L462.8 193.4L463 196zM456.2 201.3L460.3 201L459.7 203.5zM458.1 208.5L462.2 209.4L460.8 211.6zM463.1 219.8L465.9 221.1L464.6 222.5zM472.2 20.2L474.4 18.3L475.1 19.9zM482.1 36.4L479.1 33.7L481.3 32.4zM484.1 45.9L480.6 43.7L482.6 42.1zM485.2 52.7L481.3 51.6L482.7 49.5zM487.9 58.3L483.9 59.2L484.2 56.6zM488.9 61.8L485.8 64.6L484.8 62.2zM486.1 67.9L484.3 71.5L482.5 69.7zM483.6 76.7L482.6 80.7L480.4 79.3zM480.4 89.7L479.9 93.5L477.8 92.4zM483.7 107.7L480.3 108L480.8 106zM484 116L480.7 117.1L480.7 114.9zM483.7 124.3L480.8 126L480.3 124zM480.4 142.3L477.8 139.6L479.9 138.5zM483.6 155.3L480.4 152.7L482.6 151.3zM486.1 164.1L482.5 162.3L484.3 160.5zM488.9 170.2L484.8 169.8L485.8 167.4zM487.9 173.7L484.2 175.4L483.9 172.8zM485.2 179.3L482.7 182.5L481.3 180.4zM484.1 186.1L482.6 189.9L480.6 188.3zM482.1 195.6L481.3 199.6L479.1 198.3zM472.2 211.8L475.1 212.1L474.4 213.7zM488 23.1L486.7 20.7L488.3 20.4zM489.9 39.2L487.7 35.7L490.2 35.1zM491.6 50.1L489 46.9L491.5 46zM494 57.7L490.8 55.2L492.9 53.8zM494.4 59L490.5 59.3L491.1 56.9zM494.6 59.4L492.7 63.1L490.9 61.3zM492.2 65.1L491.8 69.2L489.4 68.2zM490.1 75.9L490.2 80L487.8 79.3zM494.3 101L490.4 100L491.7 97.8zM498 109.6L493.8 109.7L494.6 107.2zM499 116L495.1 117.3L495.1 114.7zM498 122.4L494.6 124.8L493.8 122.3zM494.3 131L491.7 134.2L490.4 132zM490.1 156.1L487.8 152.7L490.2 152zM492.2 166.9L489.4 163.8L491.8 162.8zM494.6 172.6L490.9 170.7L492.7 168.9zM494.4 173L491.1 175.1L490.5 172.7zM494 174.3L492.9 178.2L490.8 176.8zM491.6 181.9L491.5 186L489 185.1zM489.9 192.8L490.2 196.9L487.7 196.3zM488 208.9L488.3 211.6L486.7 211.3zM496.2 37.9L495.1 34L497.7 34.1zM495.7 50L494.8 46L497.3 46.2zM495 58.6L494.3 54.5L496.9 54.9zM495 59.6L497.1 62.9L494.7 63.5zM495.7 66.1L497.4 69.8L494.8 70.1zM496.3 79.3L497.7 82.8L495.4 82.9zM503.1 102.1L499.4 100.5L501.1 98.6zM508.2 111.4L504.1 110.9L505.2 108.6zM509.6 116L505.7 117.3L505.7 114.7zM508.2 120.6L505.2 123.4L504.1 121.1zM503.1 129.9L501.1 133.4L499.4 131.5zM496.3 152.7L495.4 149.1L497.7 149.2zM495.7 165.9L494.8 161.9L497.4 162.2zM495 172.4L494.7 168.5L497.1 169.1zM495 173.4L496.9 177.1L494.3 177.5zM495.7 182L497.3 185.8L494.8 186zM496.2 194.1L497.7 197.9L495.1 198zM504.4 33.7L504.6 30.4L506.4 31.1zM501.9 46.3L502.6 42.2L504.9 43.5zM500 54L501.8 50.3L503.7 52.2zM495.4 59L499.1 57.1L499.5 59.7zM496.3 60L500.2 61.1L498.8 63.2zM501.3 68.8L504.5 71.3L502.4 72.7zM504.8 82.4L506.4 84.3L505.1 84.8zM510.6 103L507.6 100.4L509.7 99.2zM516 113.9L512.2 112.5L513.8 110.5zM518 116L514.1 117.3L514.1 114.7zM516 118.1L513.8 121.5L512.2 119.5zM510.6 129L509.7 132.8L507.6 131.6zM504.8 149.6L505.1 147.2L506.4 147.7zM501.3 163.2L502.4 159.3L504.5 160.7zM496.3 172L498.8 168.8L500.2 170.9zM495.4 173L499.5 172.3L499.1 174.9zM500 178L503.7 179.8L501.8 181.7zM501.9 185.7L504.9 188.5L502.6 189.8zM504.4 198.3L506.4 200.9L504.6 201.6zM512.5 41.5L513.8 39L515 40.2zM507.7 52.1L510.5 49.1L511.8 51.4zM504 58.3L507.8 56.7L508 59.2zM503.9 62.4L508 62.5L507.1 65zM508.1 69.9L511.9 71.4L510.3 73.4zM517 95L515.4 91.2L518 91zM517.6 107.2L515.9 103.5L518.4 103.2zM518.4 115.5L516.3 112L518.8 111.4zM518.4 116.5L518.8 120.6L516.3 120zM517.6 124.8L518.4 128.8L515.9 128.5zM517 137L518 141L515.4 140.8zM508.1 162.1L510.3 158.6L511.9 160.6zM503.9 169.6L507.1 167L508 169.5zM504 173.7L508 172.8L507.8 175.3zM507.7 179.9L511.8 180.6L510.5 182.9zM512.5 190.5L515 191.8L513.8 193zM520.3 49.6L522.9 47.6L523.6 49.4zM516.1 57.8L519.9 56.3L520 58.9zM514.8 64.1L518.9 63.8L518.3 66.3zM517.6 71.9L521.6 72.7L520.3 74.9zM523.3 97.8L523 93.7L525.5 94.3zM521.4 108.7L521.6 104.6L524 105.6zM518.8 115.6L520.2 111.7L522.2 113.3zM519 116L522.5 114.9L522.5 117.1zM518.8 116.4L522.2 118.7L520.2 120.3zM521.4 123.3L524 126.4L521.6 127.4zM523.3 134.2L525.5 137.7L523 138.3zM517.6 160.1L520.3 157.1L521.6 159.3zM514.8 167.9L518.3 165.7L518.9 168.2zM516.1 174.2L520 173.1L519.9 175.7zM520.3 182.4L523.6 182.6L522.9 184.4zM530.9 66L533.6 65.7L533.3 67.3zM533.8 81.8L534.1 78.9L535.7 79.6zM530.5 95.9L531.4 91.8L533.6 93.2zM527.6 105.8L529.2 102.1L531.1 103.8zM525.7 112L528.4 108.9L529.7 111.2zM526.7 116L530.6 114.7L530.6 117.3zM525.7 120L529.7 120.8L528.4 123.1zM527.6 126.2L531.1 128.2L529.2 129.9zM530.5 136.1L533.6 138.8L531.4 140.2zM533.8 150.2L535.7 152.4L534.1 153.1zM530.9 166L533.3 164.7L533.6 166.3zM541.8 90.9L543.1 88.1L544.5 89.4zM539.3 101L541.7 97.8L543.2 99.8zM538 109L541.2 106.5L542.1 108.9zM538.8 116L542.2 114.9L542.2 117.1zM538 123L542.1 123.1L541.2 125.5zM539.3 131L543.2 132.2L541.7 134.2zM541.8 141.1L544.5 142.6L543.1 143.9z" fill="#0a0a0a"/>
<g stroke="#fff" stroke-width="1.2" fill="#fff"><path d="M434.4 103.5V120H452" fill="none"/><path d="M434.4 100.5l-2.3 4.6h4.6z" stroke="none"/><path d="M455.2 120l-4.6-2.3v4.6z" stroke="none"/></g>
<text x="430.3" y="97.3" class="mi" font-size="18" font-weight="bold" fill="#fff">y</text>
<text x="455.3" y="123.6" class="mi" font-size="17.5" font-weight="bold" fill="#fff">x</text>
<g clip-path="url(#ca)"><g filter="url(#bl)"><rect x="8" y="94" width="242" height="134" fill="#000084"/>
<path fill="#00008d" d="M8 94l241 0 0 132-241 0 0-52.6 0.2 0.6 1.1 1 1.7 0.6 2 0.2 1-0.3 0.6-0.5 0.5-1 0.1-1-1.2-1.6-2-1-1 0-1.6 0.6-1.1 1-0.3 0.7zM27 123.8l-2.2 1.2-0.7 1 0.2 1 0.7 0.7 1 0.5 2-0.3 2.2-0.9 1.1-1 0.5-1-0.2-1-0.6-0.3-2-0.2zM63 211.9l-1 0.1-1 0.9 0 1.1 0.8 1 1.9 1 2.3 0.4 2-0.1 1.3-0.3 1.4-1-0.7-1.2-2-1.2-2-0.6zM97 97l-2.2 1-0.6 1 1.8 1 4.2 0 2.8-1 0.6-1-2.6-1.1-2-0.1zM157 219.9l-1.8 1.1 0.2 1 1.6 0.9 2 0.4 2 0 2-0.4 1.7-0.9 0.8-1 0-1-2.5-0.8-3-0.1zM181 102.8l-0.6 0.2-0.2 1 1.2 1 2.6 0.9 4 0.1 1-1-0.4-1-0.6-0.5-2-0.8-3-0.3zM233 186.8l-2 1-1 1.2-0.2 1 0.4 1 1.8 0.6 2-0.1 1.8-0.5 1.4-1 0.5-1-0.1-1-0.8-1-1.8-0.6zM239 137.9l-1 0.7-0.5 1.4 0.4 1 1.1 1 2 0.9 1 0.2 2.2-1.1 0.5-1-0.2-1-0.9-1-2.5-1z"/>
<path fill="#00009b" d="M8 94l241 0 0 132-241 0 0-50 3 0.9 3 0 1.5-0.9 0.8-1 0.4-1 0.1-1-0.4-1-0.9-1-2.5-1.4-2-0.4-3 0.9zM26 122.9l-2.4 1.1-1.1 1-0.4 1 0.1 1 0.5 1 1.6 1 2.7 0 3.4-1 1.7-1 0.9-1 0.3-1 0-1-0.3-0.7-1-0.7-3-0.2zM62 211l-2 0.4-0.9 0.6-0.4 1 0.1 1 0.5 1 1 1 1.7 0.9 3 0.7 3-0.1 2.6-0.5 1.9-1 0.2-1-0.5-1-1-1-1.7-1-3.5-1zM97 95.9l-3 1-1.4 1.1-0.5 1 0.4 1 1.5 0.5 4 0.5 3-0.4 3-1 1-0.6 0.8-1-1-1-2.7-1-3.1-0.3zM157 218.8l-2.7 1.2-1.2 1-0.2 1 1.1 1.1 3 1.1 4 0.4 3-0.6 2.1-1 1.1-1 0.6-1 0.1-1-0.9-0.8-2-0.7-4-0.4zM180 101.8l-2 1.2 0.5 1 1 1 1.9 1 2.6 0.7 3 0.2 2-0.2 1.8-0.7 0.3-1-0.4-1-0.9-1-1.8-1-4-0.6zM232 186l-2 1-1.1 1-0.6 1-0.1 1 0.2 1 0.6 1.1 1 0.5 2 0.3 3-0.3 3-1.1 1.6-1.5 0.3-1-0.2-1-0.5-1-1.2-1.1-2-0.6zM238 136.9l-1.5 1.1-0.5 1 0 1 1 1.8 1.6 1.2 2.4 0.9 2 0.2 2-0.7 1.5-1.4 0.3-1-0.1-1-0.7-1-1.4-1-3.6-1.1z"/>
<path fill="#0000a4" d="M8 94l241 0 0 132-241 0 0-48.9 4 0.9 3-0.4 2-1.6 1-2 0-1-1-2-1.2-1-2-1-2.8-0.7-3 0.6zM27 121.8l-4 1.2-2 1.6-0.5 1.4 0.1 1 0.4 1 0.9 1 2.1 1 4-0.5 4.1-1.5 2.1-2 0.4-2-0.3-1-1-1-2.3-0.4zM59 210.7l-0.9 0.3-0.9 1-0.3 1 0.1 1 1.2 2 1.2 1 2 1 3.6 0.6 4-0.2 2-0.4 2-0.8 1.4-1.2-0.4-1.4-1.3-1.6-1.3-1-2.2-1-5.2-0.8zM97 95l-3.4 1-1.6 1-1.1 1-0.4 1 0.2 1 2.3 1 5 0.5 4-0.4 2.9-1.1 1.6-1 0.9-1-0.6-1-2.8-1.3-3-0.7zM157 217.9l-2.9 1.1-1.6 1-1 1-0.5 1 0.7 1 1.3 0.9 3 1.2 4 0.6 4-0.5 2-0.7 2-1.3 1.1-1.2 0.5-1 0.1-1-0.5-1-2.7-1-4.5-0.6zM180 100.9l-2.9 1.1-0.5 1 0.5 1 1 1 1.9 1.2 3 0.9 4 0.4 4.4-0.5 1.1-1 0.1-1-0.6-1.4-1.7-1.6-1.3-0.6-4-0.8zM233 184.9l-3.1 1.1-1.5 1-0.9 1-0.5 1 0 2 1.3 2 2.7 0.7 4-0.1 4-1.2 2-1.4 0.5-1 0.1-1-0.7-2-0.9-1.1-1.3-0.9-1.7-0.6zM238 135.9l-1 0.3-1.1 0.8-1.1 2 0.3 2 1.9 2 3 1.4 3 0.6 3.2-1 2-2 0.4-1-0.1-1-0.6-1-1.1-1-2-1-2.8-0.8z"/>
<path fill="#0000b2" d="M8 94l241 0 0 44.3-2-1.3-2.6-1-3.4-0.7-3-0.2-2 0.6-1 0.9-0.9 1.4-0.3 2 0.9 2 1.3 1.1 3 1.6 3 0.9 2 0.1 2-0.5 2-1.2 1-1 0 83-83.8 0 2.8-1.4 2-1.7 1.2-1.9 0.1-1-0.4-1-1.9-1-2-0.6-3-0.5-3-0.1-3 0.2-3.4 1-3.5 2-1.6 2 0.4 1 1.2 1 1.9 1 3.1 1-148.1 0 0-47.9 4 0.7 3-0.2 2-1.3 1.2-1.3 0.8-1.9 0.1-1.1-0.9-2-1.2-1.1-2-1.2-4-1.2-3 0.5zM28 121l-4.9 1-2.2 1-1.2 1-0.5 1-0.2 1 0.6 2 0.7 1 1.3 1 1.4 0.5 3 0 2.6-0.5 2.9-1 1.8-1 1.2-1 1.1-2-0.1-2-0.5-1-1-0.6-1.4-0.4zM59 209.9l-2.7 1.1-0.6 1-0.1 2 0.4 1.1 1.4 1.9 2.6 1.7 4 0.8 6-0.4 4-1.2 1.3-0.9 0.4-1-0.7-1.8-1-1.2-2-1.5-2-0.9-2-0.6-3-0.4zM94 94.9l-2 1-1.5 1.1-1.4 2 0.1 1 0.8 0.6 3 0.9 5 0.6 4-0.5 2.1-0.6 2.2-1 1.5-1 0.9-1-0.4-1-1.3-1-4-1.4-5-0.5zM182 99.9l-4 0.8-2.5 1.3-0.1 1 0.6 1 0.9 1 2.1 1.3 4 1.3 5 0.4 4-0.5 1.3-0.5 0.6-1 0.1-1-1-2-2.4-2-3.6-1zM234 184l-3 0.8-2 0.9-1.8 1.3-0.8 1-0.4 1-0.1 2 0.9 2 1.2 1 4 0.6 5-0.5 3.4-1.1 1.6-1 0.8-1 0.4-1-0.3-2-1.2-2-1.1-1-2.6-1.2z"/>
<path fill="#0000bf" d="M8 94l85.9 0-2.1 1-2.6 2-1.3 2 0 1 1.2 1 2.9 0.9 6 0.6 4-0.4 3-0.9 2.5-1.2 2.3-2-0.1-1-1.1-1-2.1-1-3.3-1 145.8 0 0 43-2.4-1-3.6-1-3-0.5-3 0.1-1.3 0.4-1.7 1.5-0.9 1.5-0.2 2 0.9 2 1.2 1.2 3 1.7 3 1.1 2 0.4 2-0.1 2-0.7 2-1.3 0 81.7-81.2 0 2.6-2 1.7-2 0.5-2-0.3-1-1.3-1-3.1-1-3.9-0.6-3-0.2-4 0.5-3 0.9-2.8 1.4-2.4 2-0.7 1 0.3 1 0.6 0.6 2 1.4 2.3 1-145.3 0 0-47.2 5 0.7 3-0.5 2-1.6 1.1-1.4 0.8-2 0.1-1-0.8-2-1-1-3.2-2-4-1.2-3 0.4zM24 121l-3.3 1-1.7 1-0.9 1-0.3 1 0.1 2 1.1 2 1 1 1.9 1 3.1 0.2 5.3-1.2 2.5-1 1.6-1 1.7-2 0.4-1 0-2-0.5-1.1-1-1-4-0.7zM63 209l-6 0.7-1.1 0.3-1.1 1-0.6 2 0.4 2 1.4 2.4 2 1.6 2 0.9 2 0.3 6-0.1 5.4-1.1 2.3-1 1.2-1 0-1-0.9-2-2-2-1.5-1-2.3-1-2.2-0.5zM179 99.8l-3.7 1.2-1.1 1 0.2 1 1.5 2 3.2 2 2.9 0.9 2 0.4 6 0.1 2.8-0.4 1.2-0.5 0.7-0.5 0.5-1-0.4-2-0.8-1.4-1.6-1.6-1.8-1-1.6-0.5-3-0.4-3 0.1zM237 183l-3 0.4-3 0.8-3 1.3-1.9 1.5-0.7 1-0.5 2 0.3 2 1.2 2 1.6 0.8 2 0.4 5-0.1 5.5-1.1 2.3-1 1.2-1 0.6-1 0-2-1.6-3-1-1.1-2-1.3-1.9-0.6z"/>
<path fill="#0000c8" d="M8 94l83.9 0-2.9 2-1.8 2-0.4 1-0.1 1 0.3 0.4 0.5 0.6 3 1 4.5 0.7 3 0.2 4-0.4 3-0.8 3.5-1.7 2.4-2 0-1-0.9-1-4.5-2 143.5 0 0 42.1-3.4-1.1-4.6-1-3-0.2-2 0.3-1.6 0.9-1.4 1.6-0.7 1.4-0.2 2 0.8 2 1.1 1.1 2.9 1.9 3.1 1.3 4 0.8 3-0.7 2-1.1 0 80.7-79.4 0 2.2-2 1.5-2 0.6-2-0.2-1-1-1-2.7-1-4.9-1-4.1-0.2-3.1 0.2-3.9 1-4 2-2.4 2-0.7 1 0.2 1 1.9 1.8 2.3 1.2-143.3 0 0-46.5 4 0.7 2 0 2-0.4 2-1.4 1.3-1.4 1.2-2 0.3-2-0.7-2-0.9-1-3-2-2.2-1-3-0.8-3 0.3zM27 119.9l-6 1.1-2.6 1-1.4 1.2-0.6 1.8 0.4 2 1.2 2.2 2 1.8 2 0.7 1 0.1 5.5-0.8 5.4-2 2.4-2 0.7-1.3 0.4-1.7-0.3-2-1.1-1.4-1-0.5-2-0.3zM57 209l-2.7 1-0.8 1-0.5 2 0.8 3 1.2 2 1 1.1 2 1.3 4 0.8 7-0.5 3.5-0.7 3.1-1 1.7-1 0.8-1-0.5-2-1.5-2-2.1-1.8-2.3-1.2-3.3-1-3.4-0.4-4 0zM181 98.9l-5.1 1.1-2.1 1-0.7 1 0.3 1 1.6 2 3 2 4 1.3 6 0.6 6-0.6 0.9-0.3 1.1-1 0.3-1-0.1-1-0.8-2-1.4-1.9-2-1.5-2-0.8-2-0.3zM234 182.8l-4 1.2-2 0.8-1.8 1.2-1.2 1.3-0.8 1.7-0.1 2 0.6 2 1.3 1.8 2 0.8 2 0.3 5-0.1 6-1.1 2.3-0.7 1.8-1 0.8-1 0.3-2-1.3-3-1.9-2.3-2-1.5-2-0.7-2-0.1z"/>
<path fill="#0000d6" d="M8 94l82.3 0-2.3 1.9-1.8 2.1-0.5 1-0.1 1 0.6 1 2.5 1 2.3 0.5 3 0.5 4 0.2 3.3-0.2 3.7-0.9 2.7-1.1 3.2-2 1-1 0.1-1-1-1.1-3.8-1.9 141.8 0 0 41.4-8-1.9-3-0.3-2 0.2-2 1-1.4 1.6-1 2-0.2 2 0.7 2 1.9 1.8 2 1.2 4 1.8 4 0.9 3-0.6 2-0.9 0 79.8-77.8 0 2.6-3 1.1-2 0-2-0.7-1-2.2-1-4-1-7-0.7-4 0.4-3 0.8-3.4 1.5-3 2-1.8 2 0 1 1.2 1.4 2.6 1.6-141.6 0 0-45.9 5 0.7 2-0.1 2-0.7 2-1.6 1.2-1.4 1-2 0.4-2-0.6-1.8-0.9-1.2-3.1-2.2-5-2-2-0.3-2 0.3zM23 119.9l-4 0.9-2 0.7-0.8 0.5-0.9 1-0.3 1 0.3 2 1.4 3 1.9 2 1.4 0.8 2 0.5 2-0.1 6-1.2 4.8-2 1.4-1 1.4-2 0.5-2-0.2-2-0.9-1.6-1-0.6-2-0.5-3-0.1zM55 208.9l-2 1-0.7 1.1-0.3 1 0.1 2 0.9 2.9 1.2 2.1 1.8 1.8 2 0.9 2 0.3 3 0 9-1.3 2.9-0.7 2.5-1 1.3-1 0.5-1-0.7-2-2.5-3-3-2-2-0.8-4-0.8-4-0.3-4 0.2zM184 98l-7 1.1-2.9 0.9-1.6 1-0.4 1 0.5 1 1.6 2 1.2 1 1.6 1 3 1.3 3 0.6 3 0.3 4 0 4-0.4 2.3-0.8 0.7-0.9 0.3-1.1-0.1-1-0.8-2-1.4-2.3-1.9-1.7-1.1-0.6-2-0.5zM236 182l-4 0.8-3.4 1.2-2.6 1.4-1.7 1.6-0.9 2-0.1 2 0.5 2 1.2 2 1.8 1 2.2 0.4 6-0.1 8.3-1.3 2.8-1 1.2-1 0.5-1-0.2-2-1.6-3-2-2.5-1.9-1.5-2.1-0.9-2-0.3z"/>
<path fill="#0000df" d="M8 94l81 0-3.7 4-0.7 2 0.5 1 2.1 1 3.8 0.9 7 0.6 4-0.3 3-0.7 3.6-1.5 3.2-2 1-1 0.3-1-1.1-1.3-3.3-1.7 140.3 0 0 40.8-8-1.8-3-0.3-3 0.3-1.5 1-1.7 2-0.9 2-0.2 2 0.7 2 1.6 1.6 2 1.4 4.3 2 4.7 1.2 2.2-0.2 2.8-1 0 43.2-2.6-4.2-2.4-2.5-2.2-1.5-2.8-0.8-5.6 0.8-3.4 1-3 1.3-2 1.2-1.4 1.5-0.6 1-0.4 2 0.4 3 1 2 1 1 3 0.9 5 0.1 8-0.8 6-1.2 2-1 0 32-76.5 0 2.4-3 1.1-2 0.1-2-0.6-1-1.9-1-3.5-1-5.1-0.8-4-0.3-3 0.2-4 0.9-4.4 2-3 2-1.9 2-0.1 1 1.4 1.7 2.1 1.3-140.1 0 0-45.3 5 0.7 2-0.1 2-0.5 2-1.5 1.9-2.3 1-2 0.4-2-0.3-1.2-1.1-1.8-3.9-2.7-5-2-2-0.4-2 0.3zM27 118.9l-9 1.3-2.9 0.8-1.3 1-0.3 1 0 1 0.7 2 1.5 3 2.3 2.5 2 1 2 0.3 5.8-0.8 6-2 2.2-1.2 1.8-1.8 0.8-2 0.2-2-0.5-2-0.6-1-1.7-0.9-2-0.3zM57 208l-4.2 1-1.1 1-0.7 2 0.3 3 1.4 4 1.3 2.1 2 1.5 2 0.4 2 0.1 9-1.2 7.8-1.9 2.1-1 1.1-1 0.2-1-0.3-1-1.2-2-2.7-2.7-3-1.8-3-1-3-0.6-5-0.2zM124 144.9l-7.1 1.1-3.3 1-3 2-3.6 3.3-1.5 1.7-0.4 1-0.1 1.1 2.1 4.9 1.2 2 2.7 1.9 9.3 3.1 3.7 0.8 4 0.1 6.7-0.9 5.7-1 2.7-1 2.7-2 3.2-3 1.6-2 0.4-1-0.3-2-2.6-5-2.1-2.1-4.8-1.9-7.2-2.1-4-0.5zM188 97l-7 0.8-5.6 1.2-3.4 1.5-0.6 0.5-0.1 1 1.2 2 2.2 2 2.3 1.5 3 1.1 3 0.7 5 0.3 5-0.3 3-0.5 1.5-0.8 0.6-1 0.1-1-0.4-2-1.8-3.6-1.1-1.4-1.9-1.5-2-0.5z"/>
<path fill="#0000ed" d="M8 94l79.9 0-3.5 4-0.8 2 0.4 1 1.7 1 4 1 8.3 0.9 4-0.3 3-0.7 4.4-1.9 3.3-2 1-1 0.4-1-1.1-1.3-3-1.7 139 0 0 40.2-9-1.8-3-0.2-2 0.2-1.3 0.6-1.9 2-1.5 3-0.3 2 0.7 2 1.3 1.4 2.2 1.6 4 2 2.8 1 3 0.8 3-0.4 2-0.8 0 40.6-3.4-4.2-2.4-2-2.3-1-2.9-0.2-6.2 1.2-5.8 2.3-2 1.3-1.2 1.4-0.5 1-0.3 2 0.3 3 0.8 2 0.9 1.2 1 0.6 2 0.5 3 0.3 5-0.2 14-1.6 0 30.2-75.3 0 2.2-3 1.1-2 0.2-2-0.5-1-1.5-1-3.2-1-5.2-1-5.8-0.4-4 0.2-4 1.1-4.3 2.1-3 2-2 2-0.2 1 0.5 1 2.7 2-138.7 0 0-44.7 6 0.7 2-0.3 1.9-0.7 2.1-1.9 1.6-2.1 1-2 0.3-2-0.6-2-0.7-1-1.6-1.4-2.6-1.6-5.4-2.2-2-0.4-2 0.2zM22 118.9l-8.5 1.1-2.1 1-0.2 1 0.3 1 3.3 6 2.2 2.6 2 1.2 2 0.5 3-0.2 5-1.1 3.4-1 4.1-2 1.5-1.4 0.9-1.6 0.5-2-0.1-2-0.7-2-1.1-1-2.5-0.6-3-0.2zM54 208l-2.6 1-0.8 1-0.6 2 0.3 3 1.7 5.9 1 2.3 1 1 2 0.4 2-0.1 14-2.6 6.5-1.9 1.8-1 0.8-1-0.3-2-2.2-3-2.6-2.3-3-1.7-3.1-1-4.9-0.6-6 0zM127 142l-11 1.5-5.2 1.5-3.4 2-5.6 5-1.3 2-0.3 1 0.1 2 0.7 2 2.1 4 1.7 2 1.3 1 4.4 2 10.2 3 5.3 0.5 7-0.5 8-1.3 2.8-0.7 2.4-1 1.8-1 2.4-2 3.2-3 1.5-2 0.7-2 0-1-0.8-2.6-2.5-4.4-1.5-1.7-1.9-1.3-4.8-2-7.3-2.1-5-0.9zM190 95.9l-10 1.6-6.3 1.5-2.7 1.3-0.7 0.7 0.1 1 1.4 2 2.2 2 3 1.9 3 1.1 4 0.7 4 0.2 5-0.2 4.3-0.7 1.3-1 0.4-1 0.1-1-0.8-3-2.3-4.9-1-1.4-1-0.7-2-0.3z"/>
<path fill="#0000f6" d="M8 94l78.9 0-2.6 3-1.3 2-0.3 1 0.3 1 1.4 1 3.6 1 6 0.9 4 0.3 4-0.3 3.6-0.9 4.6-2 3.3-2 1.1-1 0.5-1-1.1-1.4-2.8-1.6 80.4 0-3.6 1.3-15 3.4-2.8 1.3-0.8 1 0.9 2 1.8 2 2.6 2 2.3 1.3 2 0.8 3 0.6 7 0.5 4.7-0.2 3.3-0.5 1.6-0.5 1-1 0.3-1-0.2-2-1.9-6-0.3-2 0.3-1 1-1 2.7-1 47.5 0 0 39.7-10-1.9-3-0.1-2 0.4-1.3 0.9-1.7 2.1-1.3 2.9-0.2 2 0.6 2 1.9 2 3 1.9 3 1.4 3 1.2 3 0.8 3-0.3 2-0.7 0 38.5-3.4-3.8-2.6-1.8-3-1-2 0.1-7 1.6-5.4 2.1-1.6 1-1.8 2-0.8 3 0.3 3 1.2 3 1.1 1.1 2 0.6 3 0.4 3 0 17-1.1 0 29-74.3 0 2.7-4 0.8-2 0-1-0.4-1-0.8-0.7-3.3-1.3-4.6-1-8.1-0.8-4 0.3-4 1-3.4 1.5-4.8 3-2.1 2-0.2 1 0.5 1.1 2.4 1.9-87.3 0 3.9-1.2 15.6-3.8 3.4-1.6 1.2-1.4-0.6-2-2.3-3-2.3-2.1-2.9-1.9-2.6-1-2.5-0.5-7-0.5-5 0.2-4 0.5-1.3 0.3-1.7 1.3-0.5 0.7-0.4 2 1.2 8 0.1 3-0.3 1-0.8 1-1.7 1-39.6 0 0-44.2 6 0.7 2-0.2 2-0.7 2-1.6 2-2.7 1.2-2.3 0.4-2-0.6-2-0.7-1-1.3-1.2-2.7-1.8-3.3-1.6-3-1.1-2-0.4-2 0.1 0-42.1 2 1.6 4.6 6.5 1.8 2 1.6 1.1 3 0.7 3-0.3 4-0.9 5-1.5 2.6-1.1 1.6-1 1.8-2 0.8-2 0.2-2-0.2-2-0.8-1.7-1-0.8-1.9-0.5-5.1-0.2-17 0.9-3-0.4-2-1-1-1zM123 141l-8 1.2-6 1.8-3.5 2-2.6 2-3.1 3-1.5 2-0.7 2 0.1 2 1.4 4 1.1 2 1.6 2 2.2 1.8 2 1.2 8.4 3 7.6 1.7 6 0.3 9-1 8-1.7 4.9-2.3 5.1-4.3 1.6-1.7 1.3-2 0.4-1 0.2-2-0.5-2-0.9-2-2.5-4-2.1-2-1.6-1-2-1-5.7-2-7.9-2-5.3-0.4z"/>
<path fill="#0000ff" d="M8 94l77.9 0-3.8 5-0.3 1 0.2 1 1 0.9 3.4 1.1 3.6 0.7 8 0.7 4-0.2 4-1 5-2.2 3.3-2 1.1-1 0.6-1-1-1.4-2.6-1.6 76.5 0-3.9 1.4-11.1 2.6-2.9 0.9-1.9 1.1-0.6 1 1.1 2 1.9 2 2.5 2 3 1.7 5 1.4 7 0.3 7.9-0.4 2.9-1 0.7-1 0.3-1-0.3-2-1.4-5-0.1-2 0.3-1 0.8-1 0.9-0.6 3.6-1.4 44.4 0 0 39.2-10-1.8-3-0.2-2 0.4-2 1.3-1.6 2.1-1.3 3-0.2 2 0.6 2 1.8 2 3.2 2 3.5 1.7 3 1.2 3 0.8 2 0.1 3-0.9 0 36.8-3-3.2-3-2-3-0.8-3 0.3-7.6 2-4.7 2-1.5 1-1.2 1.3-0.9 1.7-0.3 2 0.2 3 1 2.9 1 1.3 2 0.9 5 0.5 14-0.7 5 0.1 0 28-73.3 0 2.6-4 0.8-2 0.1-1-0.3-1-0.9-1-2.6-1-4.3-1-6.1-0.9-4-0.3-4 0.3-4 1-4.3 1.9-4.8 3-2.1 2-0.4 1 0.6 1.2 2.2 1.8-83 0 3.8-1.3 14.3-3.7 2.7-1.4 0.7-0.6 0.4-1-0.8-2-2.3-3-2.1-2-2.9-2-2.3-1-3.7-0.9-7-0.4-9 0.5-2.8 0.8-1.1 1-0.6 1-0.3 2 0.8 7-0.2 3-1.2 2-1.2 1-2.1 1-36.3 0 0-43.8 6 0.8 2-0.1 2-0.6 2-1.5 2-2.5 1.7-3.3 0.4-2-0.5-2-0.6-1-3.9-3-4.1-2.1-3-1.1-2-0.5-2 0.2 0-40.1 2.8 2.6 3.8 5 1.4 1.5 2 1.2 3 0.5 7-1.2 5-1.6 3.3-1.4 1.7-1.1 1.6-1.9 0.7-2 0.3-2-0.2-2-0.7-2-1.4-1-1.3-0.3-4-0.3-13 0.6-5-0.1-3-0.6-3-1.8-1-1.1zM123 139.9l-10 1.7-6 2.1-2.5 1.3-2.7 2-2.8 2.6-2 2.3-1 2.1-0.3 2 0.2 2 0.7 2 1.5 3 1.5 2 3.7 3 2.7 1.3 4.3 1.7 8.7 2.3 7 0.7 8-0.5 9.1-1.5 5.9-2 3.4-2 2.5-2 3-3 1.4-2 0.9-2 0.2-2-0.4-2-0.8-2-1.8-3-1.6-2-3.8-2.8-3-1.4-5.1-1.8-7.9-1.9-6-0.5z"/>
<path fill="#000cff" d="M8 94l77 0-3.7 5-0.3 1 0 1 0.9 1 3 1 5.1 1 8 0.7 4-0.2 4-1 3.7-1.5 5.3-3 1.3-1 0.6-1-0.4-1-1.2-1-1.8-1 73.4 0-3.9 1.4-12 3-1.5 0.6-1.5 1-0.3 1 1.2 2 2 2 3.1 2.4 2.9 1.6 5.1 1.3 7 0.4 9-0.5 1.1-0.2 1.8-1 0.5-1 0.1-1-1.3-6 0.1-3 0.6-1 1-1 4.1-1.7 1.1-0.3 41.9 0 0 38.7-11-1.9-3 0-2 0.5-1.9 1.7-1.1 1.7-1.4 3.3-0.3 2 0.6 2 1.8 2 3.1 2 4 2 6.2 2.2 2 0.1 3-0.8 0 35.2-3-3-3-1.9-3-0.6-3 0.4-8.6 2.4-4.5 2-1.4 1-1.5 1.9-0.5 1.1-0.3 2 0.3 3 0.8 3 0.7 1.2 1 0.8 1 0.4 2 0.5 3 0.1 14-0.5 6 0.3 0 27.2-72.3 0 2.5-4 0.9-2-0.1-2-0.8-1-2.3-1-4-1-6-1-5.9-0.5-5 0.4-3.8 1.1-4.3 2-4.8 3-2.2 2-0.5 1 0.6 1.3 2 1.7-79.5 0 17.3-5 2.2-1.2 0.8-0.8 0.2-1-0.9-2-2.5-3-3.3-3-2.3-1.4-2-0.9-3-0.8-8-0.5-9 0.4-2 0.3-2.1 0.9-0.9 1-0.6 2 0.6 8-0.7 3-1.7 2-3.9 2-33.7 0 0-43.3 6 0.8 2-0.1 2-0.4 2-1.5 2.1-2.5 1.8-3 0.8-3-0.4-2-0.7-1-3.8-3-6.8-3.4-3-0.8-2 0.1 0-38.3 2 1.7 4 5 2 2 2 1 3 0.4 8.1-1.7 4.9-1.6 3.1-1.4 1.9-1.5 1.2-1.5 0.7-2 0.2-3-0.3-2-0.8-1.7-2-0.9-4-0.4-12 0.5-5-0.1-4-0.8-3-1.6-2-2.1zM124 139l-7 0.9-4 0.8-4 1.1-2.9 1.2-4.9 3-3.2 2.8-2 2.2-1.2 2-0.6 2 0 2 0.4 2 1.3 3 1.2 2 1.7 2 2.5 2 6.1 3 6.1 2 4.3 1 7.2 0.8 8-0.3 9.8-1.5 6.3-2 3.8-2 2.8-2 2.3-2.1 2.4-2.9 1-2 0.5-2-0.1-2-0.6-2-1.2-2.6-1.6-2.4-2-2-2.7-2-6.7-3-7.1-2-7.9-1.1z"/>
<path fill="#0038ff" d="M8 94l73.9 0-4 6-0.3 1 0.2 1 1.2 0.8 4.7 1.2 6.8 1 8.5 0.7 4-0.3 4-1.1 5.3-2.3 5.6-3 2.5-2-0.2-1-1-1-1.7-1 63.6 0-14.2 4-1.9 1-0.6 1 0.4 1 1.8 2 4.6 4 2.8 1.9 2.2 1.1 2.8 0.8 3 0.5 9 0.3 10-0.3 1.5-0.3 1.4-1 0.5-1 0.1-1-1-5 0.1-3 1.2-2 1.2-1 4-1.7 4-0.9 3.5-0.4 31.5 0 0 37.1-12-2-3-0.1-2 0.3-1.2 0.7-1.8 2.5-2 4.5-0.6 3 0.4 2 1.6 2 2.9 2 3.7 2 6 2.9 3 1.1 2 0.3 3-0.5 0 29.6-3-2.6-3-1.3-2-0.2-5 1.1-11 3.6-3.9 2-1.1 1-1 1.5-0.5 1.5-0.2 2 0.2 4 0.5 3 0.9 2 1.5 1 1.6 0.4 3 0.3 16-0.3 4 0.5 3 0.7 0 24.4-68.9 0 2.8-5 0.8-2 0.1-1-0.2-1-1-1-2.9-1-5.2-1-8.5-1.2-6-0.5-5 0.5-3.9 1.2-4.2 2-6.9 4-2.7 2-0.8 1 0.1 1 0.7 1 1.3 1-68.2 0 14.6-4.4 1.2-0.6 1.1-1 0.3-1-0.4-1-2.3-3-4-4-2.9-2.4-2.9-1.6-3.1-0.9-3-0.5-9-0.3-11 0.4-2 0.3-1.5 1-1 2 0.2 7-0.7 3.5-0.9 1.5-1.1 1.2-2 1.3-2 1-5.4 1.5-24.6 0 0-41.6 5 0.9 3 0.2 2-0.2 2-0.8 2-2.1 2-3.1 2-3.7 0.8-2.6-0.3-2-0.6-1-0.9-1-2.6-2-9.4-5.1-3-1-2 0 0-32.8 5 5.7 2 1.7 3 1 4-0.5 11-3.1 4-1.5 2.6-1.4 1.4-1.2 1.1-1.8 0.7-3 0.3-4-0.2-2-0.5-1-1.4-0.9-1-0.3-4-0.3-11 0.3-5-0.2-4-0.8-2-0.8-1.7-1-1.9-2-1.3-3-0.2-3 1.4-7-0.3-1-2-1zM120 137l-6 0.9-4 1.1-8 3-3.6 2-2.7 2-2.1 2-1.5 2-1.1 2-1 3.2-0.1 2.8 0.6 3 1.5 2.7 1.9 2.3 2.1 2 3 2.1 3.4 1.9 4.6 1.9 7.7 2.1 10.3 1.2 10-0.3 6-0.8 4-1 4-1.2 4.5-1.9 3.7-2 2.9-2 2.1-2 1.8-2.3 1.4-2.7 0.7-3-0.1-3-0.5-2-1.5-3-1.6-2-3.4-2.9-3-2-7-3.2-4-1.3-5-1-4.1-0.6-5.9-0.4z"/>
<path fill="#0060ff" d="M15.6 94l63.6 0-4.7 7-0.2 1 0.4 1 2.3 1 2 0.3 13 1.7 7 0.6 5-0.4 4-1.2 14.5-7 1.4-1 0-1-1-1-1.7-1 55.1 0-11.6 3-2.6 1-1 1 0.2 1 0.8 1 7.9 6.5 4 2.7 2 0.8 3 0.8 6 0.6 15 0.1 5-0.3 1-0.3 0.9-0.9 0.3-2-1.1-5 0.2-3 0.4-1 1.3-1.4 3-1.7 5-1.3 7-0.6 7 0.2 12 1.2 3 0.1 1.8-0.5 0.4-1-0.3-1 2.1 0 0 35.7-14-2.3-3-0.1-2 0.4-1 0.8-1 1.7-2.6 6.8-0.8 3 0.3 2 1.1 1.6 1.6 1.4 3.3 2 13.1 6.7 2 0.6 3-0.4 0 24.6-2-1.7-1.4-0.8-1.6-0.5-2-0.1-4 1-13.5 4.6-4.3 2-2.2 1.8-1.1 2.2-0.3 3 0.4 9 0.8 2 1.2 0.7 2 0.5 3 0.2 12-0.5 5 0.2 4 0.6 4 1.3 0 22-66 0 4.3-8 0.1-1-0.3-1-1.1-1-3.9-1-7-1-11.1-1.4-5-0.3-4 0.3-4.5 1.4-15.2 8-2.7 2-0.1 1 0.6 1 1.2 1-58.2 0 11.9-3.4 1.5-0.6 1.4-1 0.4-1-0.4-1-1.7-2-8.2-7.7-4-2.8-2-0.8-3-0.8-6-0.5-15-0.2-6 0.3-1.7 0.5-1.1 1-0.6 2 0.3 7-0.6 3-1.2 2-1 1-3.1 1.9-5 1.6-7 0.9-7 0-9-0.8 0-38.7 6 1.2 3 0.3 2-0.1 2-0.6 2-2.3 4-7.4 1.4-3 0.2-2-0.7-2-0.9-1.1-2.4-1.9-12.6-7.4-2-0.7-2-0.1 0-27.7 5 5.8 2 1.1 2 0.3 5-1.1 13.6-4.2 4.8-2 1.4-1 1.2-1.3 1.1-2.7 1-8-0.1-2-0.7-1-1.3-0.5-4-0.4-11 0.4-6-0.3-5-1.2-3-1.8-1.2-1.2-1-2-0.3-3 1.1-4 2.7-5 0.3-1zM125 135l-5 0.2-4 0.5-8.7 2.3-5.2 2-4.4 2-3.4 2-3.3 2.9-2 2.9-1.4 3.2-0.8 4 0.1 3 0.6 2 1.1 2 1.7 2 3.4 3 4.3 3 3.7 2 3.3 1.4 4 1.3 5 1 6 0.7 7 0.5 6 0 5-0.4 4-0.7 4-1 5.2-1.8 4.8-2 5.5-3 2.6-2 1.8-2 1.7-3 1-3 0.5-3-0.1-3-0.5-2-1.5-2.7-2.2-2.3-2.4-2-4.4-3-3.6-2-3.4-1.5-4-1.3-5-1-5-0.6z"/>
<path fill="#0088ff" d="M19.8 95l1.1-1 55.9 0-1.1 2-4.6 6-0.3 1 0.4 1 4 1 24.8 2.4 4-0.3 3.9-1.1 17.9-8 1.8-1 0.2-1-0.9-1-1.9-1 46.7 0-12.3 3-1.8 1-0.2 1 2.3 2 12.3 9.2 3.8 1.8 4.2 0.8 25 0.9 2 0 2-0.5 1-1.1 0-2.1-1.4-5 0-3 1.2-2 1.1-1 3.1-1.5 3-0.7 4-0.5 8 0 9 1.2 11 2.5 0 28.4-5-0.7-11-2.1-3-0.2-2 0.5-1 1.1-0.4 1-1.3 5-2 6-0.3 2 0.2 1 0.8 1.4 3.1 2.6 16.9 9.5 2 0.9 3-0.2 0 19.4-3-2-3-0.3-21.2 7.7-4 2-1.9 2-0.7 2-0.1 8-0.4 6 0.1 1 0.6 1 2.6 0.9 4 0.1 12-0.7 5 0.2 6 1 4 1.9 0 19.4-0.1 0.2-63.2 0 1.5-3 3.7-6 0.2-1-0.1-1-1-1-5-0.9-26-2.8-5 0.4-4 1.3-20 10-1.6 1-0.3 1 0.6 1 1.3 1-48.4 0 11.4-3 1.8-1 0.6-1-0.4-1-1-1-7-5.9-5.6-5.1-2.4-1.8-3-1.4-5-1-27-1-3 0.3-1.5 0.9-0.5 0.9-0.2 2.1 0.6 6-0.3 3-0.8 2-0.8 1-2.5 2-2 1-3 1-6 0.9-8 0-8-1 0-35.6 7 1.6 4 0.5 2-0.1 2-0.8 1-1.5 2.5-6 3.1-6 0.8-3-0.6-2-0.8-1.1-2.4-1.9-14.6-9.3-2-1-2-0.1 0-22.4 2.8 3.8 1.2 1.2 2 1 2 0.1 3-0.8 21.7-7.5 3-2 1.3-2 2.6-13-0.1-1-0.5-0.5-2-0.7-3-0.1-11 0.6-5-0.1-5-0.7-4-1.6-1.1-0.9-1.5-2-0.6-2 0.2-2 0.6-2 1.1-2 1.4-2zM118 134l-5 0.8-4 1.2-5.7 2-7 3-3.8 2-2.5 1.8-2 2.2-1 1.7-1.7 4.3-0.9 4-0.2 3 0.4 2 1.1 2 2.7 3 3.8 3 4.8 3.3 3 1.8 4 1.8 3.6 1.1 3.4 0.7 15 1.4 7 0.2 5-0.2 5-0.9 4-1.1 10.4-4.1 4.2-2 3.4-2 2.3-2 1.5-2 1.3-3 1.2-5 0.3-4-0.6-2.8-1.3-2.2-2-2-3.8-3-4.5-3-3.4-2-4-1.8-3.7-1.2-3.3-0.7-6-0.7-9-0.7-7-0.2z"/>
<path fill="#00b0ff" d="M22.9 95l1.4-1 50.1 0-1.6 3-5.5 6-0.5 1 0.2 1.1 3 0.7 13 0.6 14 1.6 4 0.2 4-0.5 3-0.8 12-5.5 12.2-4.4 0.4-1-1.2-1-2.3-1 37.8 0-10.9 2.2-2.5 0.8-0.8 1 1 1 9.3 5.5 7 5.5 3 1.9 3 1.1 4 0.6 17 0.5 13 1.2 2.6-0.3 0.8-1-0.3-2-2.2-6-0.2-2 0.3-1.6 0.8-1.4 1.1-1 3.1-1.5 3-0.8 4-0.4 8 0.3 10 1.8 8 2.6 0 25.1-6-0.7-13-2.9-2-0.2-2 0.1-1 0.6-0.8 8-2.4 7-0.4 2 0.5 2 0.8 1 2.6 2 10.8 6 9.9 6.9 2 0.3 1-0.2 0 13.3-2-1.4-1-0.3-2 0.2-12 5.6-12.8 4.6-3.5 2-0.9 1-0.9 2-0.4 10-1.9 8 0.4 1.1 1 0.5 2 0.3 20-1.2 6 0.5 4 1.2 2 1.1 2 1.7 0 12.3-1.9 2.5-1.8 2-57 0 1.4-3 5.5-8 0.3-1-0.5-1.1-3-0.7-14-0.7-16-1.9-5-0.2-4 0.5-3 1-13 6.6-13.7 5.5-0.5 1 0.7 1 1.6 1-37.5 0 9.2-2 2.7-1 1-1-0.5-1-10-6.9-8-7.2-3-2.1-3-1.1-4-0.7-18-0.6-15-1.4-2 0.2-1 0.8-0.4 1 0.1 2 1.3 6 0 3-1 3-1 1.2-2 1.6-2.5 1.2-2.5 0.8-6 0.8-7-0.1-7-1.1 0-32.7 13 3.1 2 0 2-0.7 0.6-1.1 2-8 3.9-8 0.5-2-0.4-2-1.7-2-11-7-7.9-6.5-1-0.5-2 0 0-16.3 2 3.2 1 1 1 0.7 2 0.2 2-0.6 11-4.7 12-3.9 4-1.6 2-1.5 1.1-1.5 0.7-2 1.1-7 2.9-7 0-1-1.8-0.8-3-0.1-12 0.9-6 0.1-5-0.6-4-1.6-1.2-0.9-1.4-2-0.3-2 0.3-2 0.9-2 1.4-2zM116 132.9l-4 0.9-4 1.2-14.9 6-5 3-1.8 2-1.2 2-1.4 4-1.6 6-0.1 3 0.5 2 1.3 2 2.1 2 11.1 8.1 3 1.7 3 1.4 3 0.9 4 0.7 19 1.6 6 0.1 4-0.2 4-0.6 4-1.2 13.6-5.5 4.2-2 3.2-2 1.2-1 1.5-2 1.3-3.2 1.5-6.8 0.3-3-0.4-3-1.2-2-1.9-2-4-3-7.3-4.8-6-3.2-3.2-1-4.8-0.9-19-1.4-6-0.1z"/>
<path fill="#00dcfe" d="M25.6 95l1.6-1 45 0-0.9 2-2.5 3-7.8 6.6-3 2-4 0.9-11 1.6-11 1-5-0.3-4-0.9-3-1.6-1.1-1.3-0.4-1-0.2-2 1.1-3 2.4-3zM134 94l27.3 0-17.3 2.2-4-0.5zM135.3 98l3.7-0.6 4-0.2 2 0.3 6 1.9 5 2.1 4 2.2 4 2.6 7 5.6 4 1.7 5 0.7 17 0.5 11 1.4 9 2.4 2 1 2 2.4 1.6 4 0.5 4-0.7 4-2.3 6-0.1 2 0.3 1 0.7 1.1 2.4 1.9 10.6 5.7 5.8 4.3 3 3 1.6 2 1.2 2 0.3 2-0.4 1-2.9 3-5.7 4-6.9 3.3-13.2 4.7-3.1 2-0.7 1-0.7 2 0.1 8-0.8 4-1.3 3-1.3 2.3-3 3.5-2 1.7-3 1-6 0.9-6 0.5-11-0.2-18-2.1-3-0.2-3 0.3-5 1.5-11 5.8-8 3.2-9 2.4-6 1-3 0.1-2-0.2-6-1.9-8-3.8-6-4-8.6-7.8-1.6-1-2.3-1-5.5-0.9-15-0.3-10-1-10-2.2-4-1.3-2.1-1.3-1.5-2-0.8-2-0.5-3 0-3 0.3-2 0.9-3 4-8 0.3-2-0.2-1-1.7-2-10.7-6.7-5-4.3-2.4-3-1.2-2-0.7-2-0.1-1 1-2 3.7-3 7-4 6.7-2.8 13-4.2 3-1.7 1.2-1.3 0.4-1 1.3-8 1.6-4 3.5-4.6 3-2.7 2-1.1 7-1.2 11-0.5 9 0.4 13 1.6 5-0.1 5-1.4 9-4.3 6-2.3 5-1.5zM115 131.9l-7 1.9-17.8 7.2-2.2 1.2-2.4 1.8-2 3-3.6 12-0.2 2 0.4 2 1.2 2 2.1 2 13.5 9.8 5 2.5 3 0.9 4 0.7 23 1.7 8-0.1 3-0.5 4-1.2 16.6-6.8 5.9-3 1.5-1.3 1.4-1.7 1.2-3 2-10 0.2-3-0.6-2-1.5-2-2.3-2-12.4-8.3-3-1.8-3-1.3-6-1.3-23-1.7-5-0.1zM219.3 99l2.7-0.4 4-0.2 7 0.5 8 1.7 8 3 0 22.3-6-0.7-7-1.6-13-3.9-3-1.5-2-2.5-3.5-5.7-1.3-3-0.4-2 0.4-2 1.5-2 1.6-1zM8 143l1.3 4-0.1 1-1.2 1.7zM248.6 165l0.4-0.9 0 2.5zM8 191l0-1 8 2.3 10.7 3.7 1.9 1 1.1 1 1.3 2.4 2.4 5.6 1.3 5 0.1 2-0.5 2-1.2 2-1.1 1-1.5 1-2.5 1.1-6 1.1-7-0.1-7-1.1zM230.9 206l6.1 0.1 5 1.1 3.7 1.8 1.1 1 1.2 1.7 0.6 1.3 0.3 2-0.3 2-0.7 2-2.6 4-3.1 3-51.4 0 1.3-3 2.2-3 4.7-5 5-4.6 2-0.8 6-1.2 11-1.7zM101.9 225l5.1-0.7 4-0.2 3 0.4 4.8 1.5-23.7 0z"/>
<path fill="#19ffde" d="M28.1 95l1.7-1 40.1 0-0.3 1-1.1 2-2.5 2.5-4 3.1-5 2.8-5 1.7-6 1.4-7 1.1-6 0.4-4-0.2-4.1-0.8-2.9-1.6-1.1-1.4-0.4-1 0.1-2 1.5-3 2.9-2.9zM142 94l10.5 0-5.5 0.2zM136.6 99l4.4-0.1 5 0.5 4 0.9 4 1.4 4 1.8 3 1.7 3 2.2 6 5 2 1.1 2 0.8 5 0.7 17 0.3 9 1.2 5 1.3 5 2 3 2.1 1.8 2.1 1.5 3 0.4 2 0 2-0.5 3-2.7 7 0.1 2 1.4 1.8 1.6 1.2 10.4 5.5 3.8 2.5 2.4 2 2.6 3 1.2 2 0.6 2-0.1 2-0.8 2-1.6 2-2.3 2-3 2-6.8 3.2-12 4.1-2 0.9-2 1.6-1 2.2 0.2 8-0.7 4-1.9 4-2.6 3-3 2.2-4 1.8-5 1.2-6 0.7-10 0.1-6-0.6-13-1.8-3-0.1-3 0.4-4 1.3-11 5.9-8 3.1-5 1.3-4 0.7-4 0.5-4 0-4-0.5-4-0.9-5-1.8-4-1.9-6-4.1-8-7.5-3-1.6-5-1-16-0.2-10-1.1-4-0.8-5-1.6-3.7-1.7-2.6-2-1.6-2-0.9-2-0.5-2-0.1-3 0.6-3 0.8-2 3.8-7 0.5-2-0.2-1-1.1-1.6-1.8-1.4-7.2-4.1-4.2-2.9-2.2-2-1.7-2-1.7-3-0.5-3 0.6-2 2.2-3 4-3 5.5-2.8 6-2.3 9.8-2.9 4.2-2 1.1-1 1-2 0.7-7 1.5-4 1.7-2.4 2-2.1 3-2.1 2-1 3-1.1 4-0.9 9-0.8 9 0.2 15 1.9 5-0.2 4-1.2 9-4.5 6-2.3 7-1.8zM114 130.9l-6 1.8-20.6 8.3-2.4 1.4-1.8 1.6-1.5 3-3.7 13-0.2 2 0.6 2 0.7 1 2.1 2 15.8 11.4 3 1.6 2 0.7 5 1 27 2 7-0.1 3-0.5 4-1.4 18.5-7.7 4.5-2.2 2-1.6 1-1.2 1.1-3 2.5-12 0.2-2-0.4-2-1.4-2-2.4-2-14.6-9.8-5-2.5-6-1.3-26-1.8-4-0.1zM221 100l6-0.6 8 0.9 7 1.8 7 2.9 0 19.7-7-0.8-9-2.4-7-2.8-2.9-1.7-2.1-1.7-2.3-2.3-2.1-3-1.4-3-0.2-2 0.7-2 0.8-1 1.5-1zM8 192l0-0.7 3 0.8 9 3.4 4.5 2.5 3.3 3 2.7 4 1.3 3 0.6 2 0.1 2-0.4 2-1.1 2-1 0.9-1.6 1.1-2.4 1-5 0.9-6-0.1-7-1.1zM223 208l8-0.7 6 0.3 2.1 0.4 2.8 1 2.9 2 0.7 1 0.9 2 0.1 2-0.4 2-1 2-1.4 2-1.9 2-2.5 2-46 0 1.2-3 2.2-3 4.3-3.9 4-2.8 3-1.5 4-1.4 5-1.3z"/>
<path fill="#39ffbe" d="M30.5 95l1.9-1 35.1 0-0.6 2-2.5 3-4.2 3-4.2 2.2-5 1.9-5 1.3-6 1-6 0.5-4-0.2-3.2-0.7-2.1-1-1.2-1-0.6-1-0.1-2 0.2-1 1.2-2 2.8-2.7zM134.8 100l5.2-0.2 5 0.4 5 1 4 1.3 4 1.9 3 1.8 9 7.4 2 1 2 0.6 4 0.4 12 0 6 0.3 6 0.8 6 1.4 4 1.5 2.6 1.4 2.6 2 1.6 2 1.4 3 0.4 3-0.9 4-2.7 6 0 2 0.4 1 2.3 2 11.7 6 3 2 2.3 2 1.8 2 1.7 3 0.5 2-0.2 2-0.8 2-1.5 2-2.2 2-3 2-7 3.2-11.8 3.8-2.1 1-1.3 1-0.8 1-0.5 2 0.6 7-0.5 4-1.9 4-2.7 3-4 2.7-4 1.6-5 1.2-6 0.8-10-0.1-17-2.4-3-0.2-3 0.2-4 1.3-11 6.1-8 3.1-4 1.1-5 0.8-4 0.3-4 0-5-0.6-4-1-4-1.4-4-2-5.2-3.5-7.8-7.7-3-1.7-2-0.6-3-0.4-16 0-10-1.1-5-1.2-4-1.4-3.6-1.9-2.4-2-1.6-2-0.9-2-0.5-2 0-3 1.2-4 4.5-8 0.1-2-0.8-1.4-1.9-1.6-8.1-4.5-3.7-2.5-2.3-2-1.6-2-1.5-3-0.3-3 1.2-3 1.6-2 3.9-3 4.7-2.5 6-2.2 11.2-3.3 2.3-1 1.4-1 1.3-2 0.7-8 0.6-2 1.1-2 1.5-2 2.1-2 2.8-1.8 3-1.4 4-1.3 4-0.7 8-0.6 8 0.3 14 1.9 5-0.1 4-1.1 9-4.6 5-2 6-1.7zM113 130l-4 1.2-10 4.2-14.3 5.6-2.8 2-0.9 1.2-0.7 1.8-1.7 7-2.7 8 0 2 0.3 1 0.6 1 2.2 2 8.8 6 9.2 7 4 1.8 5 0.9 15 0.8 15 1.3 6-0.1 5-1.3 13-5.8 9.3-3.6 4.1-2 2.1-2 1-2 1.2-8 1.8-7 0.2-2-0.7-2-0.8-1-2.4-2-8.8-5.5-8-5.7-4-2.1-2.7-0.7-3.3-0.5-15-0.8-14-1.2-4 0.1zM222.8 101l3.2-0.4 3 0 7 0.9 7 2.1 6 2.8 0 17-6-0.4-7.8-2-7.2-3-5-3.2-2.9-2.8-1.4-2-1.1-2-0.4-2 0.5-2 0.7-1 1.6-1.1zM8 193l0-0.3 4 1.1 6 2.5 4.5 2.7 3.5 3.1 2.7 3.9 1.4 4-0.2 3-0.9 1.8-1 1-3 1.7-5 1-6-0.1-6-1.1zM224.8 209l7.2-0.4 5 0.5 4 1.6 1.6 1.3 0.8 1 0.4 1 0.3 2-0.8 3-1.2 2-1.7 2-3.8 3-40.7 0 0.5-2 1.9-3 3.1-3 4.6-3.2 4-2 4-1.4 5.2-1.4z"/>
<path fill="#5aff9d" d="M33 95l2.1-1 29.8 0 0 1-0.9 2-2 2.1-4 2.7-4 1.9-4 1.5-5 1.3-5 0.8-5 0.4-3-0.1-3.2-0.6-2.1-1-1.1-1-0.4-1 0-2 1.1-2 3.3-3zM132.3 101l4.7-0.5 5 0.1 5 0.7 4 1 4 1.4 4.4 2.3 3.6 2.6 5.8 5.4 3.2 1.6 5 0.7 16 0 9 1 5 1.3 5 2 3 2 2.4 2.4 1.6 3 0.4 2 0 2-0.8 3-3 6-0.3 2 0.3 1 2.2 2 11.2 5.5 5.2 3.5 2.1 2 2 3 0.7 2 0.1 2-0.5 2-1.2 2-1.8 2-3.6 2.6-3 1.6-4 1.6-13 4-2.2 1.2-0.8 0.8-0.7 1.2-0.2 1 0.8 7-0.3 4-0.6 2-1.1 2-2.6 3-3.3 2.4-4 1.9-5 1.4-6 0.8-5 0.2-5-0.2-6-0.7-12-2-3-0.2-3 0.3-4 1.5-11 6.4-6 2.4-4 1.1-5 0.9-5 0.4-4 0-5-0.7-4-1-4-1.4-4-2-5-3.5-7-7.4-3-1.9-2-0.5-3-0.4-16 0.2-5-0.4-5-0.7-5-1.2-4-1.5-3.9-2.2-2.2-2-1.5-2-0.8-2-0.4-2 0.1-3 1.5-4 4.4-7 0.4-2-0.6-1.3-1.9-1.7-11-6-3.1-2.4-2.3-2.6-1.4-3-0.1-3 1.2-3 1.6-2 3.9-3 5.1-2.6 6-2.1 10-2.7 2-0.7 2-1.2 1-1 0.7-1.7 0.1-7 0.5-2 0.9-2 1.4-2 2.4-2.3 3-2 3-1.4 7-1.8 9-0.8 8 0.5 14 2 4 0 4-1.1 9-4.8 4-1.7 5-1.6zM113 128.9l-4 1.2-12 5.3-14 5.1-2.4 1.5-0.9 1-0.9 2-1.6 8-3.1 8-0.3 2 0.2 1 0.6 1 2.1 2 10.3 6.7 9 7.2 4 1.9 4 0.7 17 0.8 16 1.6 5 0 5-1.2 13-6.1 12.3-4.6 2.7-1.3 2.1-1.7 0.6-1 0.6-2 0.5-6 0.5-3 2.2-7 0.1-2-0.4-1-1.8-2-11.4-7-9-6.7-4-1.8-4-0.7-16-0.7-16-1.5-3-0.1zM225 102l6-0.2 6 1 6.7 2.2 5.3 2.9 0 14.1-3 0.1-3-0.3-7-1.7-7-3.1-4.6-3-2.1-2-1.6-2-0.9-2-0.3-2 0.3-1 1.2-1.4 2-1.1zM8 195l0-0.9 4 1.2 4 1.7 5 3 3.3 3 2.6 4 0.9 3-0.2 2-0.4 1-1.2 1.5-3 1.7-4 0.9-5-0.1-6-1.1zM227.7 210l5.3 0.1 4 0.8 3 1.8 1.1 1.3 0.4 1 0.1 1-0.2 2-1.4 2.6-2.2 2.4-4.1 3-35 0 0.3-2 1.9-3 3.2-3 3.9-2.5 4-1.9 5-1.7 5-1.2z"/>
<path fill="#7dff7a" d="M35.7 95l2.4-1 23.9 0 0.3 1-0.7 2-2 2-2.9 2-3.7 1.8-4 1.5-4 1.1-5 0.8-4 0.3-4-0.4-2-0.6-1-0.5-1-1-0.4-1 0.4-2 1.5-2 2.5-2zM130 102l5-0.7 5-0.1 5 0.4 5 1.1 5 1.8 4 2.1 3.2 2.4 5.8 5.7 3 1.7 2 0.4 3 0.3 11-0.4 6 0.1 9 1.2 5 1.4 4 1.7 3 1.9 2.8 3 1.3 3 0.2 2-0.2 2-1.1 3-3.3 6-0.2 1 0.3 1 0.7 1 1.3 1 11.2 5.2 3.2 1.8 2.7 2 2.1 2 1.5 2 1.1 3 0.1 2-1.1 3-1.5 2-2.2 2-2.9 1.8-7 3-11.7 3.2-2.4 1-1.4 1-0.7 1-0.3 2 1.2 6 0 4-0.5 2-1 2-2.4 3-3.8 2.8-4 1.8-5 1.4-6 0.9-5 0.1-5-0.2-6-0.8-12-2.2-5 0-4 1.4-10 6.2-7 3.1-8 1.8-4 0.4-5 0.1-4-0.4-5-1-4-1.4-4-1.8-3-2-2.7-2.2-6.3-7.2-2-1.5-2-0.8-5-0.6-16 0.4-8-0.7-5-1.1-4.2-1.5-3.8-2-2.5-2-1.6-2-1-2-0.5-2 0.1-3 1.5-4 4.8-7 0.6-2-0.2-1-0.7-1-1.3-1-9.2-4.6-3-1.8-3-2.3-2-2.3-1.4-3-0.1-3 1.3-3 1.6-2 4-3 4.6-2.3 6-2 10.5-2.7 2.8-1 1.5-1 0.8-1 0.4-1-0.2-7 0.3-2 0.9-2.4 1.8-2.6 2.2-2 2-1.3 3-1.5 3-1.1 4-0.9 4-0.6 5-0.3 9 0.5 14 2.3 4-0.1 4-1.3 7-4.1 4-1.9 4-1.5zM112 127.9l-4 1.4-11 5.2-14 4.7-1.9 0.8-2.1 1.3-1 1-0.8 1.7-0.6 6-1 4-3.7 8-0.1 2 1.3 2 12.6 8 10.3 8.6 3 1.3 3 0.5 18 0.6 18 2 5 0 2-0.4 3-1 8.9-4.6 5.1-2.3 13.4-4.7 2.6-1.5 1.4-1.5 0.5-2 0.3-8 1.1-4 2-5 0.3-2-0.2-1-1.7-2-12.7-7.4-10-7.8-3-1.3-4-0.6-17-0.5-18-1.9zM229 103l5 0.3 6 1.5 5.1 2.2 3.9 2.5 0 10.8-2 0.3-3 0-3.7-0.6-3.3-0.9-3-1.1-4-1.9-4.4-3.1-1.9-2-1.3-2-0.5-2 0.2-1 0.7-1 1.4-1 1.8-0.6zM8 196l0-0.4 2 0.5 5 2.1 4 2.4 2.7 2.4 2.3 3 1.1 3 0 2-1.1 2-1.2 1-1.8 0.8-3 0.7-5 0-5-1zM222.6 212l5.4-0.6 4 0.2 3 0.7 1.5 0.7 1.3 1 1.1 2 0 1-0.5 2-2.1 3-2.4 2-3.4 2-28.7 0 0-2 1-2 1.7-2 2.6-2 3.3-2 3.6-1.6 4.2-1.4z"/>
<path fill="#9dff5a" d="M38.8 95l3-1 16.5 0 0.8 1 0.1 1-0.4 1-1.9 2-3.1 2-2.8 1.3-4 1.3-4 0.9-4 0.6-3 0-2-0.3-2.2-0.8-1-1-0.3-1 0.2-1 0.5-1 2-2 2.8-1.7zM134.3 102l5.7-0.2 5 0.5 5 1.1 4 1.3 3 1.5 3 2 3.1 2.8 3.9 4.4 3 1.8 2 0.5 3 0.2 16-0.6 9 0.9 5 1.2 4.1 1.6 3.4 2 3 3 1.5 3 0.3 2-0.2 2-1.2 3-3.9 6-0.3 1 0.3 1.5 1.5 1.5 12.5 5.5 2.8 1.5 2.8 2 2.2 2 1.4 2 1.1 3 0.1 2-0.6 2-1.8 2.7-2.6 2.3-2.4 1.5-3.2 1.5-3.8 1.4-13.8 3.6-2 1-1 1-0.4 2 1.7 7 0 4-0.5 2-1.1 2-2.6 3-3.3 2.3-5 2.1-5 1.3-6 0.6-9-0.2-6-1-12-2.4-3-0.2-2 0.3-3 1.1-9.1 6.1-3.7 2-3.2 1.3-4 1.3-5 1-5 0.4-4 0-5-0.6-4-0.8-4-1.4-4-2-4.4-3.2-2.7-3-3.9-5.1-1-0.9-2-1.2-2-0.6-3-0.2-16 0.7-5-0.2-4.3-0.5-4.7-1-5-1.8-3.7-2.2-2.2-2-1.5-2-0.8-2-0.3-2 0.3-3 1.9-4 5.3-7 0.4-1-0.1-1-0.6-1-1.2-1-9.5-4.4-4-2.2-3-2.4-1.7-2-1.4-3-0.1-3 1.3-3 1.7-2 4.1-3 5.1-2.4 6-1.8 11-2.6 3-1.3 1-0.9 0.5-1 0-2-0.7-6 0.3-2 0.8-2 1.3-2 1.9-2 2.9-2 3-1.4 4-1.3 4-0.9 4-0.4 5-0.2 8 0.7 13 2.5 4 0 2-0.4 2-0.8 7.7-4.8 5.3-2.5 6-1.7zM111 126.9l-3 1.2-7.3 3.9-4.5 2-6.2 2.2-9.6 2.8-2.4 1-1.4 1-1 2-0.2 6-0.8 4-1.2 3-2.9 5-0.9 2-0.1 1 0.3 1 0.8 1 3 2 6.4 3.4 4.1 2.6 3.7 3 5.2 5.2 2 1.6 2.8 1.2 3.2 0.5 19 0.2 7 0.7 12 1.8 5 0 4-1.2 8.9-5 5.1-2.4 16.6-5.6 1.7-1 0.9-1 0.5-2-0.4-6 0.2-3 1.2-4 2.8-6 0.2-2-0.5-1-2.5-2-8.7-4.4-4.3-2.6-3.9-3-5.8-5.2-3-1.3-3-0.5-19-0.3-19-2.3-3 0.1zM227.2 105l3.8-0.5 4 0.3 4.6 1.2 4.6 2 3 2 1.8 1.8 0 6.3-3 0.9-5-0.3-5-1.3-5-2.4-4-3-2.1-3-0.2-1 0.3-1.3 0.5-0.7zM8 198l0-0.8 5 1.8 3.5 2 3.4 3 1.5 2 0.8 2 0 2-1.2 2-2 1.2-3 0.6-4-0.1-4-0.9zM220.3 214l4.7-0.8 4-0.1 4 0.8 1.7 1.1 0.8 1 0.3 1-0.3 2-1.2 2-2.1 2-3.2 2-2.2 1-21.3 0-0.5-1 0.3-2 1.3-2 1.4-1.3 2.3-1.7 3.7-1.9z"/>
<path fill="#beff39" d="M43.3 95l4.7-0.8 4 0 2.6 0.8 0.9 1-0.1 1-0.7 1-2.6 2-4.7 2-5.4 1.2-5 0-1.1-0.2-1.5-1-0.3-1 0.3-1 0.8-1 2.8-2zM131.1 103l5.9-0.6 5 0.1 6 1 5 1.5 4 2 2.8 2 2.9 3 3.3 4.2 1 0.9 2 1.2 2 0.4 3 0.1 10-0.8 6-0.2 5 0.2 4 0.6 5 1.2 4 1.5 4 2.4 2.3 2.3 1.6 3 0.3 2-0.2 2-1.3 3-5 7-0.2 1 0.4 1 1.1 1 1.9 1 12.1 4.8 5.4 3.2 2.1 2 1.5 2 0.9 2 0.2 3-1.1 3-1.6 2-2.5 2-2.9 1.7-7 2.6-13 2.9-2.3 0.8-1.3 1-0.5 1 0 1 2.3 7 0.3 4-0.3 2-0.9 2-2.3 3-4 2.8-4 1.8-6 1.5-6 0.6-5 0-5-0.5-6-1.2-10-2.4-3-0.4-2 0.1-3 1-9.1 6.7-3.4 2-3.5 1.6-4 1.3-5 1-4 0.4-5 0-5-0.6-4-0.9-4-1.5-4-2-4.1-3.3-2.5-3-3.4-5.2-1-1.1-2-1.2-4-0.5-16 1.1-5-0.1-5-0.5-5-1-4-1.3-4-2.2-2.5-2-1.6-2-0.9-2-0.4-2 0.3-3 0.8-2 1.2-2 6-7 0.6-1 0.2-1-0.5-1-1.1-1-13.1-5.7-3.5-2.3-2.2-2-1.9-3-0.5-3 0.9-3 2.3-3 4.2-3 4.7-2.1 6-1.8 12-2.5 2-0.6 1.6-1 0.6-1 0.1-1-1.4-7 0.1-2 0.5-2 1.5-2.6 2-2 3-2.1 3-1.4 4-1.2 4-0.8 4-0.4 5-0.1 8 0.9 13 2.7 4 0.1 2-0.6 2-1 6.4-4.5 3.7-2 4.9-1.8zM110 125.8l-2 0.9-7.2 4.3-5.8 2.7-6 2-11 2.9-3.2 1.4-0.8 1-0.4 1 0.4 7-0.7 4-1.3 3.1-4 5.9-0.9 2 0 1 0.7 1 1.2 1 10 4.9 6 4 2.3 2.1 4.7 5.4 2 1.8 2 0.9 3 0.5 14-0.3 7 0.1 8 0.9 12 2.2 3 0.3 2-0.2 3-1 9-5.6 5-2.5 6-2.2 11.9-3.3 2.2-1 1.1-1 0.6-2-1-6 0-4 1.2-4 4-7 0.1-1-0.2-1-0.9-1-1.6-1-9.4-4.3-5-2.9-3.6-2.8-6.4-6.3-2-1.1-3-0.6-19 0.2-8-0.7-13-2.2-3-0.1zM229.2 107l1.8-0.6 3-0.1 3.8 0.7 2.8 1 2.4 1.2 2.4 1.8 1.6 2 0.3 2-0.6 1-0.7 0.5-1.5 0.5-1.5 0.1-4-0.5-4-1.4-3.9-2.2-2.1-2-0.9-2 0.2-1zM8 200l0-0.7 4 1.4 2.3 1.3 2.4 2 1.3 1.7 0.6 1.3 0.1 2-0.6 1-1.3 1-2.8 0.7-3-0.2-3-0.7zM219.6 216l3.4-0.7 3-0.2 2 0.1 2.5 0.8 1.1 1 0.4 1 0 1-1 1.7-1.2 1.3-3.1 2-5.6 2-9.9 0-1.6-1-0.5-1 0-1 0.4-1 1.8-2 3.1-2z"/>
<path fill="#deff19" d="M43.9 97l4.1-0.4 1.4 0.4 0.2 1-1 1-2.1 1-3.5 0.8-2-0.1-1.2-0.7 0.3-1 1.3-1zM137 103l5 0.1 5 0.8 4.1 1.1 4.5 2 2.4 1.6 2 1.7 2.3 2.7 3.2 5 1.2 1 1.3 0.6 4 0.3 10-1.2 6-0.3 5 0 5 0.6 5 1.1 4.8 1.9 3.2 2 2.8 3 1.2 3 0.1 2-0.5 2-1.7 3-5.4 6-0.5 1-0.1 1 0.9 1 2 1 12.2 4.2 3.9 1.8 3.1 2 2.3 2 1.5 2 0.9 2 0.2 3-1.2 3-1.7 2-2.6 2-3.4 1.8-7 2.3-14 2.6-3 1.3-0.5 1 0 1 3.1 7 0.8 4-0.1 2-0.7 2-1.2 2-1.9 2-3.5 2.4-5 2-5 1.2-6 0.5-5-0.1-5-0.7-6.2-1.3-9.8-2.8-3-0.5-2 0.1-3 1.3-6.8 5.9-2.8 2-5.4 2.8-4 1.3-5 1.1-4 0.4-5 0-5-0.7-4-0.9-4-1.5-4-2.3-4-3.6-1.9-2.6-3.1-5.8-1-1.2-1.8-1-2.2-0.3-2 0-11 1.3-6 0.5-5-0.1-4-0.4-5.2-1-4.8-1.7-3.9-2.3-2.1-2-1.3-2-0.8-2-0.2-2 0.7-3 1-2 1.6-2.1 6.9-6.9 0.5-1 0-1-1-1-2.1-1-8.3-2.9-4.9-2.1-3.2-2-2.3-2-2-3-0.5-3 0.9-3 2.4-3 4.4-3 5.2-2.1 7-1.8 12-2 2.7-1.1 0.7-1 0.1-1-2.4-7-0.1-3 0.6-2 1.1-2 2.3-2.4 2.4-1.6 3.6-1.7 4-1.2 4-0.8 4-0.3 5 0 7.8 1 12.2 3.1 4 0.5 3-1 7.3-5.6 5.4-3 6.3-2 4-0.7zM111 123.8l-3 1.3-5.6 3.9-3.4 2-5 2.3-6 1.9-12.8 2.8-2.7 1-1 1-0.2 1 1.4 7-0.1 3-0.5 2-2.1 4-5 6-1 2 0.4 1 1.2 1 11.4 4.9 6 3.7 3.7 3.4 4.3 6 2 2 2 0.8 2 0.2 15-1 9 0.2 8 1.1 13 2.9 3 0.2 3-0.9 9.2-6.5 5.8-3 7-2.4 13-3 1.6-0.6 1.3-1 0.4-1-0.1-1-2.1-7 0-4 0.8-3 1-2 5-7 0.1-1-0.6-1-1.6-1-10.8-4.3-6-3.3-4.2-3.4-5.8-6.8-2-1.1-3-0.4-13 0.9-9-0.2-8-1-12-2.5-2-0.3zM233.4 110l0.6-0.6 1-0.3 2 0.2 2 0.6 2 1.1 1 1 0.3 1-0.3 0.5-1 0.6-3-0.3-2.1-0.8-1.4-1-0.9-1zM8 203l0-0.5 1 0.2 3 1.6 1.3 1.7 0 1-0.3 0.5-0.6 0.5-1.4 0.3-3-0.6zM219.1 219l2.9-0.7 2 0 1.7 0.7 0.3 1-0.6 1-1.3 1-2.1 1-3 0.5-2 0-1.3-0.5-0.4-1 0.5-1 1.2-1z"/>
<path fill="#feed00" d="M132.2 104l5.8-0.4 6 0.4 5 1 5.1 2 3.2 2 3 3 1.8 3 2 5 0.9 1.2 1 0.5 3-0.1 9-1.6 7-0.9 5-0.2 5 0.3 6 1 5 1.8 3.6 2 3 3 1 2 0.4 2-0.2 2-0.8 2-3 3.7-7.3 6.3 0 1 2.1 1 14.2 3.8 4 1.6 3.1 1.6 2.9 2 2.6 3 0.9 2 0.2 3-1.3 3-1.8 2-2.7 2-3.9 1.8-3.6 1.2-4.4 1-16.4 2-2 1 0.1 1 0.6 1 4.6 7 1.3 4 0 2-0.4 2-1 2-1.6 2-4.2 3-5 1.9-6 1.2-6 0.3-5.8-0.4-5.3-1-6.8-2-9.1-3.4-3-0.5-1 0.3-1 0.7-5.1 5.9-3.3 3-2.8 2-2.8 1.5-4 1.6-5 1.2-5 0.6-5-0.1-5-0.6-4.6-1.2-4.4-1.9-3.2-2.1-2.2-2-2.1-3-1.4-3-2-6-1.1-1.2-1-0.3-2 0.2-11 2-6 0.8-5 0.3-5-0.1-5.1-0.7-4.9-1.4-4-1.8-3.6-2.8-1.5-2-0.9-3 0-2 1-2.9 1.4-2.1 2.6-2.8 8-6.2 0.9-1-0.2-1-2.6-1-9.1-2.4-5-1.7-4.1-1.9-3.9-2.9-2.2-3.1-0.5-3 0.9-3 2.5-3 4.7-3 6.6-2.3 8-1.5 12-1.3 2.8-0.9 0.1-1-0.4-1-2.5-4-1.4-3-0.5-2 0-2 1.1-3 1.5-2 2.5-2 3.9-2 3.9-1.3 4-0.8 5-0.4 5 0.1 8.4 1.4 13.6 4.5 2 0.3 1-0.1 2-1.4 5.2-5.3 4.1-3 5.7-2.6zM109 121.8l-5.7 5.2-2.7 2-3.4 2-4.2 1.8-4 1.4-5 1.2-13 1.8-3 0.8-0.3 1 2.4 5 1 3 0.3 3-0.6 3-1.5 3-1.5 2-2.8 2.8-5.1 4.2-0.6 1 0.8 1 10.9 3.4 4 1.6 4 2 3 2 2.2 2 2.5 3 1.7 3 1.6 4.2 1 1.4 1 0.5 2 0 11-1.7 6-0.6 10 0.2 9 1.3 6.1 1.7 7.9 2.7 3 0.3 1-0.4 1-0.7 3.7-3.9 3.4-3 3.9-2.6 4-1.9 4-1.5 5-1.3 15-2.4 1.5-0.3 0.5-0.5 0.3-0.5-0.3-1-3-5-1.2-3-0.5-3 0.1-2 0.9-3 1.7-2.8 2-2.3 5.2-4.9 0.4-1-1.6-1-9-2.6-5-1.7-3.6-1.7-3.5-2-2.6-2-2.8-3-1.9-3-1.6-3.5-1-1.2-2-0.6-15 2-10 0.1-6-0.6-5-0.9-13-3.9-2 0z"/>
<path fill="#ffc400" d="M130 105l6-0.8 6 0.1 6 1.1 5 1.9 4.2 2.7 2.5 3 1 2 0.6 2 0.1 2-0.5 2-0.8 1-1.5 1-4.6 1.6-6 1.1-7 0.6-6-0.2-6-0.8-5.6-1.3-5.3-2-3.4-2-0.8-1-0.4-1 0.1-1 1.4-3 2.6-3 4.2-3 4.2-1.9zM71.6 113l5.4-0.8 5-0.1 6 0.6 5 1.2 6 2.1 3.8 2 2.1 2 0.3 1-0.1 1-1.7 3-3.2 3-4.2 2.6-5 2.2-6 1.6-6 0.9-6 0.3-5-0.4-2-0.7-2-1.1-3-2.9-2.1-3.5-0.6-2 0-2 1.1-3 2.8-3 3.8-2.2zM182.4 120l6.6-0.5 6 0.3 6 1.1 5 1.9 3.5 2.2 2.5 3 0.9 3-0.7 3-2 3-3.2 2.9-4 2.4-4 1.5-4 0.3-5-0.5-6-1.5-6-2.2-4.9-2.9-2.3-2-1.8-2-1.1-2-0.8-2-0.2-2 0.2-1 0.5-1 1-1 2.4-1.2 5.9-1.8zM45.9 139l7.1-0.6 6 0.1 4 0.9 3 1.9 1.6 1.7 1.3 2 0.8 2 0.3 2 0 2-0.5 2-1 2-1.4 2-3.1 2.9-4 2.6-4 1.6-4 0.5-6-0.6-7-1.6-6-2.2-4-2.5-2.4-2.7-1.1-3 0.5-3 2-3 3-2.3 4-2 5-1.6zM199.4 149l4.6-0.4 7 0.9 8 2.1 5.6 2.4 4.1 3 2.2 3 0.6 3-0.8 3-2.5 3-3 2-4.2 1.8-4.7 1.2-6.3 0.9-7 0.4-5-0.4-4-1.2-3-2.1-2-2.3-1-1.6-1.3-3.7-0.1-2 0.3-2 1.3-3 2.8-3.3 4-2.9 2-1zM53.9 170l2.1-0.6 3-0.2 6 0.7 7 1.9 4 1.7 2.8 1.5 3.9 3 1.7 2 1.3 2 1.1 3 0.2 2-0.4 2-0.6 1-1 1-1.7 1-5.7 2-6.6 1.4-7 0.7-6-0.1-5-0.7-4.5-1.3-4.1-2-2.6-2-2.1-3-0.6-3 0.7-3 1.9-3 3.3-3.1 5-3.2zM175.8 179l6.2-0.7 6 0.1 4 0.8 3 1.7 2 1.6 2 2.2 1.5 2.3 1 2 0.5 2 0 2-0.4 2-1.1 2-3 3-4.5 2.4-5.4 1.6-6.6 0.7-7-0.3-7-1.4-5.8-2-6-3-2.2-2-0.5-1-0.2-1 0.2-1 0.8-2 1.5-2 1.9-2 4.2-3 4-2 5.1-1.7zM107.6 189l6.4-0.5 7 0.2 6 0.9 5.8 1.4 5.2 2 3.5 2 1.7 2 0.3 1-0.2 2-0.9 2-1.4 2-2.8 3-4.1 3-5.1 2.3-5 1.3-6 0.6-6-0.3-6-1.2-3-1.1-3-1.5-4-3.1-1.6-2-1.5-3-0.7-3 0-2 0.4-2 0.6-1 1-1 1.6-1 5.2-1.8z"/>
<path fill="#ff9f00" d="M133.9 105l6.1-0.2 5 0.6 5 1.3 4 2 2.9 2.3 2 3 0.7 3-0.2 2-0.5 1-2 2-3.9 1.7-5.7 1.3-6.3 0.6-6-0.2-6-0.8-5.7-1.6-4.3-2-2.3-2-0.8-2 0.3-2 1.9-3 3.6-3 3.3-1.7 4-1.4zM75.2 113l4.8-0.3 5 0.2 5 0.9 4.1 1.2 4.5 2 2.8 2 1.2 2-0.1 2-1 2-3 3-4.5 2.7-5 1.9-5 1.2-6 0.7-6-0.1-4-0.8-2-0.9-2-1.2-3-3.1-0.8-1.4-0.7-2 0.2-3 1.7-3 1.6-1.5 2-1.3 5-2.1zM180.7 121l6.3-0.8 6 0 5.7 0.8 5.3 1.7 4.1 2.3 2.7 3 0.9 3-0.7 3-2 2.7-3 2.5-4 2.1-4 1.2-4 0.3-4-0.3-5-1-5-1.7-5.3-2.8-3.3-3-1.9-3-0.5-3 0.7-2 2.2-2 4.1-1.8zM43.9 140l6.1-0.6 6 0.1 5 0.9 3 1.5 1.4 1.1 1.6 1.8 1.5 3.2 0.2 2-0.3 2-1.3 3-2.7 3-3.4 2.5-4 1.7-5 1-5-0.1-6-1-6-1.9-4-2.2-2.3-2-1.7-3-0.1-3 1.1-2.4 2.5-2.6 3.3-2 5.2-1.9zM202.6 150l5.4 0 6 1 6 1.7 4.7 2.3 2.6 2 2.3 3 0.7 3-0.9 3-1.4 1.8-1.4 1.2-3.3 2-4.3 1.6-5 1.1-6 0.5-6-0.1-4-0.7-4-1.7-3-2.4-2.2-3.3-0.7-2-0.1-2 0.7-3 1.8-3 3.5-3 4-2zM56.1 171l4.9-0.4 6 0.8 6 1.8 5.5 2.8 3.5 3 2.1 3 0.6 2 0.2 2-0.5 2-0.6 1-2.2 2-4.5 2-6.1 1.6-6 0.7-6 0.1-5-0.7-5-1.4-4-2-2.6-2.3-1.7-3-0.2-3 1.1-3 2.5-3 3.9-2.9 4-1.9zM175.1 180l5.9-0.6 6 0.3 4 0.9 4 2.2 3.4 3.2 1.3 2 0.8 2 0.3 2-0.2 2-1.5 3-3.3 3-4 2-4.8 1.3-6 0.7-6-0.2-6-1.1-5.3-1.7-5.7-3-2.1-2-0.6-1-0.3-2 0.5-2 2-3 3.7-3 3.7-2 5.1-1.9zM107 190l6-0.7 6 0 6 0.7 6 1.5 5 2 3.5 2.5 1.3 2 0.2 1-0.2 2-1.5 3-3.3 3.5-3.8 2.5-5 2-5.2 1.1-5 0.4-6-0.5-5-1.1-4.4-1.9-4.1-3-1.6-2-1.1-2-0.6-2-0.2-2 0.7-3 0.7-1 1.6-1.5 4-2z"/>
<path fill="#ff7a00" d="M131.7 106l5.3-0.6 5 0.2 5 0.9 4.1 1.5 3.2 2 2.7 3 1 3-0.2 2-0.4 1-1.8 2-3.6 1.9-4 1.1-6 0.8-5 0-6-0.6-4.8-1.2-4.2-1.7-2-1.3-1.7-2-0.4-2 0.1-1 0.9-2 1.8-2 2.6-2 4.5-2zM73.3 114l4.7-0.6 5 0 5 0.7 5 1.4 3.3 1.5 2.8 2 1.3 2 0.2 1-0.4 2-2.3 3-2.7 2-4.1 2-4.1 1.3-5 1-5 0.3-5-0.3-4-1.1-3-1.6-2.7-2.6-1.4-3 0-3 1-2 0.9-1 2.5-2 3.7-1.8zM185.6 121l5.4-0.2 5 0.4 4 0.8 4.9 2 2.9 2 1.2 1.4 1 1.6 0.3 1 0 2-0.7 2-1.6 2.2-3 2.3-4 1.9-4 1-4 0.3-5-0.5-5-1.2-4.8-2-3.2-2.1-2.8-2.9-1.3-3 0.1-2 0.3-1 1.7-2 3.8-2 4.2-1.2zM42.4 141l5.6-0.7 6 0 4.4 0.7 3.6 1.4 2 1.3 1.3 1.3 1.6 3 0.3 3-1 3-2.2 2.8-3 2.3-4 1.8-4 1-5 0.3-5-0.6-5-1.2-4-1.6-3-2-2.3-2.8-0.6-2 0-1 0.5-2 1.3-2 0.9-1 2.9-2 4.3-1.9zM204.6 151l5.4 0.2 5 0.8 5 1.6 4 2 2.9 2.4 1.8 3 0.2 2-0.1 1-0.8 2-1 1.2-2 1.8-3 1.6-4 1.4-5 1-5 0.4-5-0.3-4-0.7-4-1.7-3.3-2.7-1.8-3-0.5-3 0.7-3 2.2-3 3.7-2.7 4-1.6zM57.6 172l5.4-0.1 5 0.7 5 1.6 4 2.1 3.4 2.7 2 3 0.6 3-0.4 2-0.5 1-1.9 2-3.6 2-5.6 1.7-6 0.9-5 0.1-5.7-0.7-4.3-1.2-3.6-1.8-2.5-2-1.9-3-0.2-3 1.2-3 2.8-3 3.2-2.2 4-1.7zM174.6 181l6.4-0.6 5 0.3 4 1 4 2 3 2.7 1.2 1.6 0.9 2 0.3 3-1.1 3-1.3 1.6-1.6 1.4-3.4 1.9-4 1.4-5 0.8-6 0.1-5-0.6-5.6-1.6-4.4-2-2.8-2-0.9-1-1-2-0.1-2 1.4-3 3.1-3 3.3-2 5-1.9zM106.9 191l6.1-0.8 6-0.1 6 0.8 5 1.3 4.2 1.8 1.8 1.2 1.9 1.8 0.9 2 0.1 1-0.3 2-1.7 3-3.3 3-3.5 2-4.1 1.5-5 0.9-5 0.3-5-0.5-4.9-1.2-4.3-2-3.7-3-1.8-3-0.6-3 0.7-3 1.5-2 1.1-0.9 4-2z"/>
<path fill="#ff5500" d="M130.5 107l4.5-0.7 5-0.1 5 0.6 4 1.2 3.7 2 2.3 2.2 1.3 2.8 0 2-0.3 1-1.5 2-3.3 2-3.2 1-5 0.9-5 0.2-4-0.3-4.5-0.8-4.5-1.5-2.7-1.5-1.9-2-0.7-2 0.4-2 1.2-2 2.3-2 3.4-1.8zM72.2 115l4.8-0.8 5-0.1 5 0.6 4.8 1.3 3.9 2 2.1 2 0.8 2-0.3 2-1.2 2-2.3 2-3.7 2-4.1 1.4-4 0.9-5 0.4-4-0.2-4-0.9-3.6-1.6-2.4-2-1.3-2-0.6-2 0-1 0.7-2 0.6-1 2.1-2 3.5-1.9zM184 122l5-0.5 5 0.2 5 0.9 4 1.4 3.2 2 1.8 2 0.9 2 0.1 1-0.4 2-1.6 2.5-3 2.3-3 1.5-4 1-4 0.3-4-0.2-4-0.8-4.6-1.6-3.5-2-2.3-2-1.6-2.6-0.3-2.4 0.7-2 2.1-2 4.3-2zM41.5 142l5.5-0.8 5-0.1 4 0.5 4 1.3 3 1.9 1.8 2.2 0.9 3-0.6 3-2.1 3-2.6 2-3.4 1.7-4 1-4 0.4-4-0.1-5-0.9-4-1.4-3-1.7-2.1-2-1.1-2-0.3-1 0.2-2 0.3-1 1.4-2 2.4-2 4.2-2zM205.7 152l4.3 0.1 5 0.8 4 1.3 4 1.9 2.3 1.9 0.9 1 1 2 0.3 2-0.2 1-0.9 2-1.9 2-3.4 2-4.1 1.4-5 0.9-5 0.1-5-0.5-4-1.2-3-1.7-2.2-2-1.6-3-0.1-3 1.3-3 2.6-2.6 3-1.7 4-1.3zM58.9 173l4.1-0.1 5 0.8 4.2 1.3 3.9 2 2.5 2 2 3 0.5 3-0.6 2-0.6 1-2.3 2-4.2 2-4.4 1.2-5 0.6-5 0-5-0.7-3.4-1.1-3.7-2-2.2-2-0.7-1-0.7-2 0.2-3 1.1-2 3-3 3.4-1.9 4-1.4zM174.3 182l5.7-0.6 5 0.3 4 1 4 1.9 2.8 2.4 1.8 3 0.3 3-1.2 3-1.8 2-3.9 2.3-4 1.3-5 0.8-5 0-5-0.7-5.4-1.7-3.6-1.9-2.4-2.1-1.2-2-0.2-2 0.7-2 0.6-1 1.9-2 3.6-2.3 4-1.6zM114 191l5 0 6 0.8 4.1 1.2 3.9 1.9 2.6 2.1 1.1 2 0.2 2-1.1 3-2.7 3-3.2 2-3.9 1.5-5 1.1-5 0.2-5-0.5-4.9-1.3-3.1-1.5-3.2-2.5-1.9-3-0.4-3 0.4-2 0.6-1 1.9-2 3.6-2 5-1.4z"/>
<path fill="#ff2d00" d="M135.4 107l4.6-0.1 4 0.6 4 1.1 2.8 1.4 2.4 2 1.2 2 0.2 2-0.6 2-1.9 2-3.1 1.6-4 1.1-4 0.5-5-0.1-4-0.5-4-1.1-3.2-1.5-2.3-2-0.9-2 0.3-2 1.2-2 2.4-2 2.5-1.3 3-0.9zM76.7 115l3.3-0.2 4 0.2 4 0.8 3.5 1.2 2.5 1.4 1.7 1.6 0.9 2-0.2 2-1.3 2-2.4 2-3.7 1.8-4 1.2-5 0.6-4 0-4-0.6-3-1.1-3-1.9-1.7-2-0.4-1-0.2-2 0.7-2 1.6-2 3.2-2 2.8-1zM183.6 123l4.4-0.6 5 0 4.2 0.6 3.8 1.2 3.3 1.8 2.1 2 0.9 2 0.1 1-0.4 2-1.4 2-2.5 2-3.1 1.4-3 0.8-4 0.4-4-0.3-4-0.7-3-1.1-3-1.5-2.5-2-1.5-2.1-0.5-1.9 0.1-1 1-2 1.4-1.3 3.2-1.7zM48.2 142l4.8 0.2 3.8 0.8 3.2 1.4 2.1 1.6 1.4 2 0.3 1 0.2 2-1 2.6-2.1 2.4-2.9 1.9-3 1.2-4 0.8-4 0.2-4-0.4-4-1-3.9-1.7-2.5-2-1.2-2-0.3-2 0.9-2.6 2-2.1 2-1.4 4-1.6 4-0.9zM200.7 154l4.3-0.9 5 0 5 0.8 4 1.3 3.3 1.8 1.7 1.5 1.2 1.5 0.6 2 0.1 1-0.6 2-1.6 2-2.7 1.9-3 1.2-3.7 0.9-4.3 0.4-4-0.1-4-0.6-3-1-3-1.7-2-2-1-2-0.3-2 0.4-2 1.9-2.8 3-2.1zM54.5 175l4.5-0.9 4-0.1 5 0.8 4 1.3 3.3 1.9 1.7 1.4 1.2 1.6 0.8 1.7 0.2 1.3-0.3 2-1.3 2-2.7 2-2.9 1.3-4 1.1-5 0.6-4-0.1-5-0.9-3-1-3-1.7-2-2-1.1-2.3 0-2 1.1-2.6 2-2.1 3-1.9zM174.5 183l4.5-0.5 5 0.3 4 0.9 3 1.3 3 2.2 1.9 2.8 0.4 3-0.7 2-1.6 2-2.8 2-4.2 1.6-4 0.8-5 0.1-4.5-0.5-3.8-1-4.4-2-2.5-2-1.2-2-0.3-2 0.6-2 1.6-2 2.6-2 3.9-1.8zM113.8 192l5.2 0 4 0.5 4 1 3.5 1.5 2.7 2 1.4 2 0.3 2-0.1 1-0.9 2-1.7 2-3.2 2.2-4 1.6-4 0.8-4 0.3-5-0.4-4-0.9-3.6-1.6-2.7-2-0.9-1-1.1-2-0.4-3 0.7-2 1.7-2 3.3-2 4-1.3z"/>
<path fill="#f10800" d="M134.7 108l3.3-0.2 4 0.2 4 1 2.4 1 1.7 1 1.9 2 0.7 2-0.3 2-1.4 1.8-1.7 1.2-2.3 1-4.3 1-3.7 0.3-4.4-0.3-4.6-1-2.5-1-1.6-1-1.8-2-0.4-2 0.7-2 1.6-1.7 2-1.3 3-1.2zM76.2 116l3.8-0.3 4 0.3 4 0.9 2 0.7 2.3 1.4 1.7 1.8 0.5 1.2-0.2 2-1.4 2-1.9 1.5-3.1 1.5-3.4 1-3.5 0.5-4 0.1-3.9-0.6-2.9-1-2.2-1.3-1.7-1.7-0.8-2 0.2-2 1.3-2 2.7-2 2.3-1zM183.9 124l4.1-0.7 4-0.1 5 0.7 3.2 1.1 3.3 2 1.6 2 0.5 2-0.5 2-1.1 1.5-2 1.6-3 1.3-3 0.7-3 0.3-4-0.2-3-0.5-3-1-3-1.6-1.4-1.1-1.5-2-0.5-2 0.6-2 1.8-1.9 2-1.1zM41.3 144l3.7-0.7 4-0.3 4 0.4 3 0.7 3 1.5 2 1.8 0.8 1.6 0.3 1-0.3 2-1.1 2-2.2 2-2.5 1.3-3 1-3 0.5-4 0.1-4-0.5-3-0.9-3-1.5-1.2-1-1.5-2-0.4-2 0.6-2 1.7-2 2.8-1.8zM201.8 155l4.2-0.8 4 0 4 0.6 4 1.2 3.4 2 1.8 2 0.8 2-0.2 2-1.2 2-1.6 1.3-3 1.6-3 0.9-3 0.4-4 0.1-3.4-0.3-3.7-1-2.1-1-2.6-2-1.2-2-0.4-2 0.5-2 1.4-2 2.5-1.8zM55.6 176l3.4-0.6 4-0.1 4 0.5 4 1.3 3.2 1.9 1.9 2 0.9 2 0.1 1-0.5 2-1.6 2-2 1.3-4 1.6-3 0.7-4 0.3-3-0.1-4-0.7-3.2-1.1-1.8-1-2.2-2-1-2 0-2 0.8-2 1.8-2 3.4-2zM175.5 184l4.5-0.3 3.9 0.3 3.1 0.8 3 1.3 2.5 1.9 1.4 2 0.4 1 0.1 2-0.8 2-1.9 2-2.7 1.6-4 1.3-3 0.5-4 0.1-4-0.5-3.5-1-3.5-1.7-1.7-1.3-1.4-2-0.3-2 0.6-2 1.7-2 3-2 3.1-1.2zM115.9 193l4.1 0.2 4 0.7 3 1 2.2 1.1 2.4 2 1 2 0 2-0.9 2-1.8 2-2.9 1.8-3.4 1.2-3.6 0.7-4 0.1-4-0.4-4-1.1-3-1.6-2-1.7-1.3-2-0.3-2 0.1-1 0.9-2 2.1-2 3.5-1.7 4-0.9z"/>
<path fill="#c40000" d="M135.7 109l3.3-0.1 3 0.3 3.2 0.8 2.1 1 1.7 1.3 1.2 1.7 0.1 2-0.4 1-1.9 1.9-2 0.9-5 1.2-6-0.1-3.7-0.9-2.3-1-1.5-1-1.4-2-0.1-1 0.7-2 1.3-1.3 2-1.2 2-0.7zM77.2 117l5.8 0 5 1.3 2 1.1 1.6 1.6 0.4 1-0.2 2-1.5 2-1.4 1-2.1 1-3.7 1-3.1 0.3-3 0-3-0.5-2.3-0.8-1.8-1-1.8-2-0.4-1 0.2-2 1.1-1.6 1.8-1.4 2.2-1zM185.2 125l3.8-0.6 3 0 4 0.5 3 1 2 1.2 1.9 1.9 0.4 1 0 2-1.3 2-1.4 1-2 1-2.6 0.8-3 0.3-3 0-5-1.1-2.2-1-2.6-2-1.1-2-0.1-1 0.8-2 1-1 1.7-1zM42.4 145l3.6-0.6 3-0.1 3 0.3 3 0.8 2 1 1.9 1.6 0.8 2-0.2 2-1.3 2-1.2 1-2 1.1-3 1-3 0.5-4-0.1-3-0.5-2.8-1-2.2-1.4-1.4-1.6-0.4-1 0.1-2 1.3-2 1.3-1 1.7-1zM203.8 156l3.2-0.5 3 0 3.6 0.5 3.1 1 2.3 1.2 1.9 1.8 0.9 2-0.3 2-1.5 2-1.5 1-2.2 1-2.3 0.6-3 0.4-3 0-3-0.4-3-0.9-2-1-2-1.7-1-2 0-1.5 0.5-1.5 1.8-2 1.7-1zM57.6 177l3.4-0.4 4 0.3 3 0.7 3 1.3 1.6 1.1 1.5 2 0.5 2-0.7 2-1.9 1.9-2 1.1-2.9 1-2.1 0.4-3 0.2-3-0.1-3-0.5-3-1.1-2-1.3-1.4-1.6-0.6-2 0.4-2 1.6-2 1.4-1 1.9-1zM173 186l4-0.8 3-0.1 4 0.4 3 1 2.7 1.5 1.8 2 0.6 2-0.4 2-1.6 2-1.4 1-2.1 1-3.6 0.9-3 0.3-3.8-0.2-5.2-1.4-2-1.1-1.7-1.5-0.7-1-0.4-2 0.6-2 1.2-1.3 2.5-1.7zM111 195l4-0.6 4 0 3.6 0.6 3 1 2.4 1.5 1.5 1.5 0.6 2-0.4 2-1.5 2-1.3 1-1.9 1-4 1.2-3 0.3-3 0-3.1-0.5-3.1-1-1.9-1-2.1-2-0.9-2 0.1-2 1-1.7 1.4-1.3 1.7-1z"/>
<path fill="#960000" d="M133.5 111l4.5-0.6 5 0.6 2.2 1 1.3 1 0.7 1 0.2 1-0.2 1-0.6 1-1.3 1-3.3 1.2-5 0.3-4-0.8-1.6-0.7-1.4-1-0.7-1-0.2-1 0.2-1 0.7-1 1.2-1zM75.3 119l4.7-0.7 3 0.3 2 0.5 2 0.9 1.2 1 0.6 1 0.2 1-0.3 1-0.8 1-1.3 1-3.6 1.3-4 0.4-4.6-0.7-2-1-1.1-1-0.6-1-0.1-1 0.3-1 0.7-1 1.3-1zM188.7 126l4.3 0 4 1 1.7 1 1.1 1 0.5 1 0.2 1-0.3 1-0.7 1-1.3 1-2.2 0.9-2 0.4-5-0.1-3.9-1.2-1.5-1-1-1-0.4-1-0.1-1 0.4-1 0.9-1 1.6-1zM45.9 146l4.1 0 4 1.2 1.3 0.8 0.9 1 0.4 1-0.2 2-0.7 1-1.7 1.3-2 0.9-3 0.6-2 0.1-3-0.3-2.2-0.6-1.8-0.9-1.2-1.1-0.5-1-0.2-1 0.9-2 1.1-1 1.8-1zM203.8 158l2.2-0.6 3-0.3 3 0.3 2.2 0.6 2.2 1 1.2 1 0.8 1 0.3 1 0 1-0.4 1-1.3 1.4-1 0.6-2.8 1-4.2 0.4-4-0.7-1.9-0.7-1.5-1-1-1-0.6-2 0.8-2 1.1-1zM57.3 179l2.7-0.5 3-0.1 3 0.5 2 0.8 2 1.3 0.8 1 0.4 1-0.2 2-0.7 1-1.3 1.1-1.9 0.9-2.1 0.6-3 0.3-2 0-4-0.9-1.9-1-1.2-1-0.8-2 0.1-1 1.3-2 1.5-1.1zM176.9 187l5.1 0 3 0.9 2 1.1 1.1 1 0.6 1 0.2 2-0.5 1-0.9 1-1.5 1.1-2.5 0.9-2.5 0.4-5-0.2-4-1.5-2-1.8-0.5-1.9 0.2-1 0.6-1 1.7-1.3 2-1zM111.2 197l2.8-0.7 3-0.2 3 0.2 2.6 0.7 2 1 1.2 1 0.7 1 0.3 2-0.5 1-1.3 1.4-2 1.2-2 0.7-5 0.5-4.2-0.8-2.2-1-1.3-1-1.2-2 0.3-2 0.6-1 1.2-1z"/>
</g></g>
<ellipse cx="128" cy="160" rx="118" ry="63" fill="none" stroke="#444" stroke-width="0.7"/>
<path d="M222 28.8L219.3 119.8" stroke="#555" stroke-width="0.8" fill="none"/>
<g clip-path="url(#cp)"><g filter="url(#bl)"><rect x="56" y="14" width="152" height="200" fill="#000080"/>
<path fill="#00008d" d="M70.2 81l3.8-0.1 4 0.9 5 2 5 2.8 5 3.6 11.9 9.8 6.9 5 37.1 25 20.1 11.4 5 3.7 6 5.4 6 6.4 5.2 7.1 4.1 7 7.7 15.7 2 1.5 2 0.9 0 23.9-151 0 0-127.5 3 2.6 1-0.2 6-5.1 2-1.1z"/>
<path fill="#00009b" d="M66.8 90l3.2-0.4 4 0.7 5 1.9 6 3.3 7 5.3 15 14.6 10.2 7.6 28.8 19.5 6.7 3.5 10.3 3.9 5 2.4 6 3.9 6 4.8 6 5.7 5 5.8 4 5.8 8 13.1 2 1.5 2 0.9 0 19.2-151 0 0-123 3 2.6 1 0z"/>
<path fill="#0000a4" d="M56 93l0-0.5 2.9 2.5 1.1 0.2 7-1.6 4 0.2 5 1.7 6 3.2 5 3.3 5 4.3 4.5 4.7 9.5 10.9 5 4.7 7 5.3 19 13.1 7 4.5 5 2.5 4 1.3 9 2.1 5 1.9 5 2.8 6 4.3 6 5 5 5 5 6.3 9 13.4 2 1.5 2 0.9 0 16.5-151 0z"/>
<path fill="#0000b2" d="M56 95l0-0.8 2 1.9 1 0.7 1 0.2 7-1 4 0.4 4 1.5 5 2.6 7 4.7 5.3 4.8 5.4 6 10.3 13 5 5 5.2 4 17.4 12 6.4 4.2 5 2.3 4 0.9 10 1.4 6 1.9 5 2.7 7 4.9 7 5.9 5 5.2 3.6 4.6 8.4 11.9 2 1.5 2 0.9 0 14.7-151 0z"/>
<path fill="#0000bf" d="M56 96l0-0.5 2 1.9 1 0.7 1 0.3 7-0.7 2 0.2 3 0.7 6 2.8 7 4.6 5 4.1 4.8 4.9 4.8 6 9.4 12.8 5 5.4 6 4.7 19.1 13.1 3.9 2.1 4 1.2 12 0.8 6 1.3 3 1.2 4 2.1 8 5.6 6 5 5 5 3.8 4.7 8.2 11.3 2 1.5 2 0.9 0 13.3-151 0z"/>
<path fill="#0000c8" d="M56 97l0-0.4 2 1.8 2 1 7-0.3 2 0.2 3 0.8 3 1.3 4 2.2 7 4.8 5 4.4 4.7 5.2 4.6 6 9.7 13.9 4 4.7 5.1 4.4 18.9 13 3.6 2 3.4 1 3 0.3 11-0.2 3 0.3 3 0.8 3 1.2 4 2.1 9 6.2 6 5.1 4 4 3.5 4.2 8.5 11.4 2 1.5 2 0.9 0 12.2-151 0z"/>
<path fill="#0000d6" d="M56 98l0-0.5 2 1.8 2 1.1 7-0.2 2 0.2 3 0.9 6 3 8 5.4 5 4.5 5.2 5.8 4.4 6 10.4 15.6 4 4.9 5.2 4.5 17.5 12 3.3 1.7 3 0.7 3 0.1 10-0.9 4 0.2 3 0.6 3 1 4 1.9 4 2.4 5 3.6 6 4.8 5 4.9 3.4 4 8.6 11.4 2 1.4 2 1 0 11.2-151 0z"/>
<path fill="#0000df" d="M56 99l0-0.7 2 1.8 2 1 7 0 2 0.3 3 0.9 4 1.9 4 2.4 7 5.1 5.6 5.3 5 6 4.8 7 9.6 15.1 4 5 5 4.2 16 11 3 1.6 3 0.7 3-0.1 7-1.2 4-0.4 4 0.1 3 0.6 3 1 4 1.9 9 5.9 6 4.8 5 4.9 3.4 3.9 8.6 11.2 2 1.4 2 1 0 10.4-151 0z"/>
<path fill="#0000ed" d="M56 99l2 1.8 2 1 8 0.2 2 0.5 3 1.1 8 4.6 5 3.6 3 2.6 4.5 4.6 4.8 6 5.3 8 8.4 13.8 5.3 7.2 0.2 59-61.5 0zM157.1 167l3.9 0.1 3 0.5 3 1 4 1.8 9 5.9 8 6.6 5.7 6.1 9.3 11.9 2 1.5 2 0.9 0 9.7-68.1 0 0-44 3.1 0.5 2-0.1 9-1.9z"/>
<path fill="#0000f6" d="M56 100l0-0.5 2 1.9 2 1 8 0.3 5 1.7 7 3.9 8 6 5 5 5.3 6.7 5.3 8 10.1 17 0.3 1 0 61-58 0zM156.5 168l3.5-0.1 3 0.4 3 0.8 3 1.2 4 2.2 5 3.2 9 7.1 6 6.1 10 12.6 2 1.5 2 1 0 9-64.6 0 0-41 0.6-0.8 0.7-0.2 8.3-2.3z"/>
<path fill="#0000ff" d="M56 101l0-0.9 2 1.8 2 1.1 7 0.2 2 0.4 3 1 7 3.8 5 3.4 4 3.3 5.8 5.9 4.7 6 5.2 8 8.6 15 0.2 1 0 62-56.5 0zM155.2 169l3.8-0.3 3 0.2 3 0.6 3 1.1 4 2 4 2.5 5 3.5 5 4 4 3.7 3 3.3 10 12.5 2 1.5 2 0.9 0 8.5-63 0 0-40 0.9-1 6.1-2.1z"/>
<path fill="#000cff" d="M56 101l0-0.4 2 1.8 2 1.1 8 0.5 2 0.4 3 1.2 8 4.7 7 5.4 5.3 5.3 5.4 7 5.7 9 6.7 12 0.4 1 0 63-55.5 0zM153.9 170l3.1-0.5 4 0 3 0.5 3 0.9 3 1.3 4 2.3 10 7.1 4 3.5 4 4 11 13.5 2 1.5 2 1 0 7.9-61.9 0 0.1-40 4.8-1.9z"/>
<path fill="#0038ff" d="M56 103l0-0.8 2 1.8 2 1.1 7 0.5 3 0.7 2 0.8 3 1.5 5 3.1 7 5.2 5.3 5.1 5.5 7 5.8 9 4.9 9 0.4 1 0 65-52.9 0zM155.9 172l3.1-0.3 3 0.1 3 0.6 3 1.1 7 3.8 10 7.2 4 3.5 3.9 4 7.1 9 3 3.3 2 1.5 2 1 0 6.2-59.3 0 0-38 3.3-1.7z"/>
<path fill="#0060ff" d="M56 104l0-0.6 2 1.9 2 1.1 8 0.8 4 1.4 7 3.9 7 5.1 5.7 5.4 5 6 5.9 9 4.4 8 0.4 2 0 65-51.4 0zM154.5 174l3.5-0.6 3 0 3 0.4 3 0.9 6 2.9 9 6.1 5 4 4 3.8 12 14.2 2 1.4 2 1 0 4.9-57.7 0 0-36 0.2-1 0.5-0.4z"/>
<path fill="#0088ff" d="M56 105l0-0.6 2 1.9 2 1.1 8 0.9 4 1.4 7 4 7 5.2 5 4.6 4.7 5.5 4.9 7 5.1 9 0.5 2 0 66-50.2 0zM156.1 175l2.9-0.4 3 0.1 3 0.6 3 1.1 6 3.1 9 6.2 5 4.1 4 3.9 11 13 2 1.5 2 1 0 3.8-56.5 0 0.1-36 0.4-0.4 2-0.8z"/>
<path fill="#00b0ff" d="M56 106l0-0.7 2 1.8 2 1.2 8 1 4 1.4 7 4 6 4.4 6 5.4 4.7 5.5 4.8 7 4.6 8 0.2 68-49.3 0zM156.6 176l2.4-0.3 3 0.1 3 0.6 3 1 6 3.1 7 4.7 5 3.9 5 4.5 12 14 2 1.5 2 1 0 2.9-55.5 0 0-35 0.5-0.6 1-0.5z"/>
<path fill="#00dcfe" d="M56 107l0-0.9 2 1.8 2 1.1 7 0.9 5 1.6 5 2.8 7 4.8 5 4.3 5.2 5.6 5.1 7 4.8 8 0.4 2 0 67-48.5 0zM156.1 177l4.9-0.4 5 1 6 2.7 8 5.1 7 5.4 4 3.7 12 13.9 2 1.5 2 1 0 2.1-54.6 0 0-34 0.6-1.1z"/>
<path fill="#19ffde" d="M56 107l0-0.3 2 1.8 2 1.2 2 0.4 5 0.4 5 1.7 6 3.4 7 5.1 5 4.4 4.4 4.9 5.1 7 4.1 7 0.1 1 0 68-47.7 0zM155.3 178l2.7-0.5 3-0.1 5 0.9 5 2.2 7 4.3 7 5.1 5 4.4 4 4.2 8 9.6 2 1.8 3 1.6 0 1.5-53.8 0 0-34 0.8-0.7z"/>
<path fill="#39ffbe" d="M56 108l0-0.7 2 1.8 2 1.1 2 0.5 5 0.5 4 1.2 6 3.3 6 4.1 6 5 4.9 5.2 4.4 6 4.4 7 0.4 1 0 1 0 68-47.1 0zM154.2 179l4.8-0.9 5 0.4 5 1.7 6 3.3 7 4.8 7 5.7 5 5.1 8 9.7 2 1.7 3 1.7 0 0.8-53.1 0 0-33z"/>
<path fill="#5aff9d" d="M56 108l2.5 2 1.5 0.8 2 0.4 5 0.5 5 1.7 5 2.8 6 4.2 6 5 4.4 4.6 5.2 7 3.7 6 0.2 1 0 69-46.5 0zM156.8 179l4.2-0.3 5 0.9 5 2.2 6 3.6 7 5 5 4.2 5 5.1 8 9.6 2 1.8 3 1.6 0 0.3-52.5 0 0-33 0.5-0.6z"/>
<path fill="#7dff7a" d="M56 109l0-0.7 2 1.8 2 1.2 2 0.4 5 0.5 4 1.3 4 2 7 4.7 6 4.8 4.9 5 4.7 6 4.3 7 0.1 70-46 0zM155.2 180l1.8-0.5 3-0.3 5 0.7 5 1.9 6 3.5 7 4.9 6 4.9 5 5.1 8 9.6 2 1.8 2.5 1.4-51.4 0z"/>
<path fill="#9dff5a" d="M56 109l0-0.3 2 1.8 2 1.2 2 0.5 5 0.5 5 1.7 4 2.2 6 4 6 4.9 4.5 4.5 4 5 4.6 7 0.4 1 0 1 0 69-45.5 0zM157.3 180l4.7-0.1 5 1.2 5 2.3 7 4.4 6 4.4 5 4.3 4 4.2 8 9.6 2 1.8 1.5 0.9-49.9 0 0-32 0.4-0.6z"/>
<path fill="#beff39" d="M56 110l0-0.9 2 1.9 2 1.1 7 1 4 1.3 4 2 6 4 6 4.7 5 4.8 4.9 6.1 3.8 6 0.3 1 0 70-45 0zM156.2 181l0.8-0.5 3-0.3 3 0.2 3 0.8 5 2.1 7 4.3 7 5.1 5 4.3 4 4.2 7 8.5 2 2 1.8 1.3-48.7 0z"/>
<path fill="#deff19" d="M56 110l0-0.5 2 1.8 2 1.2 2 0.5 5 0.5 4 1.3 5 2.7 6 4 5 4 5 4.8 4.6 5.7 3.8 6 0.1 71-44.5 0zM156.9 181l4.1-0.3 5 0.9 6 2.7 7 4.4 6 4.4 5 4.3 4.4 4.6 6.6 8.1 3.2 2.9-47.6 0 0-31z"/>
<path fill="#feed00" d="M56 110l2 1.7 2 1.1 2 0.5 5 0.6 4 1.3 4 2 5 3.3 6 4.5 5 4.6 4.5 5.4 4.2 6 0.4 1 0 1 0 70-44.1 0zM157.1 182l0.9-0.8 1-0.1 3 0.1 3 0.5 5 1.9 8 4.8 7 5.1 5 4.3 4 4.2 7 8.4 2.7 2.6-46.6 0z"/>
<path fill="#ffc400" d="M56 111l0-0.8 2 1.9 2 1.1 7 1 4 1.3 4 2.1 5 3.2 6 4.6 5 4.6 4.3 5 4.1 6 0.3 1 0 71-43.7 0zM157.5 182l0.5-0.4 4-0.1 5 1.2 6 2.9 6 3.8 7 5.3 4 3.5 3.7 3.8 7.3 8.8 2.2 2.2-45.7 0z"/>
<path fill="#ff9f00" d="M56 111l0-0.5 2 2.3 2 0.8 7 0.9 3 0.9 4 1.9 5 3.2 6 4.4 5 4.4 4.2 4.7 5 7 0.1 72-43.3 0zM157.9 182l2.1-0.2 3 0.2 5 1.5 6 3.1 6 3.9 6 4.5 5 4.5 11.7 13.5-44.8 0z"/>
<path fill="#ff7a00" d="M56 111l0.8 1 0 101-0.8 0zM60 115l1-0.8 5 0.5 3 0.7 5 2.3 5 3.1 6 4.4 5 4.5 4.7 5.3 4.2 6 0 72-38.9 0zM158.3 183l0.7-0.7 2-0.1 3 0.3 3 0.9 5 2.3 6 3.7 7 5.1 6 5.3 4 4.4 7.2 8.8-43.9 0z"/>
<path fill="#ff5500" d="M60.7 115l1.3-0.4 4 0.4 3 0.7 4 1.7 7 4.4 6 4.5 5 4.7 4.3 5 2.8 4 0.4 1 0 72-37.8 0zM158.7 183l1.3-0.6 2 0.1 5 1.2 6 2.9 6 3.8 7 5.3 5 4.4 3.6 3.9 5.8 7 0.8 1 0.2 1-42.7 0z"/>
<path fill="#ff2d00" d="M61.5 115l0.5-0.2 4 0.5 4 1 4 1.9 5 3.2 6 4.4 5 4.5 4.3 4.7 3.6 5 0.3 1 0 72-36.9 0 0-97zM159.3 183l0.7-0.3 3 0.3 5 1.4 6 3.1 7 4.7 6 4.6 5 4.6 8.1 9.6 0.6 1 0 1-41.6 0z"/>
<path fill="#f10800" d="M61.8 116l0.2-0.4 1-0.4 3 0.3 3 0.7 5 2.3 5 3.2 5.9 4.3 5.1 4.5 4 4.5 3.6 5 0.2 73-36 0zM159.5 184l0.5-0.9 2 0 3 0.6 3 1 6 3.1 7 4.6 7 5.5 5 4.9 6.8 8.2 0.3 2-40.6 0z"/>
<path fill="#c40000" d="M62.3 116l0.7-0.5 2 0.1 5 1.2 4 2 6 3.8 4.6 3.4 5.4 4.8 5 5.7 2.4 3.5 0.1 73-35.2 0zM159.9 184l1.1-0.6 2 0.1 5 1.5 5 2.5 8 5.2 5.6 4.3 5.4 5 4.4 5 3 4 0.2 2-39.7 0z"/>
<path fill="#960000" d="M62.7 116l1.3-0.2 1.8 0.2 3.9 1 4.2 2 6.1 3.9 4.3 3.1 5.7 5.2 5 5.5 2.1 3.3 0 73-34.4 0zM160.4 184l0.6-0.3 2 0.1 4.4 1.2 5.6 2.7 8 5.3 5.3 4 9.7 9.7 3.1 4.3 0 2-38.7 0z"/>
</g></g>
<ellipse cx="127.4" cy="67.3" rx="122.6" ry="60.3" fill="none" stroke="#444" stroke-width="0.8"/>
<g clip-path="url(#cp)"><ellipse cx="127.4" cy="67.3" rx="122.6" ry="60.3" fill="none" stroke="#0a0a14" stroke-width="1" stroke-dasharray="1.3 0.7"/></g>
<path d="M27.5 102.5L29.2 194" stroke="#444" stroke-width="0.8" fill="none"/>
<path d="M178.6 194.5L179 112L173 114.5L181 99.5L189.8 123L183.4 114.5L183.8 194.5z" fill="#f5101c"/>
<text y="46.8" class="bk" font-size="17.5"><tspan x="139" class="mi">x</tspan><tspan x="153.2" class="mr">=</tspan><tspan x="171" class="mr">0</tspan></text>
<path d="M131.7 45.5L122.6 52.9" stroke="#000" stroke-width="1.1" fill="none"/><path d="M120.6 54.6l2.2-5.2 3.2 3.9z" fill="#000"/>
<rect x="262.4" y="24" width="7.8" height="200.6" fill="url(#ga)"/>
<rect x="562.4" y="23.4" width="8" height="204.2" fill="url(#gb)"/>
<text x="274" y="45.1" class="tk" font-size="11.7">1</text>
<text x="274" y="63.5" class="tk" font-size="11.7">0.9</text>
<text x="274" y="81.9" class="tk" font-size="11.7">0.8</text>
<text x="274" y="100.4" class="tk" font-size="11.7">0.7</text>
<text x="274" y="118.8" class="tk" font-size="11.7">0.6</text>
<text x="274" y="137.2" class="tk" font-size="11.7">0.5</text>
<text x="274" y="155.6" class="tk" font-size="11.7">0.4</text>
<text x="274" y="174.0" class="tk" font-size="11.7">0.3</text>
<text x="274" y="192.5" class="tk" font-size="11.7">0.2</text>
<text x="274" y="210.9" class="tk" font-size="11.7">0.1</text>
<text x="574.3" y="51.6" class="tk" font-size="11.7">2.5</text>
<text x="574.3" y="87.7" class="tk" font-size="11.7">2</text>
<text x="574.3" y="123.8" class="tk" font-size="11.7">1.5</text>
<text x="574.3" y="159.9" class="tk" font-size="11.7">1</text>
<text x="574.3" y="196.0" class="tk" font-size="11.7">0.5</text>
<text x="269" y="16" class="tk" font-size="12.3">×10<tspan dy="-5" dx="0.3" font-size="8.4">-9</tspan></text>
<text x="569" y="15.7" class="tk" font-size="12.3">×10<tspan dy="-5" dx="0.2" font-size="8">-10</tspan></text>
<text x="0.4" y="12.9" class="pl">(a)</text><text x="317.9" y="12.9" class="pl">(b)</text><text x="0.7" y="240.6" class="pl">(c)</text>
<rect x="81" y="249.5" width="486.8" height="211.3" fill="#fff" stroke="none"/>
<path d="M85.3 249.5V460.8M151.3 249.5V460.8M217.4 249.5V460.8M283.4 249.5V460.8M349.5 249.5V460.8M415.6 249.5V460.8M481.6 249.5V460.8M547.6 249.5V460.8M81 271.3H567.8M81 291.0H567.8M81 310.8H567.8M81 330.5H567.8M81 350.2H567.8M81 369.9H567.8M81 389.6H567.8M81 409.4H567.8M81 429.1H567.8M81 448.8H567.8" stroke="#e6e6f0" stroke-width="0.7" stroke-dasharray="1 1" fill="none"/>
<path d="M85.3 460.8v-2.6M85.3 249.5v2.6M151.3 460.8v-2.6M151.3 249.5v2.6M217.4 460.8v-2.6M217.4 249.5v2.6M283.4 460.8v-2.6M283.4 249.5v2.6M349.5 460.8v-2.6M349.5 249.5v2.6M415.6 460.8v-2.6M415.6 249.5v2.6M481.6 460.8v-2.6M481.6 249.5v2.6M547.6 460.8v-2.6M547.6 249.5v2.6M81 251.6h2.6M567.8 251.6h-2.6M81 271.3h2.6M567.8 271.3h-2.6M81 291.0h2.6M567.8 291.0h-2.6M81 310.8h2.6M567.8 310.8h-2.6M81 330.5h2.6M567.8 330.5h-2.6M81 350.2h2.6M567.8 350.2h-2.6M81 369.9h2.6M567.8 369.9h-2.6M81 389.6h2.6M567.8 389.6h-2.6M81 409.4h2.6M567.8 409.4h-2.6M81 429.1h2.6M567.8 429.1h-2.6M81 448.8h2.6M567.8 448.8h-2.6" stroke="#666" stroke-width="0.7" fill="none"/>
<rect x="81" y="249.5" width="486.8" height="211.3" fill="none" stroke="#777" stroke-width="1.3"/>
<path d="M85.3 460.6L87.8 445.6L90.3 431.8L92.8 419.1L95.3 407.4L97.8 396.6L100.3 386.5L102.9 377.2L105.4 368.6L107.9 360.5L110.4 353.0L112.9 346.1L115.4 339.6L117.9 333.5L120.4 327.9L122.9 322.6L125.4 317.7L127.9 313.2L130.4 308.9L133.0 304.9L135.5 301.2L138.0 297.7L140.5 294.4L143.0 291.4L145.5 288.6L148.0 285.9L150.5 283.5L153.0 281.2L155.5 279.0L158.0 277.0L160.5 275.1L163.1 273.4L165.6 271.8L168.1 270.3L170.6 268.9L173.1 267.6L175.6 266.4L178.1 265.3L180.6 264.2L183.1 263.3L185.6 262.4L188.1 261.5L190.6 260.8L193.2 260.1L195.7 259.4L198.2 258.8L200.7 258.2L203.2 257.7L205.7 257.3L208.2 256.8L210.7 256.4L213.2 256.0L215.7 255.7L218.2 255.4L220.7 255.1L223.3 254.8L225.8 254.6L228.3 254.4L230.8 254.2L233.3 254.0L235.8 253.8L238.3 253.6L240.8 253.5L243.3 253.3L245.8 253.2L248.3 253.1L250.8 253.0L253.4 252.9L255.9 252.8L258.4 252.7L260.9 252.6L263.4 252.6L265.9 252.5L268.4 252.4L270.9 252.4L273.4 252.3L275.9 252.3L278.4 252.2L280.9 252.2L283.4 252.1L286.8 252.1L294.0 252.0L301.1 251.9L308.3 251.8L315.5 251.8L322.7 251.8L329.9 251.7L337.1 251.7L344.3 251.7L351.5 251.7L358.7 251.7L365.9 251.6L373.1 251.6L380.3 251.6L387.5 251.6L394.7 251.6L401.9 251.6L409.1 251.6L416.3 251.6L423.5 251.6L430.7 251.6L437.9 251.6L445.1 251.6L452.3 251.6L459.5 251.6L466.7 251.6L473.9 251.6L481.1 251.6L488.3 251.6L495.5 251.6L502.7 251.6L509.9 251.6L517.1 251.6L524.3 251.6L531.5 251.6L538.7 251.6L545.9 251.6L553.1 251.6L560.3 251.6L567.5 251.6" stroke="#1a1a6e" stroke-width="1.4" fill="none"/>
<path d="M85.3 460.6L87.8 445.6L90.3 431.8L92.8 419.1L95.3 407.4L97.8 396.6L100.3 386.5L102.9 377.2L105.4 368.6L107.9 360.5L110.4 353.0L112.9 346.1L115.4 339.6L117.9 333.5L120.4 327.9L122.9 322.6L125.4 317.7L127.9 313.2L130.4 308.9L133.0 304.9L135.5 301.2L138.0 297.7L140.5 294.4L143.0 291.4L145.5 288.6L148.0 285.9L150.5 283.5L153.0 281.2L155.5 279.0L158.0 277.0L160.5 275.1L163.1 273.4L165.6 271.8L168.1 270.3L170.6 268.9L173.1 267.6L175.6 266.4L178.1 265.3L180.6 264.2L183.1 263.3L185.6 262.4L188.1 261.5L190.6 260.8L193.2 260.1L195.7 259.4L198.2 258.8L200.7 258.2L203.2 257.7L205.7 257.3L208.2 256.8L210.7 256.4L213.2 256.0L215.7 255.7L218.2 255.4L220.7 255.1L223.3 254.8L225.8 254.6L228.3 254.4L230.8 254.2L233.3 254.0L235.8 253.8L238.3 253.6L240.8 253.5L243.3 253.3L245.8 253.2L248.3 253.1L250.8 253.0L253.4 252.9L255.9 252.8L258.4 252.7L260.9 252.6L263.4 252.6L265.9 252.5L268.4 252.4L270.9 252.4L273.4 252.3L275.9 252.3L278.4 252.2L280.9 252.2L283.4 252.1L286.8 252.1L294.0 252.0L301.1 251.9L308.3 251.8L315.5 251.8L322.7 251.8L329.9 251.7L337.1 251.7L344.3 251.7L351.5 251.7L358.7 251.7L365.9 251.6L373.1 251.6L380.3 251.6L387.5 251.6L394.7 251.6L401.9 251.6L409.1 251.6L416.3 251.6L423.5 251.6L430.7 251.6L437.9 251.6L445.1 251.6L452.3 251.6L459.5 251.6L466.7 251.6L473.9 251.6L481.1 251.6L488.3 251.6L495.5 251.6L502.7 251.6L509.9 251.6L517.1 251.6L524.3 251.6L531.5 251.6L538.7 251.6L545.9 251.6L553.1 251.6L560.3 251.6L567.5 251.6" stroke="#000" stroke-width="0.9" fill="none"/>
<path d="M85.3 460.6L87.8 445.3L90.3 431.2L92.8 418.0L95.3 405.9L97.8 394.6L100.3 384.1L102.9 374.4L105.4 365.5L107.9 357.1L110.4 349.4L112.9 342.3L115.4 335.6L117.9 329.5L120.4 323.8L122.9 318.5L125.4 313.6L127.9 309.1L130.4 304.9L133.0 301.0L135.5 297.4L138.0 294.0L140.5 290.9L143.0 288.0L145.5 285.4L148.0 282.9L150.5 280.6L153.0 278.5L155.5 276.5L158.0 274.7L160.5 273.0L163.1 271.4L165.6 270.0L168.1 268.7L170.6 267.4L173.1 266.2L175.6 265.2L178.1 264.2L180.6 263.3L183.1 262.4L185.6 261.6L188.1 260.9L190.6 260.2L193.2 259.6L195.7 259.0L198.2 258.5L200.7 258.0L203.2 257.5L205.7 257.1L208.2 256.7L210.7 256.3L213.2 255.9L215.7 255.6L218.2 255.3L220.7 255.1L223.3 254.8L225.8 254.6L228.3 254.4L230.8 254.2L233.3 254.0L235.8 253.8L238.3 253.6L240.8 253.5L243.3 253.3L245.8 253.2L248.3 253.1L250.8 253.0L253.4 252.9L255.9 252.8L258.4 252.7L260.9 252.6L263.4 252.6L265.9 252.5L268.4 252.4L270.9 252.4L273.4 252.3L275.9 252.3L278.4 252.2L280.9 252.2L283.4 252.1L286.8 252.1L294.0 252.0L301.1 251.9L308.3 251.8L315.5 251.8L322.7 251.8L329.9 251.7L337.1 251.7L344.3 251.7L351.5 251.7L358.7 251.7L365.9 251.6L373.1 251.6L380.3 251.6L387.5 251.6L394.7 251.6L401.9 251.6L409.1 251.6L416.3 251.6L423.5 251.6L430.7 251.6L437.9 251.6L445.1 251.6L452.3 251.6L459.5 251.6L466.7 251.6L473.9 251.6L481.1 251.6L488.3 251.6L495.5 251.6L502.7 251.6L509.9 251.6L517.1 251.6L524.3 251.6L531.5 251.6L538.7 251.6L545.9 251.6L553.1 251.6L560.3 251.6L567.5 251.6" stroke="#f01414" stroke-width="1.5" stroke-dasharray="9 2.5" fill="none"/>
<path d="M85.3 262.446H566.8" stroke="#1a25c4" stroke-width="1.85" stroke-dasharray="11.5 2.3 1.8 2.3" stroke-dashoffset="13.4" fill="none"/>
<text x="85.3" y="475.2" class="tk" font-size="10.9" text-anchor="middle">0</text>
<text x="151.3" y="475.2" class="tk" font-size="10.9" text-anchor="middle">0.0001</text>
<text x="217.4" y="475.2" class="tk" font-size="10.9" text-anchor="middle">0.0002</text>
<text x="283.4" y="475.2" class="tk" font-size="10.9" text-anchor="middle">0.0003</text>
<text x="349.5" y="475.2" class="tk" font-size="10.9" text-anchor="middle">0.0004</text>
<text x="415.6" y="475.2" class="tk" font-size="10.9" text-anchor="middle">0.0005</text>
<text x="481.6" y="475.2" class="tk" font-size="10.9" text-anchor="middle">0.0006</text>
<text x="547.6" y="475.2" class="tk" font-size="10.9" text-anchor="middle">0.0007</text>
<text x="78" y="275.7" class="tk" font-size="10.9" text-anchor="end">-0.1</text>
<text x="78" y="295.4" class="tk" font-size="10.9" text-anchor="end">-0.2</text>
<text x="78" y="315.2" class="tk" font-size="10.9" text-anchor="end">-0.3</text>
<text x="78" y="334.9" class="tk" font-size="10.9" text-anchor="end">-0.4</text>
<text x="78" y="354.6" class="tk" font-size="10.9" text-anchor="end">-0.5</text>
<text x="78" y="374.3" class="tk" font-size="10.9" text-anchor="end">-0.6</text>
<text x="78" y="394.0" class="tk" font-size="10.9" text-anchor="end">-0.7</text>
<text x="78" y="413.8" class="tk" font-size="10.9" text-anchor="end">-0.8</text>
<text x="78" y="433.5" class="tk" font-size="10.9" text-anchor="end">-0.9</text>
<text x="78" y="453.2" class="tk" font-size="10.9" text-anchor="end">-1</text>
<text x="42.6" y="259.8" class="tk" font-size="11.3">×10<tspan dy="-4.4" font-size="8.2">-9</tspan></text>
<text transform="translate(38.8 361.6) rotate(-90)"><tspan class="mi bk" font-size="16">F</tspan><tspan class="tk" font-size="14" dx="3.5">(N)</tspan></text>
<text x="296.8" y="496.2"><tspan class="mi bk" font-size="17">z</tspan><tspan class="tk" font-size="14" dx="4.5">(m)</tspan></text>
<text y="315.3" class="mr bk" font-size="17.5"><tspan x="150.3" class="mi">F</tspan><tspan class="mi" dy="3.6" font-size="12.5">ac</tspan><tspan x="180" dy="-3.6">=</tspan><tspan x="194.6">−1.06</tspan><tspan x="240.5">×</tspan><tspan x="256">10</tspan><tspan dy="-6.4" font-size="12.5">−9</tspan><tspan x="291.3" dy="6.4" class="mi">e</tspan><tspan x="302.4" dy="-6.4" font-size="13.2">−20000</tspan><tspan font-size="13.2" class="mi">z</tspan></text>
<rect x="349.7" y="332" width="213" height="48" fill="#bbb" opacity="0.5"/>
<rect x="348.8" y="331" width="213" height="48" fill="#fff" stroke="#666" stroke-width="0.9"/>
<path d="M352 339.8H364.5" stroke="#222" stroke-width="1.1"/><path d="M352 354.8H364.5" stroke="#f01414" stroke-width="1.1" stroke-dasharray="3.5 1.5"/><path d="M352 370H364.5" stroke="#1428d2" stroke-width="1.1" stroke-dasharray="4.5 1.3 1 1.3"/>
<text x="366.6" y="343.8" class="tk" font-size="11.05">Vertical (z) acoustic radiation force</text>
<text x="366.6" y="358.8" class="tk" font-size="11.05">Exponential fitting</text>
<text x="366.6" y="374" class="tk" font-size="11.05">Buoyancy - Gravity</text>
<rect x="157" y="352" width="108" height="95" fill="#fff"/>
<circle cx="204.8" cy="373" r="14.2" fill="#437ab4"/>
<path d="M205.5 382.6h0.7M197.9 380.4h0.7M202.5 370.6h0.7M216.7 374.0h0.7M204.4 379.3h0.7M213.7 372.8h0.7M209.4 365.3h0.7M201.6 369.1h0.7M196.8 363.9h0.7M193.7 371.4h0.7M203.2 370.1h0.7M205.3 363.0h0.7M204.1 375.2h0.7M210.7 366.3h0.7M202.4 361.0h0.7M202.0 360.8h0.7M195.6 380.1h0.7M193.0 377.3h0.7M207.7 370.2h0.7M208.8 377.6h0.7M213.2 371.1h0.7M199.8 367.9h0.7M196.7 372.6h0.7M198.9 381.0h0.7M194.1 366.7h0.7M199.6 361.6h0.7M212.8 362.8h0.7M202.3 368.4h0.7M213.0 363.2h0.7M212.9 367.5h0.7M203.5 367.2h0.7M209.6 364.4h0.7M204.1 376.2h0.7M212.7 362.7h0.7M214.7 379.2h0.7M200.5 375.7h0.7M201.7 384.0h0.7M206.7 371.0h0.7M202.7 371.2h0.7M203.3 365.7h0.7M214.2 364.2h0.7M191.8 372.6h0.7M203.5 376.4h0.7M202.9 371.6h0.7M207.5 380.9h0.7M200.8 369.7h0.7M216.5 376.2h0.7M199.8 384.7h0.7M211.2 368.2h0.7M195.7 375.3h0.7M198.6 365.1h0.7M195.2 369.3h0.7M213.4 369.6h0.7M194.8 377.6h0.7M205.4 380.1h0.7M214.1 371.7h0.7M203.5 372.6h0.7M196.3 378.0h0.7M214.9 374.3h0.7M202.6 370.6h0.7M198.6 366.6h0.7M201.5 366.0h0.7M201.8 362.2h0.7M208.0 373.4h0.7M199.1 361.6h0.7M204.7 381.8h0.7M198.6 368.9h0.7M200.0 378.5h0.7M198.0 380.4h0.7M202.3 380.6h0.7M205.1 370.9h0.7M194.7 368.3h0.7M202.5 378.7h0.7M206.9 367.0h0.7M208.1 380.9h0.7M203.5 369.1h0.7M201.5 379.8h0.7M209.1 365.5h0.7M208.1 368.8h0.7M199.4 382.0h0.7M211.4 367.2h0.7M205.5 377.5h0.7M199.2 371.9h0.7M209.0 361.8h0.7M207.6 379.3h0.7M208.5 363.2h0.7M207.4 365.8h0.7M209.6 378.1h0.7M206.6 366.5h0.7M200.0 379.9h0.7" stroke="#7fa6cc" stroke-width="0.7"/>
<path d="M196.5 380V399M213.3 381V400" stroke="#000" stroke-width="1.5"/><path d="M196.5 404.3l-3-6.6h6zM213.3 405.3l-3-6.6h6z" fill="#000"/>
<text y="399" class="mi bk" font-size="16.5"><tspan x="168.3">F</tspan><tspan dy="3.4" font-size="12">ac</tspan><tspan x="219" dy="-3.4">F</tspan><tspan dy="3.4" dx="-0.8" font-size="11.5">G</tspan><tspan dy="-3.4" class="mr">-</tspan><tspan>F</tspan><tspan dy="3.4" dx="-0.8" font-size="11.5">B</tspan></text>
<path d="M162.3 437.4L163.8 437.3L165.2 436.9L166.7 436.3L168.2 435.5L169.7 434.4L171.1 433.4L172.6 432.6L174.1 431.9L175.6 431.1L177.0 430.2L178.5 429.3L180.0 428.4L181.4 427.3L182.9 426.3L184.4 425.2L185.9 424.0L187.3 422.9L188.8 421.8L190.3 420.6L191.8 419.6L193.2 418.5L194.7 417.6L196.2 416.7L197.6 415.9L199.1 415.2L200.6 414.6L202.1 414.2L203.5 413.9L205.0 413.8L206.5 413.8L208.0 414.0L209.4 414.3L210.9 414.8L212.4 415.3L213.9 416.0L215.3 416.8L216.8 417.7L218.3 418.7L219.7 419.8L221.2 420.9L222.7 422.0L224.2 423.1L225.6 424.3L227.1 425.4L228.6 426.5L230.1 427.5L231.5 428.6L233.0 429.5L234.5 430.4L235.9 431.3L237.4 432.0L238.9 432.7L240.4 433.5L241.8 434.5L243.3 435.5L244.8 436.4L246.3 437.0L247.7 437.3L249.2 437.4z" fill="url(#gm)"/>
<path d="M162 437.5H249.5" stroke="#222" stroke-width="0.8"/>
</svg>
</body></html>
